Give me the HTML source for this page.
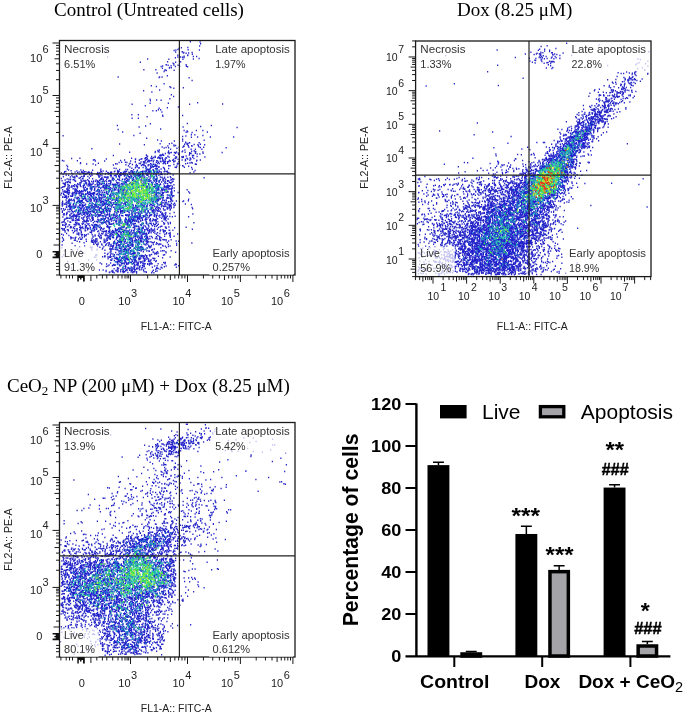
<!DOCTYPE html><html><head><meta charset="utf-8"><style>html,body{margin:0;padding:0;background:#fff;}svg{display:block;}</style></head><body><svg width="685" height="716" viewBox="0 0 685 716"><g id="dots"><g transform="scale(0.25)" stroke-width="5.2" fill="none"><path stroke="#2828c8" d="M759 167h5m34 1h5m-3 7h5m-401 8h5m314 8h5m21-1h5m42-6h5m-378 22h5m266-4h5m2-2h5m3-2h5m0-4h5m7 13h5m-4 0h5m18-8h5m40 1h5m-100 8h5m4 13h5m17-9h5m-3-2h5m4 3h5m1 9h5m-4-2h5m-2-8h5m9-2h5m-4 7h5m-344 11h5m155 8h5m80 1h5m21-6h5m5-3h5m6 0h5m3 1h5m-4 8h5m0-7h5m-5-5h5m32 1h5m-5 10h5m8-10h5m5 8h5m-240 15h5m104-2h5m17 6h5m5-4h5m15-2h5m-83 19h5m1-2h5m9-5h5m-4 0h5m2 2h5m1 9h5m1-7h5m-4 8h5m5-15h5m-5 4h5m1 6h5m6-5h5m1 4h5m21-6h5m-4 6h5m0 2h5m-180 12h5m43 0h5m21-6h5m2 13h5m-2-6h5m-3 0h5m-1 2h5m7-10h5m14 9h5m194-8h5m-272 19h5m36 11h5m-202 5h5m159 2h5m-3-2h5m5 0h5m103 3h5m-105 24h5m107-13h5m-168 21h5m15 3h5m49 1h5m-1 3h5m45 1h5m-164 12h5m59-3h5m52-7h5m-93 15h5m73 11h5m-90 18h5m74-2h5m10-9h5m-99 27h5m-4-10h5m20-3h5m13 1h5m24 12h5m112-2h5m-267 6h5m48 6h5m83 8h5m39-3h5m40-11h5m127-1h5m-284 27h5m9 0h5m3-4h5m-2-6h5m1 6h5m-120 20h5m21 0h5m89-11h5m-2 13h5m75 1h5m-207 11h5m20 0h5m-5 0h5m30-6h5m58-2h5m-55 30h5m143-1h5m-285 8h5m82 6h5m21-4h5m145 4h5m65-2h5m38-4h5m98 8h5m-481 8h5m165-2h5m89 6h5m7 2h5m-3 3h5m30-5h5m21 0h5m-564 21h5m233-15h5m40 14h5m20-9h5m179-4h5m16 9h5m-5 1h5m-2-9h5m6 9h5m27 3h5m13-14h5m-248 25h5m139 4h5m-5-11h5m8-2h5m17 5h5m20-1h5m46 0h5m88 0h5m-309 12h5m5 15h5m0-11h5m27 11h5m5-2h5m5-9h5m28 0h5m7 5h5m-4 2h5m4 2h5m1-2h5m33 0h5m15-10h5m-343 15h5m94 3h5m66 9h5m11 2h5m2-6h5m-2 7h5m16-11h5m-4 4h5m1-2h5m9 7h5m10 0h5m-2-5h5m-3 1h5m-3-8h5m4-1h5m-2 3h5m-2 4h5m-3 6h5m6-6h5m-3 1h5m3-6h5m10 1h5m-3 3h5m-3 5h5m1-10h5m-5 13h5m8-1h5m-1-10h5m81 12h5m-542 4h5m249 11h5m5-4h5m-4 4h5m0-6h5m14-8h5m13 12h5m3-7h5m20-4h5m5 5h5m6 9h5m-3-3h5m4-4h5m20-3h5m-3 8h5m5-2h5m-1 3h5m-4-9h5m-3 10h5m19-10h5m-359 25h5m60-13h5m62 11h5m-5 2h5m30-12h5m11-2h5m-1 13h5m-1 2h5m-2-2h5m2 0h5m2-7h5m6-3h5m-4-2h5m-2 6h5m-2-4h5m1-1h5m6 11h5m-4-11h5m-1 1h5m-4 2h5m-2-5h5m2 4h5m-3 6h5m21-9h5m12 11h5m-4-9h5m-5 3h5m-5-1h5m-2 1h5m-3 0h5m-4-1h5m0 9h5m0 0h5m2-9h5m2 3h5m6 0h5m7-8h5m-4 5h5m71-3h5m-607 24h5m28-1h5m54 6h5m42-3h5m96-3h5m10 4h5m-4-1h5m16 1h5m-1-2h5m7-1h5m-2-1h5m-5-2h5m0-1h5m-3 5h5m-4-10h5m8 8h5m-2-7h5m-5 7h5m-1 0h5m0-3h5m0-5h5m-4 4h5m4 3h5m-1-4h5m-2 5h5m-3 1h5m-4-4h5m-4 5h5m3-3h5m-4 6h5m-4 0h5m4-2h5m-4 3h5m-3-8h5m-2 1h5m0-7h5m0 4h5m13 9h5m1-5h5m-2 1h5m-5-7h5m-2 2h5m1 8h5m10-10h5m-4 3h5m0-1h5m-5-3h5m3 12h5m-2-14h5m-2 9h5m-2 3h5m5-4h5m-4 3h5m-3 1h5m2-7h5m0 5h5m8-8h5m26 2h5m-575 14h5m1 2h5m49-1h5m7 11h5m-4-3h5m46-11h5m3 4h5m7 9h5m20-9h5m39 11h5m9-5h5m1-8h5m-1 7h5m7-9h5m-2 9h5m1 1h5m8 3h5m-3-9h5m14 4h5m-5-2h5m10 8h5m-4-14h5m-5 1h5m-1 13h5m-2-6h5m4-1h5m-3 5h5m-4 2h5m-4-5h5m-4-1h5m-3-3h5m-4-4h5m-2 11h5m1-5h5m-3-5h5m-2 2h5m-4 3h5m-4-4h5m1 0h5m-1-1h5m-5-2h5m1 7h5m-3-6h5m6 2h5m-1 1h5m-5 10h5m2 0h5m1-7h5m6-3h5m-4 5h5m-5 3h5m-3-6h5m-3 4h5m-2-4h5m-5 9h5m3-2h5m-5-6h5m0-1h5m-3-5h5m-1 3h5m4-3h5m-1 4h5m-4 3h5m0-4h5m6 9h5m-1-7h5m8-6h5m8 3h5m-4-2h5m-5 14h5m3-2h5m4-12h5m-5 11h5m1-2h5m-1 2h5m12-8h5m-4-3h5m9-1h5m-539 22h5m-2 5h5m71-11h5m21 0h5m5 4h5m66 0h5m10-4h5m30 3h5m5 4h5m-1-7h5m-3 12h5m5-10h5m7 13h5m-3-7h5m-3-6h5m-2 10h5m-4-5h5m2 8h5m4-9h5m2-3h5m-5 11h5m3-7h5m-3 3h5m5-3h5m-5-3h5m-1-1h5m2 3h5m-3 8h5m-3-13h5m-3 9h5m-3 2h5m-2-11h5m-2 8h5m-2-7h5m-3 6h5m-4-6h5m0 6h5m2 5h5m13 1h5m16-7h5m1 0h5m10-5h5m0 11h5m0 1h5m-3-6h5m-3-8h5m2 0h5m-3 5h5m7 2h5m-3 1h5m0 5h5m12-4h5m7 5h5m10-13h5m-5-1h5m-1 1h5m-532 30h5m0-1h5m1-10h5m0 4h5m5 3h5m18 1h5m11-4h5m-2 7h5m2-5h5m-1 5h5m1 0h5m7 0h5m10-6h5m28-4h5m-4 10h5m-4-1h5m2-2h5m8 1h5m26-12h5m-4 14h5m-3-2h5m0-11h5m1 12h5m-5-4h5m0 3h5m-2-7h5m15 9h5m-4-2h5m-5 1h5m-4 1h5m-2-9h5m2 0h5m8 6h5m-2-1h5m-4-10h5m2 6h5m6 8h5m30-3h5m-3 2h5m-4-11h5m-3 10h5m-2-6h5m-2-3h5m-1 3h5m-2-2h5m-3 5h5m7-3h5m1 6h5m-4 1h5m-3-11h5m0 2h5m-4-3h5m-5-1h5m-3 12h5m2-4h5m-3 6h5m13-14h5m-5 14h5m-4-13h5m-4 4h5m-4 7h5m1 1h5m-1-1h5m0-11h5m90 3h5m6 5h5m-540 10h5m2 6h5m0-7h5m2 9h5m-4 0h5m4 1h5m7-8h5m-4 10h5m-1-7h5m4-8h5m5 3h5m1-3h5m-2 9h5m1-8h5m0 0h5m-4 1h5m-4 3h5m-2 9h5m-4-3h5m-4-5h5m0 3h5m-3-1h5m-1-3h5m-2-1h5m-5-2h5m0 0h5m-3 9h5m-4-8h5m2 4h5m-5-6h5m-4 4h5m-4 8h5m14-4h5m-2-7h5m-5 6h5m-4-1h5m-4 3h5m-5 2h5m-3-6h5m-5 8h5m-3-9h5m-2-2h5m3 10h5m-3-8h5m7 3h5m-4-2h5m4-4h5m-3 6h5m0-2h5m-1 1h5m-5-6h5m-5 4h5m-4-2h5m-5 11h5m-3-1h5m12 1h5m2-5h5m-5-4h5m4 4h5m-3 3h5m-4 2h5m-4-11h5m-2 1h5m-5 8h5m2-4h5m-4-7h5m-3 1h5m-4 7h5m-5 1h5m-5-3h5m0 5h5m-3-7h5m0 6h5m-4 3h5m1-13h5m-2 8h5m-3-1h5m-2-7h5m-5 14h5m4-11h5m-2 1h5m-5-5h5m-1 9h5m0 6h5m-4-12h5m4 11h5m-4-12h5m7-1h5m0-1h5m4 5h5m-1 2h5m1-1h5m-4-5h5m3-1h5m-2 13h5m-5-4h5m6-9h5m-4 6h5m-3-2h5m2 3h5m-3-3h5m2 0h5m6-4h5m-1 10h5m6 0h5m5-1h5m-5-9h5m-2 2h5m0 3h5m-1 1h5m6 6h5m63-9h5m10-3h5m-535 26h5m3-7h5m10 9h5m2 1h5m1 2h5m-5-11h5m-4 9h5m4-9h5m-4 11h5m-3-1h5m-3-9h5m-2-3h5m-5 6h5m2-8h5m-3 2h5m3 7h5m0-2h5m-1-5h5m-1 9h5m-2-1h5m-5-7h5m0-2h5m9 1h5m1 6h5m0-7h5m3 10h5m20-9h5m-4 3h5m-1-5h5m-5 0h5m0 11h5m-4 2h5m-3-8h5m-1 8h5m4-8h5m0 8h5m-3-7h5m-1 2h5m7-5h5m0 8h5m-3-5h5m-5 3h5m-2 1h5m-3 4h5m4-13h5m0 12h5m1 0h5m-4-11h5m-4 4h5m14-6h5m-5 13h5m2-8h5m-3 4h5m-1 4h5m2-10h5m7 7h5m6-9h5m2 6h5m-1 5h5m4-7h5m0-4h5m9 3h5m2 11h5m-3-7h5m7 2h5m10 2h5m3 0h5m-1 3h5m-5-4h5m-4-2h5m-5-1h5m8-4h5m1 2h5m-4-1h5m-2 7h5m-2 0h5m-2-4h5m-4-3h5m-1 8h5m4-8h5m5-2h5m-3 4h5m-1 8h5m-2-4h5m0 2h5m116-6h5m-573 12h5m-1 10h5m-1 1h5m-1-14h5m-5 14h5m-3-4h5m1-3h5m1-2h5m-3 4h5m0 2h5m-5-2h5m12-9h5m-4 3h5m-2 2h5m3 10h5m4-4h5m-1-11h5m-4 9h5m-5 2h5m-4-7h5m1 1h5m-1-3h5m-1 3h5m-3-2h5m-3-1h5m-4 8h5m-5 0h5m-3 3h5m3-10h5m-3 10h5m-4-4h5m-2 5h5m7-6h5m5-3h5m-3-5h5m0 15h5m-4-11h5m-4 5h5m-2-2h5m-2-5h5m-4 9h5m6 3h5m9-11h5m-2 4h5m-5 8h5m7-13h5m-1 4h5m17-3h5m-3 7h5m-3 1h5m2 0h5m-1-9h5m12 7h5m0 0h5m-4 4h5m-2-2h5m0-7h5m-3-3h5m1 14h5m10 0h5m-4-10h5m-2 1h5m-2-2h5m-2 3h5m3 2h5m8 1h5m-5-9h5m3 2h5m-2 7h5m-3-7h5m1 0h5m-4-3h5m2 4h5m-2-4h5m-1 0h5m0 3h5m-1 7h5m3-8h5m4 13h5m-3-10h5m-5 10h5m-5-14h5m-2 14h5m1-8h5m-4 2h5m-3-6h5m8-1h5m-1 2h5m1 1h5m3-2h5m-4 12h5m-5-10h5m-1-2h5m-2 6h5m-1 2h5m-4 1h5m-4-12h5m0 8h5m-1-3h5m-448 24h5m-2-2h5m-1 0h5m-4-10h5m-3 3h5m-4 2h5m-5 2h5m-4-6h5m5 13h5m-5-13h5m-4 1h5m-5 7h5m0-4h5m-3 7h5m2-5h5m-4 5h5m0-6h5m-4 1h5m-5 0h5m-1 2h5m2-5h5m-4 5h5m-3-4h5m-2 5h5m4-10h5m-3 6h5m-3 3h5m5 3h5m-5-5h5m-1-3h5m5-2h5m0 5h5m-2-7h5m-3 1h5m1 3h5m-5-2h5m-3 12h5m-2-14h5m-5 9h5m-3 4h5m-2-3h5m-2 0h5m-1-8h5m2 8h5m-4-8h5m-3 4h5m-4-1h5m-2 8h5m-3-1h5m-2-11h5m0 12h5m2-2h5m-4-1h5m-3-1h5m3 0h5m-4-6h5m-4 4h5m-3-2h5m-4-4h5m-1 5h5m-3 3h5m3 5h5m-5-13h5m4-1h5m0 13h5m2-6h5m-5 5h5m-3-10h5m-5 10h5m-3-9h5m1 3h5m-3 8h5m-3-8h5m-4 7h5m5-4h5m-4-8h5m0 7h5m-3 4h5m26-12h5m0 2h5m42-1h5m-2-2h5m12 13h5m10-2h5m0-9h5m-4 12h5m6-10h5m-4 7h5m-2 1h5m-4 0h5m-3-4h5m0-6h5m8-2h5m-3 11h5m-5-4h5m0 5h5m-4-2h5m-3 5h5m-1-8h5m-4 6h5m-2-5h5m-4 7h5m-2-7h5m-4 1h5m0-3h5m1 3h5m1-6h5m-456 13h5m1 7h5m-3 7h5m1-2h5m-3 1h5m1 2h5m-4 0h5m-5-9h5m-5-3h5m-3 5h5m-4 1h5m-3-3h5m-3 5h5m-3 0h5m17-7h5m-3 7h5m-3-7h5m-5 5h5m-1-2h5m-4 6h5m-3-13h5m-2 15h5m0-4h5m0 4h5m-1-3h5m5-10h5m-4 6h5m1 1h5m-4-2h5m-1-1h5m-4-3h5m-4 12h5m5-15h5m-3 4h5m-2 6h5m-3-5h5m5 4h5m-4-6h5m-5 4h5m6 5h5m-4-6h5m-4 4h5m-3-4h5m-3 8h5m2-12h5m8 8h5m-3-8h5m-2 2h5m0 11h5m6-7h5m-2 0h5m1 4h5m-2-11h5m5 3h5m-2 1h5m8-3h5m-5 5h5m-5 7h5m4-13h5m2 11h5m-5-10h5m12 10h5m3-10h5m15 9h5m0-10h5m77 1h5m-2 7h5m1 0h5m10-2h5m-5-6h5m0 7h5m-2-4h5m1 1h5m-1 3h5m-2 4h5m0 2h5m-2-9h5m3-1h5m-4 0h5m-5 11h5m-3-12h5m-5 7h5m-4-10h5m-5 2h5m-3-2h5m2 0h5m-4 11h5m46-4h5m1 8h5m-516 13h5m-3-7h5m7 7h5m-3-12h5m-1 14h5m0-10h5m-2-1h5m-2 5h5m-4 0h5m-2-6h5m5 4h5m-4 8h5m-4-1h5m-3-5h5m-5-4h5m1-1h5m-3 11h5m0-11h5m-3 2h5m5-1h5m-4 3h5m-4 8h5m-1-12h5m-5 12h5m-3-2h5m-5-3h5m-3-4h5m1 3h5m-5-1h5m4 1h5m2-3h5m-1 4h5m0 0h5m-5-10h5m-2 5h5m-4 10h5m-4-7h5m-4-2h5m-4 1h5m3-4h5m-4 8h5m-4 3h5m-3-8h5m-4 0h5m-5-4h5m6 4h5m-3 5h5m-1 3h5m-2-6h5m-4-8h5m-5 10h5m0 1h5m-2-3h5m-4-7h5m-3 0h5m1 10h5m8-2h5m0-9h5m8 1h5m-1 1h5m-3 8h5m7-7h5m-3 8h5m1-9h5m8 12h5m12 0h5m45-4h5m16 3h5m11-8h5m20-5h5m-2 10h5m2-7h5m1 0h5m7 5h5m-2 5h5m-4-1h5m-4-11h5m-5 10h5m-4-10h5m-2 3h5m-4 10h5m10-14h5m-4 12h5m-2-12h5m-2 13h5m3-11h5m-4 7h5m-5-5h5m-2 0h5m-5 9h5m-4-9h5m2 11h5m12-13h5m41 2h5m-512 16h5m5 0h5m-1 3h5m-5-6h5m2 3h5m-4-2h5m-1 11h5m-4 1h5m-2-14h5m-1 13h5m-5-12h5m-1 0h5m2 12h5m2-7h5m-1 4h5m2-3h5m-1 4h5m2-7h5m-2 7h5m-4-9h5m-3 10h5m-1-1h5m-3-7h5m-4-1h5m-4-2h5m8 11h5m2-4h5m2-5h5m0 1h5m-2 4h5m-4 5h5m-4 2h5m-1-3h5m-1 3h5m-4 0h5m0-3h5m0-7h5m-4 0h5m-4 4h5m-2-2h5m-2 1h5m-3 4h5m-3-4h5m0-8h5m7 8h5m3 6h5m-5-8h5m6 0h5m4 7h5m-4 1h5m-4-3h5m0 0h5m-4 4h5m0-8h5m7 4h5m3 2h5m17 0h5m-2 1h5m2-12h5m3 3h5m4 4h5m10-3h5m40 9h5m0-4h5m2 1h5m2-10h5m-2 0h5m2 7h5m3 3h5m-4-8h5m-3 2h5m2 6h5m2-5h5m-2 5h5m11-3h5m-4-3h5m-4 3h5m-4-4h5m-4 1h5m-3 2h5m2-7h5m-3 9h5m-5 4h5m-4-7h5m-2 6h5m-2-10h5m-2-3h5m57 13h5m-510 13h5m-4-5h5m-4 8h5m8-3h5m-4 0h5m-2-4h5m-1 7h5m-3-12h5m-3 9h5m-4-7h5m-4 11h5m0-13h5m6-1h5m-5 15h5m-2-7h5m11-5h5m-1 0h5m-4 2h5m-2 5h5m-3-6h5m-1 2h5m-2 4h5m8-9h5m10 13h5m-3-1h5m-4-9h5m-2 1h5m8-2h5m1 6h5m-3-4h5m-4 0h5m-5 3h5m4-1h5m0-5h5m-2-1h5m26 12h5m-4-5h5m-4-2h5m3 3h5m-5 6h5m-2-14h5m10 9h5m4 1h5m-4-6h5m-3 1h5m8 6h5m8-2h5m-4 5h5m-4-7h5m0 1h5m8 6h5m-5-15h5m25 9h5m-3 0h5m1-2h5m3-7h5m-4 9h5m0-7h5m-2 12h5m21-11h5m5 9h5m-3-7h5m2 3h5m0-6h5m0 3h5m-2-3h5m-4-1h5m3 12h5m5-2h5m3-2h5m-4 2h5m-1 0h5m11-5h5m-1 7h5m-4-10h5m-1 1h5m3 9h5m2-9h5m21 2h5m-2-2h5m14-1h5m-510 15h5m-4 6h5m-3-5h5m2-3h5m-3 1h5m0 11h5m3-2h5m-1-9h5m-5 5h5m0 3h5m-4-1h5m-2 4h5m1-4h5m-5-4h5m-4-3h5m1 9h5m-1-2h5m-4-6h5m8 12h5m-4-8h5m-4-2h5m-1 2h5m2-1h5m-3 6h5m5-10h5m1 14h5m-3-4h5m-1 2h5m-3-6h5m-3 7h5m-1-7h5m0 6h5m-4 1h5m-4-9h5m-4 3h5m4 1h5m-4 2h5m-2-4h5m-2 3h5m-3 2h5m6 3h5m3-6h5m-4-7h5m-3 3h5m4-4h5m-4 13h5m-4-4h5m3-8h5m-1 4h5m-1-5h5m2 7h5m-4-4h5m-1 2h5m12 7h5m-5-11h5m-3 2h5m2 10h5m-2-11h5m6 4h5m0-7h5m3 4h5m-3 3h5m9 6h5m8-10h5m-3 5h5m4 4h5m-5-5h5m12 3h5m0 0h5m-1 0h5m-4-6h5m14 4h5m5-2h5m-1-3h5m-3 10h5m-3 2h5m-2-9h5m-1-2h5m0 6h5m1 3h5m7-9h5m0-2h5m-1 9h5m-4-3h5m-3-3h5m2 6h5m-3-2h5m-4-8h5m-3 1h5m-4 7h5m1 3h5m-4-9h5m-2 12h5m0-9h5m-5-4h5m-3 8h5m-5-4h5m-3-3h5m-4 7h5m-5-5h5m-1 7h5m3-11h5m-3 13h5m-4-8h5m-5 1h5m0-3h5m35-4h5m19 2h5m-2 12h5m-528 5h5m-1 9h5m-1-9h5m-2 6h5m0-4h5m5 1h5m2 0h5m-4 9h5m-4-12h5m-4 3h5m-4-6h5m-1 10h5m7 3h5m1-3h5m-4-2h5m2 4h5m-4 3h5m-5-7h5m-4 3h5m-4-3h5m-5 5h5m-4-5h5m-3 3h5m1-7h5m-5 5h5m2 4h5m-4-3h5m-3 0h5m4-3h5m4 8h5m-2-14h5m-1 6h5m-1-3h5m3 6h5m-2 2h5m-5-8h5m-4 1h5m-3-5h5m-5 14h5m0-6h5m-2 0h5m-3 7h5m-1-7h5m0-3h5m-4 4h5m-1 5h5m6-6h5m0-6h5m-1-1h5m-4 2h5m-3-1h5m-3 12h5m-5-7h5m-2 3h5m-1-6h5m-3 3h5m-2 7h5m15-10h5m0-3h5m0-1h5m-4 7h5m-5 8h5m-2-1h5m-2-8h5m2 6h5m-3 3h5m-5-14h5m-4 13h5m-5 0h5m-4-2h5m-2-1h5m0 3h5m-4-4h5m-5-3h5m-4 4h5m13 0h5m-3-9h5m5 10h5m-2-8h5m-2 9h5m-5-7h5m-1 5h5m-4-11h5m-3 10h5m-3-5h5m-2 2h5m0 0h5m3 5h5m-1 2h5m14-8h5m6 6h5m-3 1h5m2-7h5m1-2h5m-4 7h5m-4-10h5m-4 9h5m-4 5h5m-3-3h5m-3-6h5m-5 3h5m1 4h5m-3-10h5m-1 5h5m-2-8h5m-5 11h5m-1-6h5m-3 8h5m-3-13h5m-1 4h5m-3 10h5m5-11h5m-2 6h5m7-6h5m-3 1h5m2-4h5m-2 8h5m-4-2h5m-2-5h5m81 2h5m-526 14h5m-1 9h5m-3 2h5m-4-1h5m-5-4h5m4 4h5m-4-5h5m-3-2h5m5 8h5m-5 0h5m-4 2h5m-4 1h5m-2-7h5m-1-3h5m1-5h5m-1 12h5m-3 1h5m-1 1h5m-4 1h5m-2-5h5m0-7h5m-1 6h5m0-3h5m-2 2h5m1-6h5m-2-1h5m-4 8h5m-2-6h5m-4 6h5m-3 6h5m-5-15h5m-1 4h5m-5 2h5m-2 2h5m-5-6h5m-3 9h5m-5-4h5m-1-4h5m-1 8h5m-4 4h5m5-1h5m-2-14h5m-1 1h5m9 7h5m0 5h5m-5-2h5m-4 1h5m1-11h5m-5 10h5m-4-11h5m-4 9h5m-5 6h5m1 0h5m-2-13h5m-3 1h5m-4 1h5m-5 11h5m-1-6h5m5 1h5m3 2h5m3 0h5m6-5h5m-2-7h5m1 4h5m4-4h5m3 1h5m-5 1h5m-1 12h5m0 1h5m-4-15h5m6 11h5m-1 4h5m4-12h5m-5 11h5m6-8h5m-4-3h5m-5 10h5m-2-9h5m10 11h5m1-14h5m1 7h5m-2 2h5m-2-5h5m12 7h5m-1-4h5m-3 5h5m-2 2h5m-2-15h5m0 13h5m0 1h5m-2-3h5m6-4h5m-5 5h5m-4-10h5m-3 10h5m23 2h5m-4-5h5m-5-5h5m0 8h5m1-7h5m-3 5h5m-5 2h5m-4-9h5m11 3h5m12-4h5m70 6h5m-525 12h5m1 11h5m-4-1h5m-5 0h5m-3-2h5m2-3h5m-5-2h5m-5-1h5m0 3h5m1 0h5m1 1h5m-4-7h5m-2-2h5m-1 6h5m-5-4h5m-5 8h5m-4-11h5m4 11h5m-5-10h5m0 1h5m-2 12h5m0-3h5m11 2h5m-4-3h5m-4-4h5m-2-2h5m5 2h5m-4-3h5m-3 8h5m-2-8h5m-1 6h5m-1 6h5m3-13h5m-4 9h5m-4-7h5m-3 11h5m-4 0h5m-5-7h5m13 5h5m-1-12h5m0 14h5m-4-1h5m-1-3h5m-3 2h5m-1-13h5m-4 14h5m-5-6h5m-1 5h5m-3 1h5m-2-4h5m-2-4h5m2 1h5m-4 4h5m-4-2h5m-2 5h5m1-12h5m-5 12h5m-5-7h5m8-2h5m1 2h5m-1-5h5m-3-2h5m0 12h5m-1-11h5m-2 5h5m-4 7h5m-5-5h5m29 7h5m-1-4h5m11-1h5m-4 2h5m-4 3h5m-4-9h5m-3-2h5m-2 11h5m1-14h5m-3 13h5m-2-9h5m-4 3h5m-1-5h5m-2-2h5m1 5h5m10 3h5m-4 4h5m-4-7h5m-2 7h5m5-10h5m-1 8h5m-5 2h5m6-1h5m-1-12h5m-5 15h5m1 0h5m-2-12h5m-5 4h5m5-7h5m-1 5h5m2 4h5m0-6h5m0 12h5m-5-6h5m-4-8h5m-4 3h5m-3 6h5m-3 4h5m-4-10h5m-5 4h5m-3-2h5m-1-5h5m-2 11h5m2-10h5m5 1h5m6-2h5m49 2h5m-512 23h5m-1-2h5m-1-1h5m-4-1h5m-4-6h5m-2 11h5m6-7h5m3 4h5m4-7h5m-3 1h5m-4-2h5m9 14h5m-3-5h5m-1 5h5m-2-13h5m-4 13h5m-4-13h5m7 13h5m-2-7h5m0-4h5m-4 4h5m-2-2h5m-1 2h5m-5 1h5m-4-3h5m-3-5h5m-4 14h5m-3-10h5m9 1h5m1-4h5m-2 10h5m0-5h5m2 0h5m1 4h5m-2-7h5m1-1h5m-5 8h5m-4-8h5m-2 0h5m-2 11h5m-1-2h5m-4-3h5m-3-2h5m-5 6h5m4 0h5m5-4h5m-3-4h5m-4 5h5m-3 3h5m5 3h5m1-2h5m5-4h5m-4 6h5m-5-12h5m2 1h5m-2 1h5m-5 6h5m-2 0h5m-4 1h5m-5-4h5m-4-6h5m-2 2h5m-4 10h5m15-1h5m-5-13h5m-1 1h5m-2 4h5m9 6h5m0-9h5m-4 13h5m-4-1h5m-3-12h5m-2 1h5m-3 2h5m2-1h5m1 4h5m-3-3h5m3-1h5m-4-1h5m-1 11h5m-2-13h5m8 3h5m-4 9h5m-4-5h5m-4 7h5m9-11h5m-2 0h5m2-1h5m-3-3h5m-4 14h5m1-12h5m-1 4h5m-4 6h5m-4 1h5m-5-11h5m1 5h5m12-2h5m1 6h5m-1 3h5m1-11h5m2 7h5m5 0h5m-5 4h5m89-3h5m-530 10h5m-5-1h5m-4-1h5m6 8h5m-5 3h5m-5-12h5m-5 7h5m4 1h5m0-7h5m-3 1h5m-2 11h5m-4-4h5m-4 4h5m-4-2h5m-4-1h5m3 1h5m-2-11h5m-2 8h5m-5-8h5m0 2h5m3-2h5m-3 0h5m-2 0h5m-4 12h5m-3-7h5m1 8h5m-3-1h5m-4-12h5m-4 10h5m5-10h5m-4 12h5m-5-5h5m-2 2h5m3-8h5m1 4h5m4-4h5m-2 3h5m-1 9h5m-3-2h5m-4-4h5m-2 6h5m-4-13h5m-4 5h5m-1-3h5m-4 4h5m-2 2h5m-3 0h5m0 3h5m-1-1h5m-1 3h5m16-13h5m-1 8h5m-4 2h5m0 3h5m-4-14h5m0 0h5m0 0h5m19-1h5m10 12h5m3 1h5m-2-2h5m-2-9h5m0 13h5m-3-12h5m0-1h5m15 12h5m-3-12h5m-3 5h5m-4 7h5m5-5h5m1 0h5m-4 3h5m-4-1h5m1-8h5m5 11h5m-1-8h5m1 3h5m-2 5h5m3-10h5m-3 1h5m-5 1h5m-4 5h5m5-9h5m-1 5h5m1-5h5m-3 1h5m-1-1h5m-1 7h5m-1-4h5m-1-4h5m-5 13h5m2-2h5m-1-3h5m-2 0h5m4-8h5m0 11h5m-3 1h5m5-13h5m-3 12h5m18 3h5m41-2h5m-503 5h5m0 6h5m-5-5h5m1 6h5m-5-6h5m-2 9h5m4-5h5m-1 4h5m-5-3h5m11 2h5m-1-10h5m-4 0h5m-2 14h5m-4-11h5m-4 9h5m3-9h5m-4 9h5m-4-8h5m8-1h5m-4 7h5m4-8h5m3 2h5m-5 7h5m-3 0h5m1-11h5m-3 7h5m6-3h5m-1 7h5m-2 0h5m2 1h5m-1-5h5m2-2h5m-1 9h5m-1-2h5m2-8h5m-4 4h5m-5-1h5m-2-7h5m-5 1h5m-2 12h5m-2-8h5m-4-1h5m-2 9h5m-4-11h5m-1 12h5m0 1h5m-4-3h5m5 1h5m-5-10h5m-3 9h5m-4-4h5m6 2h5m6-7h5m1 6h5m0-2h5m6-5h5m1 11h5m1-3h5m-3 1h5m-4 1h5m-5-3h5m11 5h5m14-3h5m-2-2h5m-3-3h5m-4-6h5m8 3h5m-4 5h5m-3-2h5m-1 0h5m1 6h5m-4-4h5m-4-6h5m-4-1h5m-1 1h5m1 11h5m6-5h5m-4-2h5m1 3h5m3-6h5m-4-1h5m-3 4h5m-3 6h5m1-3h5m-2-5h5m-4 9h5m5-8h5m6 7h5m-3-4h5m4-1h5m-3 6h5m-3-3h5m-5 5h5m0-3h5m-4-1h5m-5 1h5m-3-12h5m-3 1h5m6 8h5m-3 0h5m8 0h5m73-4h5m-528 20h5m2 3h5m2-12h5m1 6h5m4 8h5m13-11h5m10 6h5m-5-4h5m1-1h5m-5 7h5m-4-6h5m-5 6h5m4-3h5m-4-7h5m-4 10h5m-2-1h5m3 1h5m-3 3h5m-1 1h5m-3-4h5m10-10h5m0 2h5m-2 7h5m6 4h5m-4-2h5m8 2h5m-2-6h5m-5-3h5m1 8h5m-3 2h5m-3-9h5m-2 1h5m-3 0h5m-3-7h5m5 15h5m2 0h5m-3-10h5m1-4h5m-4 8h5m-4 2h5m-3-3h5m-4-2h5m-1 0h5m-4-4h5m0 0h5m-3 9h5m-1-7h5m5 2h5m-2 3h5m6 0h5m-3-7h5m0 12h5m-2-13h5m-4 7h5m6 4h5m-3-9h5m-4 7h5m-5 0h5m-2-8h5m-3 8h5m-2-2h5m-4 0h5m6-3h5m-1-2h5m3 3h5m-5 1h5m-4-4h5m1 10h5m-4-7h5m-2-5h5m6 4h5m0 7h5m-4-12h5m-1 8h5m-5-6h5m4 4h5m-4 9h5m-3-4h5m-3-6h5m-5 8h5m23-12h5m6 8h5m-1-6h5m-4 0h5m-5 11h5m-3 1h5m2-9h5m11-4h5m-1 7h5m1-2h5m-4-4h5m4 3h5m-2 8h5m-3-9h5m-5-3h5m-4 8h5m24-2h5m-466 14h5m-2 5h5m25-7h5m-4 7h5m-4-2h5m-3-3h5m1 2h5m3 0h5m-4 2h5m-3-5h5m6 7h5m0-6h5m-2 7h5m-1 0h5m-4-13h5m-3 7h5m3-4h5m26 7h5m-2-9h5m-4 3h5m3-4h5m-2 13h5m-5-2h5m0 1h5m3-11h5m-3 3h5m-4 3h5m0 3h5m-4-4h5m6 7h5m3 1h5m-2-5h5m0-4h5m-1-5h5m-4 7h5m-5 4h5m-4-8h5m-2 10h5m-4-12h5m2 5h5m12 2h5m-4-6h5m4 1h5m-3 0h5m-4 9h5m3-7h5m0 1h5m-3 0h5m-4 3h5m3-8h5m10 6h5m0 7h5m-5-4h5m4-3h5m2-6h5m-3 9h5m0 5h5m-2-12h5m6-1h5m-1 5h5m-4 3h5m-1-2h5m-4 2h5m9 3h5m-3-8h5m-3 5h5m0 2h5m1-10h5m-5 9h5m2-9h5m-2 5h5m7 3h5m-1-7h5m-3 6h5m-4 3h5m4 3h5m-4-5h5m-5-8h5m-4 2h5m0 3h5m2 7h5m-3 1h5m0 0h5m-5-14h5m1 14h5m11-15h5m-4 5h5m-2 10h5m7-14h5m-452 21h5m0-5h5m29 12h5m4-12h5m-1 0h5m2 4h5m5 2h5m13 4h5m4-6h5m15 1h5m-4-5h5m-4 4h5m-4 4h5m-3-6h5m-2 6h5m-4-9h5m-1 5h5m-3 0h5m-5 5h5m-4-6h5m-5-2h5m-4 10h5m-5-12h5m-2 6h5m-2-2h5m-1 8h5m4-5h5m10 3h5m-5-7h5m-3 2h5m1-1h5m2 8h5m1-1h5m11 3h5m-2-3h5m-4-4h5m2 8h5m1-12h5m-1 4h5m3-1h5m-1 3h5m-2-6h5m-1-3h5m-2 12h5m-5 3h5m-4-9h5m-1-1h5m11 7h5m-1-3h5m0 6h5m-1-11h5m-4 6h5m7 1h5m-5-11h5m-4 0h5m-1 6h5m-5-4h5m1 9h5m-4 1h5m2-8h5m-3-3h5m8-1h5m1 4h5m-3 10h5m-3-13h5m-4 7h5m-4-4h5m-5 3h5m-2-1h5m-2 2h5m3-1h5m0 3h5m-1 1h5m0-3h5m4 3h5m0 4h5m6-15h5m-5 2h5m17 1h5m0 7h5m0-6h5m25 0h5m-3 10h5m3-9h5m48 7h5m-525 19h5m-4-11h5m47 3h5m13 5h5m15-4h5m18 6h5m2 0h5m1-14h5m-4 1h5m6 1h5m-2 1h5m-4 7h5m-3-9h5m2 12h5m2-13h5m-3 4h5m2 6h5m2-5h5m-4-1h5m-3-4h5m3 6h5m-4-1h5m-3-4h5m-1 10h5m-2-9h5m-5 4h5m-4-1h5m-5-3h5m1 12h5m-5-4h5m-3 1h5m8-10h5m-5 7h5m4-3h5m0-2h5m-5 9h5m-4-6h5m-4-3h5m0-3h5m-3 12h5m-2-5h5m-2-4h5m-5 7h5m-3 3h5m10-8h5m6 10h5m-3-12h5m13 8h5m-5-4h5m-5 7h5m-4-5h5m-1 4h5m-2-4h5m-3 5h5m-2-1h5m1-2h5m-4 2h5m-1-3h5m-4 3h5m7-11h5m4 13h5m-2-14h5m-2 8h5m-4-2h5m-3 6h5m-5-1h5m-3 3h5m-3-4h5m-3 1h5m-3-6h5m3-4h5m6-1h5m6 2h5m-2-3h5m0 1h5m-5 14h5m2-9h5m-3 2h5m4 1h5m-1 5h5m3-12h5m-5 8h5m2-2h5m21-3h5m-454 22h5m27-2h5m16-3h5m7 4h5m39-10h5m-4 8h5m16 0h5m-5-3h5m16-1h5m-3-4h5m3 9h5m16-5h5m-3 3h5m-4 2h5m-4 5h5m-4-10h5m-2-1h5m-1 2h5m3 0h5m-1 2h5m3 2h5m1 4h5m2-9h5m-4 8h5m2-5h5m-1 5h5m-2-8h5m0 5h5m-3 4h5m4-7h5m10 5h5m-4-2h5m5-5h5m4 4h5m2 1h5m-1-5h5m-3 8h5m-2-12h5m-2 5h5m-2 2h5m-5 8h5m-3-9h5m7 6h5m-5-1h5m5 2h5m4-5h5m-1-2h5m-5 1h5m2-3h5m8 11h5m8-3h5m2-1h5m1 0h5m2 4h5m16-4h5m-435 16h5m67-3h5m3-4h5m43 8h5m0 0h5m27-7h5m-5 10h5m5-5h5m-2-4h5m4 7h5m-3-5h5m-4-2h5m2 2h5m1 3h5m0-9h5m14 5h5m6 4h5m3 1h5m4 3h5m-3-13h5m-2 8h5m1-4h5m-2 1h5m3-1h5m-2-6h5m3 4h5m5 5h5m0-4h5m-4 10h5m1-1h5m-1 0h5m8-2h5m-1 3h5m-3 0h5m5-3h5m-2 0h5m1-2h5m1-10h5m1 8h5m-2-2h5m-1-4h5m-5 0h5m-4 6h5m1-3h5m16 7h5m0-1h5m1-8h5m33-2h5m-458 18h5m123 2h5m1-1h5m22-1h5m3 0h5m-3-1h5m6 2h5m-4 7h5m-2-7h5m-2 1h5m-2-1h5m-2-1h5m-1 8h5m-1-10h5m-1-1h5m-4 8h5m0 2h5m-1 2h5m-4-5h5m-3 6h5m-3-2h5m-3 0h5m-4 3h5m1 1h5m2-6h5m-3-3h5m-4-2h5m-4 5h5m-3-3h5m-1-1h5m-2 4h5m-1 0h5m-3-2h5m-1 3h5m13-9h5m-1 5h5m-4-3h5m2 1h5m-3 6h5m-5 2h5m-3-8h5m6 11h5m-2-1h5m-3-2h5m2-11h5m0 6h5m-4-7h5m-2 1h5m-4 1h5m-3 12h5m-4-4h5m0-6h5m-4 1h5m-4 8h5m7-13h5m0 15h5m2-6h5m0 1h5m-2 0h5m9-9h5m12 6h5m25-3h5m-415 18h5m40 0h5m34-6h5m11 12h5m11-12h5m9 12h5m37-12h5m-5 12h5m-1-11h5m6 1h5m1 5h5m1-2h5m-4 4h5m-4 4h5m-5-7h5m-1 0h5m-1-2h5m-4 5h5m0 3h5m-4-12h5m1 12h5m-1 3h5m1-10h5m-4 5h5m-4 0h5m5 3h5m9 1h5m-2 0h5m-2-2h5m-3-4h5m-1-2h5m-4-5h5m-2 9h5m-3-6h5m2 5h5m-5 6h5m4-3h5m0-4h5m0-4h5m-2 9h5m-2-8h5m-3-3h5m-5 13h5m5 0h5m-2-9h5m-4-5h5m-1 5h5m-5 8h5m-2-11h5m-2 10h5m-5-3h5m-2 5h5m-4 0h5m3-14h5m1 5h5m-2-3h5m2 12h5m17-5h5m0 3h5m-4 2h5m-4-5h5m-380 21h5m115-15h5m14 10h5m-4-10h5m0 8h5m0-4h5m8 3h5m-2-3h5m0 1h5m-1-1h5m3 11h5m4-9h5m-3 2h5m-1-4h5m2 11h5m-1-5h5m-2-10h5m-2 7h5m-4 5h5m-1-10h5m-3-2h5m-1 0h5m-5 14h5m7-2h5m-1 3h5m5-2h5m-5-10h5m-3 3h5m2-4h5m6 9h5m-5 1h5m-3-4h5m7 0h5m-2-8h5m-4 6h5m-4 4h5m8-9h5m-4-1h5m1 4h5m1-4h5m1 13h5m4-5h5m3 7h5m-3-8h5m11 6h5m-1-10h5m4 8h5m2-3h5m30-4h5m-2-4h5m-2 13h5m-5-11h5m4 5h5m-431 17h5m59 7h5m13-15h5m22 8h5m10 0h5m7 2h5m-5 4h5m18 0h5m-4-4h5m-1 3h5m-1-10h5m2 7h5m-4 1h5m0 4h5m-5-8h5m-3-2h5m-4 10h5m-5-5h5m-3-9h5m3 7h5m-5 7h5m-3-9h5m1 7h5m-4-8h5m-3 6h5m6-4h5m-5-1h5m-1 3h5m-5-3h5m-5 0h5m2-4h5m-4-1h5m-3 8h5m-4-6h5m0 6h5m-4 2h5m-5-1h5m-1-1h5m0 6h5m-4-11h5m-3 4h5m-3 7h5m-4-8h5m0-3h5m-4 11h5m-5-14h5m-3 2h5m-5-2h5m3 0h5m-4 6h5m2 0h5m-4-7h5m2 6h5m-3 4h5m-3 5h5m-1-13h5m-2 13h5m21-1h5m-1-5h5m4 4h5m-4-8h5m0-4h5m-5 11h5m-1-10h5m3 3h5m3-5h5m-216 18h5m-3-2h5m6 1h5m1 2h5m31-1h5m-2-2h5m11 2h5m8-2h5m1 0h5m-4 3h5m10 1h5m34-3h5m16 2h5m4 0h5"/><path stroke="#1e1ed0" d="M637 622h5m-1-2h5m2-3h5m-3 4h5m-71 18h5m45-8h5m7 1h5m-58 9h5m2 14h5m18-6h5m3 0h5m3-4h5m3-1h5m-2 10h5m-3 0h5m-90 4h5m1 3h5m-4-1h5m4 10h5m12-4h5m6 1h5m6 0h5m-3-3h5m4 3h5m-238 17h5m68 2h5m20 1h5m1-2h5m18 0h5m14 0h5m-4-4h5m1-9h5m4 15h5m2-3h5m10-4h5m2-1h5m-4 7h5m-3 1h5m-1-2h5m-4-12h5m7 8h5m11-6h5m10 1h5m-344 26h5m91-4h5m26-7h5m4 11h5m-3-7h5m-2-6h5m6 13h5m1-2h5m5-9h5m-4 12h5m2-6h5m5 0h5m15 4h5m1-9h5m7 0h5m-5-1h5m0 5h5m-3 6h5m-4-14h5m-4 4h5m5 7h5m-2-4h5m-5 7h5m-4-4h5m-3-6h5m-4 7h5m-3 1h5m-3-3h5m-4 0h5m-5-7h5m-5 9h5m-4 0h5m2-3h5m-4-8h5m-4 11h5m-4-5h5m-3 2h5m8 4h5m-4-5h5m-5-1h5m-2 4h5m-4 3h5m-4-4h5m1-5h5m2-4h5m-2 15h5m0-7h5m-4-1h5m-3-6h5m3 14h5m-4-6h5m-3-8h5m0-1h5m-2 13h5m1-3h5m-1-6h5m-4 5h5m-301 22h5m47-3h5m0-4h5m1 6h5m-1-10h5m2 1h5m2-2h5m13 12h5m20-13h5m10 11h5m5 2h5m-1-4h5m5-9h5m-2 11h5m-4-7h5m2-4h5m-5 3h5m-2-4h5m1 13h5m-4-7h5m1-6h5m-2 6h5m-3 5h5m-2-5h5m-1-7h5m-1 10h5m-5 0h5m-5-10h5m-3 7h5m-2-5h5m1 8h5m-4-3h5m-5-2h5m-5-4h5m2 6h5m-5-7h5m-5 0h5m-4 10h5m-4 4h5m13 0h5m-5-11h5m-4 11h5m2-10h5m0-4h5m1 8h5m-4-2h5m-3-4h5m0 13h5m-1-14h5m10 13h5m-377 12h5m67 2h5m10-6h5m5 0h5m1 8h5m-3-10h5m-5 2h5m9 6h5m-4-7h5m-2 4h5m1 4h5m-3-13h5m4 7h5m-2-3h5m0 10h5m-5-8h5m12-2h5m-4 11h5m-5 0h5m-1-12h5m-3 10h5m-3-9h5m-5 7h5m22 1h5m1-12h5m5 14h5m8-8h5m-5 7h5m-5-5h5m-1 0h5m-2-5h5m5 2h5m1 6h5m-2-1h5m-4 5h5m-2-14h5m-3 9h5m-4-10h5m-1 1h5m-1 14h5m0-2h5m-3-8h5m-4 4h5m-3 2h5m7-6h5m-4 4h5m-4-9h5m12 11h5m-1-8h5m-3-3h5m2 15h5m-4-9h5m-1 0h5m2 4h5m7-6h5m0 5h5m-2-5h5m15 4h5m8 3h5m-1 2h5m16-2h5m-391 8h5m9-1h5m4 2h5m7 3h5m-4 7h5m-1-12h5m-2 11h5m9-11h5m-3 5h5m0 3h5m-3-8h5m11 10h5m6-9h5m-1 9h5m-5-8h5m4-4h5m-4 1h5m2 5h5m-5 8h5m-5-2h5m-3-3h5m-4-2h5m-3-1h5m-3 9h5m-2-8h5m-4-3h5m-4 7h5m-3-5h5m-5 9h5m6-5h5m-5-2h5m10-5h5m-4 5h5m-2-7h5m-3 5h5m-2-2h5m-4-3h5m-1 14h5m0-14h5m0 6h5m-2-6h5m-3 11h5m1 1h5m-3-3h5m-3-10h5m-3 12h5m-3-12h5m-4 14h5m0-12h5m-4-2h5m-4 9h5m2-7h5m-3 3h5m-3-3h5m10-1h5m-1-1h5m15 13h5m-4-13h5m-2 14h5m3-9h5m-2 1h5m-4-6h5m-1 6h5m-5-3h5m-3-2h5m5 9h5m-3-1h5m-5 4h5m-5 1h5m-3 1h5m-3-6h5m-2-4h5m0 8h5m1-7h5m-2-1h5m-3-5h5m1 11h5m0-2h5m-1-4h5m-2 0h5m-4 9h5m-4-1h5m-4-9h5m1 0h5m-1-4h5m10 13h5m5-3h5m0-4h5m-2 1h5m-410 22h5m2-3h5m-5-8h5m11 1h5m3 9h5m-4 3h5m2-4h5m11 3h5m-3-2h5m0 3h5m-4-2h5m-1-5h5m0 4h5m1-10h5m26 1h5m1 10h5m9-2h5m3-1h5m10-4h5m-1-5h5m-4 3h5m-4 0h5m0 10h5m-4-13h5m-2 1h5m-5 11h5m0-8h5m1 10h5m-4-12h5m-3 5h5m2-3h5m-4 4h5m-4-1h5m2-8h5m-3 8h5m2 5h5m-5-5h5m2-2h5m-4 4h5m-4-8h5m2 6h5m-5-8h5m-3 0h5m-5 11h5m-4-4h5m0 3h5m-5-5h5m5 3h5m3-4h5m0 0h5m3-4h5m-4 0h5m-3 0h5m7 9h5m0-3h5m-2 1h5m-3 5h5m6-8h5m-4 7h5m7-2h5m-2 4h5m-1-4h5m-4 2h5m-5-3h5m-2-5h5m-2 3h5m-4-2h5m-2 0h5m-4-3h5m-5 11h5m-4-10h5m-4 13h5m1-9h5m-3-2h5m-5 8h5m-4 3h5m-4-13h5m-2 13h5m0-2h5m2-11h5m-5 0h5m-4-1h5m-1 4h5m-3-5h5m-4 1h5m-4 1h5m-4 3h5m3 7h5m-1-9h5m-3 5h5m2 0h5m-3 0h5m5-4h5m6-1h5m3 12h5m-439 6h5m-4 4h5m1-8h5m-1-1h5m3 3h5m-4 7h5m11-1h5m-4 4h5m-5 2h5m-4-13h5m4 6h5m0-1h5m5 0h5m-4-7h5m-3 0h5m5 8h5m2 3h5m2-2h5m-3-1h5m1-6h5m-1 2h5m0-4h5m-4 9h5m0 6h5m-1-9h5m-5 2h5m-1 2h5m-4-6h5m6 6h5m5-6h5m-2-3h5m2 14h5m2-4h5m0-9h5m-3 9h5m0-8h5m-3 1h5m-4 1h5m-1 3h5m2 7h5m-4-1h5m-2-5h5m-5 3h5m0-12h5m-2 4h5m6 4h5m-2 1h5m-4-2h5m-4 4h5m1-10h5m-3 2h5m-1 1h5m-5-3h5m4 6h5m-5-4h5m-3 7h5m-1-6h5m0 9h5m-4-6h5m-4 4h5m-5-8h5m-3 5h5m-4-3h5m-4-5h5m-5 6h5m12-5h5m-2 0h5m-4 6h5m12 8h5m-3-8h5m10-4h5m16 2h5m3 3h5m-3 4h5m-4-6h5m1 4h5m-5-9h5m3 6h5m1-6h5m-3 13h5m-3-10h5m-1-2h5m-3 7h5m-4 3h5m-4-3h5m-2 2h5m-4-7h5m2 3h5m-5-5h5m-2 4h5m8 1h5m-2-4h5m1-3h5m1 0h5m16 11h5m-441 10h5m3 0h5m-1-3h5m-2 3h5m-3 4h5m37 2h5m-3-6h5m-1 9h5m-4-1h5m-4 1h5m12-14h5m-5 12h5m0-3h5m-2-1h5m-4 4h5m2-12h5m2 5h5m0 9h5m-4-4h5m3-1h5m4-1h5m-1 6h5m-4-8h5m-4 9h5m7 0h5m8-9h5m1-2h5m-1-2h5m2 6h5m0 4h5m-3-4h5m-4 1h5m-3-9h5m-3 13h5m-2-10h5m2 12h5m0-6h5m-5-3h5m-4 2h5m-5-2h5m-5-6h5m5 2h5m-5 9h5m-4 0h5m1-3h5m-5-4h5m3 8h5m-3-5h5m-1 5h5m-2-11h5m-3 3h5m-4 3h5m-1 4h5m-5 2h5m0-4h5m9-2h5m3 1h5m-2 0h5m6-5h5m-4 10h5m1-6h5m-3 3h5m1-2h5m-3 4h5m-5-11h5m-1 3h5m0-1h5m-3 0h5m0 4h5m-5 8h5m-4-11h5m5-4h5m-2 14h5m7-3h5m-2 4h5m-3-4h5m2 2h5m3-9h5m-4 6h5m-3 4h5m-5-7h5m-2-3h5m-1 6h5m-4-10h5m-5 11h5m0 4h5m-3-6h5m-1 3h5m-4-12h5m-1 0h5m4 6h5m21 2h5m-435 22h5m10-14h5m3 12h5m-4-6h5m-2-5h5m-3 2h5m5-1h5m4 1h5m4 7h5m-2-2h5m-3-2h5m-1-2h5m-2 6h5m1-7h5m-4 11h5m-1-11h5m1 8h5m6-9h5m-3 4h5m-3 0h5m2-6h5m3 0h5m-2 13h5m3-9h5m6-1h5m0 3h5m-1-6h5m1 11h5m-4-6h5m-5 2h5m-3 0h5m-5 1h5m-3-1h5m-1 0h5m-1 4h5m-5-5h5m-4 8h5m-4-1h5m-3 0h5m-4-12h5m-5 13h5m-4-14h5m-4 2h5m-2 9h5m-5-6h5m-4-3h5m0 3h5m-4-4h5m1 7h5m-2 1h5m-4 4h5m5-2h5m0 1h5m-1-7h5m-1-4h5m-5 10h5m-3 3h5m-4-14h5m-5 12h5m-2-9h5m1 1h5m5 7h5m7-3h5m-5 7h5m-4-5h5m-2-2h5m-5 0h5m2-3h5m-1-2h5m7 0h5m10-3h5m-2 6h5m-1 4h5m-4-10h5m-3 0h5m-2 5h5m-5 9h5m-1-9h5m-1 6h5m0 1h5m10-10h5m-5 9h5m13 3h5m-3-12h5m0 2h5m-1 6h5m-4-4h5m6-5h5m-5 5h5m-3-6h5m-4 3h5m-4-2h5m-5 7h5m-2 7h5m12-9h5m-5 6h5m-1-11h5m1 1h5m2-2h5m-4 2h5m-4 8h5m3-3h5m-415 9h5m-3 13h5m-4-9h5m4 4h5m-4-1h5m-4 5h5m-2-10h5m-3 10h5m5 3h5m-2-7h5m-3 7h5m-1-2h5m5-4h5m-3 5h5m-4 0h5m-2-10h5m-4 1h5m-5 9h5m4-5h5m-5 5h5m-4-11h5m-3 6h5m-4 0h5m-2-4h5m-1 0h5m-1 6h5m0 2h5m3 0h5m4 0h5m-5-8h5m-3-1h5m1 7h5m0-8h5m-3 11h5m-5-12h5m-4 2h5m-2-3h5m-2 5h5m-1 9h5m-3-4h5m-5-8h5m-1 0h5m-1 4h5m2-7h5m-3 0h5m-2 5h5m-1-3h5m3-1h5m-1 10h5m-3-10h5m3 6h5m2 5h5m-2-8h5m0 9h5m-4-12h5m-4 12h5m0-12h5m7 9h5m-5-7h5m-4 12h5m-2-5h5m-3-2h5m-1-5h5m1 12h5m9-12h5m-4 4h5m2-2h5m-4 9h5m0-10h5m-3 8h5m-1-2h5m1 4h5m-4-12h5m0 12h5m2-9h5m-3 3h5m1 1h5m-4 5h5m-3-4h5m-5 0h5m-1-1h5m1-4h5m-2-5h5m-5 15h5m0-5h5m-3-2h5m-2-1h5m-4 3h5m3-1h5m-2-1h5m-3-7h5m11 1h5m-2 11h5m1-7h5m8 3h5m-3-9h5m-2 14h5m7-13h5m3 8h5m13-9h5m0 7h5m3-2h5m-417 25h5m10-10h5m-3 10h5m22-5h5m-3 0h5m-1-6h5m-2-2h5m3 3h5m-5 0h5m-2 4h5m-4-8h5m3 0h5m-4 4h5m-1 2h5m-4 4h5m-1 4h5m-1 1h5m-2-1h5m-5-10h5m-4 10h5m-1-1h5m-4-1h5m-1-10h5m2 3h5m4 7h5m5-10h5m-3-2h5m-3 0h5m-2 3h5m-2 2h5m-2 9h5m-3-8h5m-5 7h5m-5-6h5m3 2h5m-1 6h5m-2-4h5m-2-10h5m-2 1h5m-2 9h5m-2 3h5m-3-11h5m-5 4h5m-4-2h5m11 9h5m-3-5h5m1-9h5m6 0h5m-3 5h5m-4 3h5m-4 2h5m1 3h5m2-2h5m-4-2h5m-2 3h5m-5-2h5m4 3h5m-4-1h5m-4-12h5m-5 2h5m-3 2h5m-4 7h5m2-2h5m9-4h5m-4 0h5m-5-2h5m2 6h5m-1-9h5m-1 6h5m1-1h5m5 10h5m-2-8h5m-5-4h5m-3-3h5m-3 10h5m-4 2h5m0 3h5m-4-6h5m1-4h5m-5-5h5m2 12h5m14 1h5m2-5h5m6 3h5m1 1h5m19-4h5m-409 15h5m5-2h5m-5 3h5m21 6h5m-2-5h5m10-5h5m-3 7h5m-1-2h5m-1-5h5m3 9h5m-2-10h5m8-3h5m1 6h5m-3 8h5m-3-11h5m2 4h5m-5-1h5m-4 1h5m-1 4h5m1 2h5m2-2h5m-4-7h5m-4 2h5m0-5h5m-4 11h5m4 3h5m-4-15h5m-3 13h5m2-8h5m-5-5h5m-4 6h5m13 6h5m-3 0h5m-2-8h5m1 7h5m-3-5h5m-5 9h5m-5-6h5m9 5h5m-5-4h5m0 2h5m-2 1h5m3 0h5m5-2h5m-5 3h5m0-9h5m10-4h5m-1 12h5m-4 0h5m0-1h5m-2 0h5m0-11h5m-4 9h5m5-5h5m-5 3h5m-3 5h5m5-7h5m-4 6h5m-5-11h5m-4 7h5m1-5h5m1 4h5m0 8h5m3-15h5m1 15h5m4-13h5m2 4h5m5-2h5m-2 8h5m6-9h5m0 3h5m4 8h5m-3-9h5m-5 7h5m6 1h5m-2-12h5m-1 7h5m0 0h5m-1 7h5m-395 11h5m29-8h5m1-2h5m-5 7h5m-2-7h5m2 2h5m-2 0h5m3 6h5m28-8h5m3 8h5m-3-3h5m7-4h5m4 3h5m-3 11h5m22-4h5m-3-10h5m-4 1h5m10 0h5m0 5h5m-3 6h5m0-3h5m-3-4h5m5-2h5m0 7h5m-1-5h5m5 7h5m17 0h5m-5-5h5m-2 5h5m3-9h5m-5-4h5m-4 1h5m-4 10h5m-4 4h5m0-7h5m-3-5h5m-4 9h5m-1 2h5m-5-7h5m-4-4h5m0-1h5m0-2h5m-5 5h5m0-1h5m-2 0h5m-3 1h5m-5 5h5m-4 4h5m-4-13h5m-5-1h5m-2 10h5m-1-2h5m-5 3h5m-4 2h5m0-6h5m-1 2h5m-4 5h5m0-10h5m-4-4h5m-1 1h5m-4 14h5m-2 0h5m4-8h5m21-6h5m1 14h5m1-4h5m22-1h5m-380 15h5m7-9h5m2 3h5m-4 8h5m-1-11h5m0 0h5m17 14h5m-3-14h5m7 1h5m1 3h5m-3 11h5m29-9h5m12 6h5m4-6h5m-4-5h5m-3 8h5m-1-1h5m-1-5h5m-3 3h5m3 8h5m-4 0h5m3-10h5m2-2h5m2-1h5m-1 5h5m21 3h5m5-4h5m-4-2h5m-5 6h5m-5 1h5m0-2h5m0 5h5m-4-6h5m-4 5h5m-2-11h5m-3 5h5m-1 2h5m-5-6h5m-4 10h5m-5-12h5m3 6h5m-3-6h5m1 15h5m-2-1h5m-1-9h5m5 5h5m13 4h5m8-4h5m7-10h5m-4 13h5m0 0h5m-353 8h5m4-5h5m52 13h5m18-6h5m11 7h5m8-4h5m-2-7h5m-4 4h5m3-3h5m-5-1h5m1 3h5m2-2h5m23 7h5m-2-4h5m-3 3h5m2 1h5m30-6h5m-2-2h5m-3 3h5m-4 9h5m4-8h5m-3 6h5m-5-3h5m-4-10h5m-3 5h5m-5-5h5m11 7h5m-4-2h5m-1 8h5m-4-4h5m-3-6h5m2 1h5m9 5h5m-1-1h5m-2 2h5m14-4h5m-3-4h5m0 12h5m-4-1h5m40-3h5m-319 15h5m9-2h5m26-5h5m0 0h5m13-1h5m-1 9h5m-5-3h5m-4-2h5m4-5h5m-5 0h5m33 11h5m-4 4h5m4-1h5m-4 0h5m-3-13h5m-4 14h5m4-1h5m1-1h5m-4 1h5m1-2h5m-3-7h5m-5 4h5m0 0h5m0-4h5m-4 10h5m-4-14h5m-2 6h5m-5 7h5m-4-9h5m-1 0h5m-2 0h5m1 0h5m-3 6h5m5-2h5m-4-7h5m-1 11h5m-3-1h5m-2 1h5m0-5h5m1 7h5m-3-6h5m16 6h5m2 0h5m-2-1h5m-5-13h5m6 8h5m-1-9h5m1 7h5m-3 0h5m1-3h5m0 7h5m-4-10h5m0 14h5m-4-3h5m-4-5h5m0 5h5m3-4h5m-292 8h5m22 8h5m9-8h5m49 13h5m-2-6h5m-2 5h5m13 2h5m0-4h5m2-7h5m4 4h5m-4-5h5m-1 12h5m-4 0h5m-3-3h5m-2 2h5m0-10h5m0 7h5m-4 5h5m2-15h5m-4 11h5m5-11h5m2 0h5m-4 15h5m-2-1h5m-5-10h5m-3 5h5m-4-7h5m-4 10h5m-5-4h5m1 3h5m5-10h5m-4 3h5m-5 3h5m-4 4h5m-1 4h5m-4-5h5m0-7h5m-3-1h5m3 0h5m-4 5h5m0-6h5m-4 13h5m-5 1h5m1-7h5m0-3h5m-5 2h5m-3 1h5m4 2h5m2-5h5m-4-3h5m4 1h5m10 2h5m-280 24h5m82-3h5m4-1h5m8-9h5m-4 7h5m5 7h5m-3-6h5m-2-4h5m1-4h5m-1 1h5m-4 14h5m-3-11h5m0-1h5m-3-1h5m-2 12h5m-2-8h5m-5 7h5m-4-3h5m1 5h5m9-7h5m-3 6h5m0-6h5m-2 0h5m-3 4h5m2-8h5m2-1h5m3 3h5m-1 7h5m-5-13h5m-2 7h5m-1 3h5m0-10h5m-3 2h5m5 1h5m-1 7h5m1-7h5m-5 5h5m-3-3h5m-175 20h5m4-8h5m21 7h5m-2-3h5m-4 9h5m2-1h5m-1-2h5m-1-6h5m-3-3h5m-4 5h5m-3 2h5m-2 1h5m-5-3h5m-4-7h5m-3 13h5m-5-9h5m-5 1h5m4-5h5m4 13h5m0-2h5m4-2h5m2-6h5m-1 2h5m-5 8h5m-4-12h5m3 1h5m-2 3h5m-1-3h5m4 3h5m2-3h5m-4 5h5m-4-6h5m-4 5h5m-2 1h5m-4-3h5m-5 3h5m1 4h5m-4-5h5m8 0h5m-3 4h5m-147 15h5m0-1h5m-3-3h5m2 9h5m0 1h5m-4-8h5m0-5h5m-1 6h5m21 0h5m-3 5h5m-1-3h5m-2-8h5m-4 4h5m-4-3h5m-4 6h5m-3-1h5m0-2h5m-4-6h5m0 8h5m-4-5h5m-2 6h5m-4-5h5m-5-2h5m12-2h5m-3 2h5m-3-2h5m-5 8h5m0-8h5m4 15h5m-2-1h5m0-14h5m3 4h5m-149 16h5m25 2h5m1 9h5m-3-14h5m-3 11h5m-3-10h5m-5 0h5m-4 8h5m5 5h5m0-11h5m-5 2h5m-5 8h5m-4-7h5m-3-3h5m-4 0h5m-5 2h5m-5-4h5m-2 11h5m-5-2h5m-2-6h5m-1 4h5m-5 2h5m-4 1h5m-5-2h5m-3-4h5m-3-6h5m0 11h5m-5-11h5m-5 12h5m10-10h5m-3-2h5m6 6h5m-4-2h5m-2 4h5m-4-8h5m-2 0h5m4 0h5m-5 8h5m12-3h5m7 7h5m-160 5h5m22 9h5m1 0h5m0-4h5m1-4h5m6 7h5m1-1h5m-5-8h5m-3 5h5m-3-4h5m-1 3h5m0-2h5m-4 1h5m2-3h5m-3 9h5m1-3h5m-3 4h5m-4-4h5m-5 2h5m-3-4h5m-4-1h5m-4 4h5m-5-4h5m2 10h5m2-10h5m-4 3h5m-5-4h5m0 12h5m1 1h5m4 0h5m38-13h5m-179 19h5m18 4h5m-4-3h5m0 3h5m3-1h5m-4-6h5m3 6h5m2-3h5m-4 8h5m-5-8h5m-1 0h5m-4-3h5m-4 10h5m-2 0h5m-3-12h5m-4 8h5m-3 7h5m0-9h5m-5 8h5m3-3h5m0 4h5m3-11h5m-4 11h5m-4-7h5m-4 7h5m-5-12h5m0 1h5m6 5h5m-2 1h5m-4-2h5m0 0h5m-4-7h5m5 7h5m-3 4h5m8-4h5m0 4h5m-131 14h5m1-7h5m3-2h5m-1 14h5m-4-11h5m-3 10h5m3-12h5m-3 7h5m-3-6h5m0 12h5m-4-4h5m2 0h5m-4-11h5m-4 9h5m0 1h5m-4 0h5m-2-1h5m-1-4h5m0 9h5m-3-2h5m-3-11h5m6 11h5m6-5h5m-2 1h5m3 4h5m-4 3h5m1-14h5m-128 17h5m16 0h5m21 9h5m21-11h5m2 11h5m-4-3h5m6-5h5m-4 0h5m-3-1h5m-4 5h5m-4-2h5m12 1h5m-4 8h5m-79 5h5m-3 12h5m-2-4h5m-4-11h5m-4 11h5m4-10h5m10 2h5m-4 2h5m3-4h5m-2 6h5m7-6h5"/><path stroke="#2080c8" d="M608 661h5m-37 26h5m-1-14h5m13 8h5m21 5h5m-4-7h5m-105 17h5m7 0h5m-3 0h5m-4 7h5m4-3h5m7-11h5m7 12h5m8-11h5m11 6h5m5-6h5m1 8h5m-1-9h5m-165 20h5m52 3h5m24 2h5m3-7h5m7 7h5m-1 1h5m24-9h5m-3-1h5m1 1h5m0 9h5m-4-8h5m6 5h5m-242 21h5m8-7h5m4 8h5m35-12h5m29 2h5m0 4h5m17-5h5m17 1h5m-1 10h5m-1-13h5m-4 6h5m-4 7h5m-1-3h5m7-5h5m0 1h5m7 4h5m13-10h5m6 13h5m-1-5h5m17-5h5m-304 12h5m22 12h5m2 0h5m47-5h5m17-4h5m24 7h5m10-6h5m3 10h5m4-8h5m-3-4h5m-3 7h5m-3 6h5m-4-11h5m-5 10h5m0-2h5m12-8h5m5 9h5m-4-1h5m0-6h5m-5 0h5m-2 4h5m11 3h5m-3-2h5m-1-11h5m-1 2h5m-3 4h5m11 0h5m-2 8h5m16-11h5m-2 2h5m-5 8h5m-2-10h5m-4 6h5m-4 5h5m-4-9h5m-287 19h5m9-3h5m21 6h5m4-4h5m34 6h5m15-2h5m23 2h5m-2-8h5m2-1h5m7 9h5m-1-2h5m2-5h5m-2 1h5m-5 1h5m-3-8h5m-3 8h5m-1 4h5m-5-8h5m-3 8h5m12-7h5m-4 0h5m-2 6h5m-4 2h5m2 1h5m5-12h5m-1 2h5m-2 10h5m4-14h5m-4 4h5m-2 3h5m-2-3h5m0 5h5m5-1h5m-3 5h5m-1-4h5m-1 5h5m-2-2h5m2 1h5m-4-10h5m3 7h5m-243 8h5m13 6h5m14-6h5m6 2h5m-5 11h5m-2-4h5m-2 3h5m-1-6h5m-1-3h5m1 2h5m-1-1h5m15 6h5m-4-8h5m-4 0h5m-3 5h5m1 1h5m1-4h5m10 6h5m1-12h5m9 9h5m-5-5h5m-2 11h5m7-9h5m-1 2h5m-3 5h5m-4-4h5m8-8h5m-3 13h5m-1-11h5m-2-2h5m-3 11h5m-5-11h5m-4 2h5m-1 8h5m1 1h5m4 3h5m-5-10h5m-2-1h5m-2-3h5m3 12h5m-4-7h5m3-3h5m-3 12h5m4-12h5m6 12h5m20-2h5m-1 1h5m-386 8h5m26-3h5m6-3h5m33 11h5m-4-8h5m7 10h5m-3-13h5m-4 1h5m15 12h5m-3-13h5m13 9h5m3 0h5m3 4h5m0 1h5m1 1h5m1-4h5m-1-6h5m-1 0h5m-4 10h5m1-1h5m2-10h5m1 1h5m-4-1h5m-5 9h5m9-8h5m0 6h5m-3-6h5m1 2h5m0-5h5m-4 5h5m-1 7h5m-1-3h5m-4 4h5m7-13h5m-4 4h5m4 0h5m-4 8h5m-1 0h5m-1-3h5m15-2h5m1-3h5m5 1h5m0 3h5m-3 4h5m-4 1h5m1-13h5m-5 0h5m2 4h5m12 1h5m-373 21h5m2 0h5m24-10h5m6 10h5m-3 0h5m24-6h5m-2-3h5m6 8h5m0 4h5m4 0h5m23-1h5m-4-13h5m9 5h5m3 7h5m-2-5h5m29 3h5m-3-6h5m3 8h5m14-10h5m5 5h5m-4 7h5m-4-5h5m7-4h5m-5 7h5m4-13h5m0 0h5m-4 6h5m5-6h5m10 6h5m0-6h5m1 11h5m2 2h5m-3-11h5m24 7h5m-4-8h5m-5 13h5m2-13h5m1 11h5m-342 14h5m-2 5h5m-3 0h5m5-14h5m1 14h5m-2-1h5m33-3h5m-2-2h5m9-1h5m10 5h5m8-11h5m-3-1h5m2 14h5m12-10h5m-2-4h5m32 7h5m0-2h5m-1 2h5m-3 5h5m-2-10h5m-2 12h5m-5-10h5m-5 7h5m-3-6h5m-3 8h5m5-1h5m1-3h5m10-9h5m-4 9h5m5 0h5m-3 5h5m13-6h5m6-1h5m0 1h5m-4-8h5m-4 7h5m-3 3h5m7-9h5m21 11h5m23-9h5m-339 13h5m0 14h5m41-15h5m9 3h5m0 11h5m0-11h5m-4-1h5m47-2h5m-2 1h5m-1 12h5m1-11h5m-2 6h5m17-6h5m1 7h5m-3-3h5m17-6h5m2 2h5m11-1h5m0 9h5m11-4h5m-4 3h5m-5 4h5m-4 0h5m-4-8h5m-4 3h5m-1 1h5m8 6h5m2-5h5m-4 2h5m-4-10h5m10 4h5m-1 0h5m-1-3h5m7 0h5m-286 13h5m2 1h5m18 2h5m30 12h5m1-12h5m68 7h5m-2-5h5m17-1h5m-4 1h5m28 4h5m13 5h5m0 1h5m0-3h5m0-12h5m-4 2h5m5 2h5m2-4h5m3 3h5m3-1h5m22 2h5m-342 18h5m30-1h5m81 9h5m7-1h5m-5-13h5m56 1h5m54 5h5m-4 0h5m1 7h5m-4 1h5m-116 5h5m35 11h5m22-14h5m1 14h5m16-9h5m-3 9h5m-152 10h5m6 1h5m-4 0h5m11-9h5m29 11h5m38 0h5m0 2h5m16 2h5m0-12h5m1 9h5m18-6h5m42-6h5m-229 21h5m91 10h5m13-9h5m-5 8h5m18 1h5m0-2h5m32-7h5m13-3h5m-4 7h5m-131 10h5m39 8h5m1 2h5m-3-7h5m-2 4h5m-1-10h5m-2 9h5m-4 4h5m5-11h5m5 10h5m9-4h5m-5-9h5m1 3h5m-4 9h5m-3-7h5m-5 5h5m12-3h5m9-5h5m-143 19h5m6-4h5m29 6h5m-3-4h5m0 0h5m15-3h5m-1 5h5m-4 2h5m26-7h5m2 0h5m12 13h5m1 2h5m-1-15h5m-4 13h5m-104 15h5m37-10h5m9 6h5m-3 0h5m0 2h5m-2 3h5m-73 9h5m-2-6h5m-4 13h5m-1-4h5m9 3h5m-3-3h5m5-5h5m23 6h5m3 0h5m0-9h5m-97 15h5m10 13h5m4-9h5m-4 7h5m7 4h5m-3-3h5m16 1h5m-3-5h5m-4 4h5m0-1h5m-2 1h5m-4-11h5m7 10h5m0-8h5m4 5h5m5-5h5m-4-2h5m11 0h5m-118 27h5m6-8h5m5 3h5m-2-1h5m3 0h5m-2-2h5m7 3h5m6 4h5m-81 5h5m18 2h5m12 12h5m1-10h5m12-1h5m6 11h5m-4-13h5m-4 9h5m3-1h5m3-9h5m-94 23h5m21-3h5m-23 14h5m47 15h5"/><path stroke="#20b8b0" d="M505 703h5m24 0h5m-4-14h5m-3 5h5m4-6h5m3 2h5m2 12h5m-3 1h5m37-13h5m-2 13h5m-88 11h5m16-3h5m0 4h5m14 0h5m4 1h5m25-1h5m-119 13h5m25 1h5m5-7h5m1 12h5m-2 1h5m0-8h5m-2-6h5m21 3h5m-3 3h5m0 6h5m-2-11h5m-200 24h5m31 2h5m1 2h5m17-6h5m2-3h5m12 3h5m10 3h5m-3-1h5m-3 3h5m-4-9h5m-1 8h5m0 3h5m10-8h5m-1 7h5m-5-6h5m0 2h5m2-6h5m-1-1h5m3-1h5m2 8h5m1-5h5m-5 1h5m6 7h5m-5-10h5m-1 1h5m11-4h5m-1 15h5m1-1h5m13-3h5m5-1h5m0 4h5m-222 9h5m3 4h5m12-6h5m25 6h5m11-8h5m4-1h5m5 1h5m-1 1h5m-2 8h5m-5-11h5m-5 10h5m-3 2h5m-5 0h5m0-10h5m5-1h5m0 4h5m-5 7h5m-3-8h5m-4 3h5m-1 5h5m2-6h5m1 7h5m2-13h5m5 13h5m-5-7h5m26-7h5m2 10h5m24-10h5m-350 28h5m110-1h5m11-2h5m16-5h5m4 6h5m-1-1h5m0 5h5m-4-1h5m-4-7h5m-4-2h5m-1-2h5m2 11h5m8 2h5m1-10h5m-2 4h5m-3-8h5m5 6h5m-4 0h5m4 6h5m-4-10h5m-2 4h5m8 2h5m-5 2h5m-5 2h5m0-12h5m3 14h5m6-7h5m-1-3h5m-3-2h5m-1 12h5m-2-5h5m-3-10h5m-2 14h5m-4-9h5m11-5h5m-3 0h5m-3 5h5m19 0h5m-323 25h5m30-3h5m-5-7h5m12 2h5m60 0h5m6 1h5m-3 2h5m26-7h5m-3 10h5m-3 1h5m-4-1h5m-3-7h5m0 10h5m3-9h5m-5 6h5m-3-9h5m1 5h5m0-7h5m0 0h5m1 13h5m0-4h5m-4-8h5m-3 12h5m0-11h5m-5 5h5m-3 4h5m-4-1h5m10 0h5m-2-2h5m-4-1h5m1-6h5m2-2h5m11 2h5m-1 1h5m8 0h5m-1 4h5m4 4h5m-2-2h5m-3-7h5m-2 6h5m-330 21h5m8 0h5m77-8h5m36 4h5m33-9h5m5 12h5m25-12h5m9 8h5m-3 0h5m7-4h5m-2 1h5m15 7h5m-3-3h5m0 3h5m0-8h5m-5-3h5m-5 13h5m-1-5h5m3-7h5m-5 13h5m-3-3h5m0-2h5m0-3h5m-3-5h5m1 8h5m-5 1h5m13-5h5m-272 16h5m36-3h5m21 12h5m35-1h5m10-2h5m0-2h5m1-3h5m6 1h5m-2-6h5m-3 3h5m-2-2h5m10 1h5m19-4h5m1 11h5m-4-5h5m0 4h5m-4-4h5m11 9h5m-2-14h5m14 14h5m10-14h5m-2 0h5m-320 27h5m5-8h5m-1 9h5m20-2h5m29-2h5m6 5h5m26-2h5m39-11h5m3 0h5m17 4h5m-2 1h5m2 5h5m13-11h5m-3 0h5m5 7h5m2 1h5m-5-6h5m-5 13h5m22-8h5m3-1h5m7-6h5m-2 2h5m-228 28h5m24-14h5m16 1h5m146 14h5m30-12h5m-166 17h5m8 6h5m-2 3h5m11-10h5m41 9h5m-4-3h5m4-6h5m48-2h5m-191 20h5m12 2h5m55-2h5m1 8h5m1-13h5m-3 10h5m78 1h5m-120 9h5m-3 6h5m3-9h5m38 12h5m1-12h5m-1 11h5m40 2h5m-1-13h5m-98 21h5m18 9h5m47-7h5m7 3h5m-68 13h5m0 2h5m-2 0h5m-3-5h5m2 9h5m-3-3h5m48-11h5m-91 27h5m3-3h5m7 2h5m-2-2h5m-3 7h5m-2 0h5m2-12h5m8-3h5m-77 28h5m27-8h5m11 4h5m3-3h5m4 7h5m17-7h5m1-1h5m15 9h5m-107 17h5m11-14h5m27 3h5m27 8h5m-3-9h5m-1 9h5m3-9h5m-71 27h5m5 1h5m31-6h5m3-2h5m8-5h5m7 6h5m-101 17h5m-3 0h5m-3 1h5m2-1h5m3-8h5m2 2h5m-2 3h5m34 0h5m3 9h5m-90 12h5m0 3h5m7-9h5m-1 7h5m31-10h5m-49 22h5m25-6h5m-4 7h5m-31 17h5m-4 12h5"/><path stroke="#38d898" d="M603 684h5m9-1h5m-59 8h5m36 10h5m-64 9h5m-3-2h5m1 6h5m14 3h5m-3-2h5m5-4h5m17-5h5m-201 24h5m84 5h5m11-8h5m5 8h5m2-10h5m8 10h5m-4-3h5m-1-1h5m17-11h5m8 13h5m-4-11h5m-129 25h5m19 3h5m-2 0h5m-3 0h5m-4-1h5m36-5h5m2-5h5m-2 6h5m-1-3h5m-1-2h5m-1 9h5m-4-7h5m-1 2h5m-4 5h5m-3-2h5m2 3h5m-1-2h5m0-6h5m8 1h5m13 7h5m4 1h5m7-10h5m-163 11h5m2 0h5m-3 12h5m1-12h5m4 14h5m3-11h5m2-1h5m-4 5h5m3-7h5m2 9h5m6-7h5m1 5h5m4-1h5m10-1h5m-4 5h5m0 3h5m6-3h5m0-6h5m-3 2h5m-5 5h5m-4-6h5m-3 5h5m-4 4h5m7-12h5m-3 0h5m-5 10h5m-3-2h5m42 0h5m-333 20h5m111-13h5m8 3h5m20-2h5m19 3h5m-1 0h5m-1 2h5m8 0h5m-2 4h5m-1-10h5m-3 6h5m0 4h5m-5-1h5m-4 2h5m1 0h5m-1 0h5m-4-9h5m-1 6h5m-1-4h5m10-5h5m-4 10h5m-3-5h5m-4 6h5m-4-10h5m-262 20h5m95-4h5m18 7h5m24 6h5m2-13h5m-2 1h5m5 8h5m-2 0h5m1 2h5m3-7h5m-1 10h5m1-10h5m4 0h5m-3 1h5m1-1h5m12 0h5m-2-4h5m-1 10h5m-3-3h5m-3 5h5m9-4h5m4 3h5m-1-3h5m8-5h5m13 4h5m-249 21h5m39-5h5m2 5h5m13 0h5m-1-1h5m1-1h5m3 2h5m2-9h5m2 0h5m6 3h5m6 8h5m6 0h5m-2-14h5m-3 13h5m10-13h5m1 3h5m2 2h5m2 2h5m-2-7h5m3 14h5m14-7h5m4-3h5m4-5h5m6 0h5m-272 18h5m31 1h5m50 1h5m20 10h5m-1-4h5m8 1h5m-2-4h5m-1 0h5m8-5h5m7 2h5m-3 10h5m-2-1h5m-4 0h5m-2-3h5m17-2h5m10 5h5m0-3h5m5 3h5m-179 10h5m54 2h5m25 4h5m-3-8h5m2 3h5m5 2h5m-3-7h5m-5 1h5m37 11h5m-185 11h5m66 1h5m77-7h5m-19 16h5m-16 16h5m-57 15h5m16 2h5m14-5h5m-1 4h5m14 11h5m-61 26h5m1 6h5m15-1h5m3-2h5m-13 5h5m-17 17h5m4-2h5m8 18h5m-4 9h5m39 4h5m-5-12h5m1 8h5m-63 16h5m16-8h5m16 4h5m1 6h5m-31 14h5m37-2h5m-47 7h5m10 31h5"/><path stroke="#40e840" d="M565 710h5m34-6h5m-79 27h5m12-9h5m1-2h5m16 14h5m5 0h5m-100 13h5m10 1h5m0-7h5m1 3h5m-2-8h5m-3 9h5m2 3h5m0-10h5m10-2h5m-5 11h5m5 0h5m6-8h5m-3 12h5m3-3h5m-2-9h5m4 9h5m7-9h5m-3 2h5m-188 18h5m59 0h5m29-4h5m10 7h5m0-4h5m-3 8h5m-5-8h5m-4 9h5m-4-8h5m0-6h5m-2 8h5m12-1h5m7 2h5m-3-3h5m0-3h5m10-1h5m-1 7h5m52 2h5m-186 12h5m6 7h5m4-10h5m0 3h5m-1 3h5m11-3h5m-4-1h5m-5 7h5m-3-3h5m-1 3h5m18-14h5m-4 14h5m-3-10h5m6-4h5m-1 0h5m-1 8h5m-2 0h5m-4 5h5m-2-8h5m-5 5h5m-3-10h5m9 7h5m-180 20h5m18-2h5m8-7h5m11 8h5m16-5h5m0 6h5m10-10h5m3 2h5m14 3h5m-4 2h5m11-1h5m-4 1h5m0-4h5m-5 8h5m-3-5h5m1 5h5m-3-2h5m-2-9h5m3 5h5m-1-5h5m-2 14h5m18-3h5m14-10h5m-4 0h5m-172 23h5m-2-2h5m10-4h5m9 1h5m-3-2h5m2 7h5m6 1h5m13 5h5m1-6h5m12-8h5m25 10h5m37 2h5m-127 13h5m-60 17h5m35-9h5m0 0h5m-1-2h5m50 3h5m0 8h5m34-11h5m-122 70h5m-5-3h5m-2-3h5m7 9h5m-22 16h5m-33 16h5m26-2h5m10 7h5m-3-10h5m32 0h5m-64 22h5m22-9h5m-34 16h5m64 8h5m-24 51h5m-30 9h5m-1 7h5"/><path stroke="#a0f038" d="M568 713h5m-50 17h5m8 1h5m2-9h5m12 8h5m-4-6h5m-68 21h5m10-6h5m15 2h5m-1 5h5m12-5h5m1 6h5m-2-11h5m1 11h5m-4 3h5m1-1h5m24-3h5m-113 18h5m1-11h5m3 12h5m7-1h5m-4-1h5m-3 3h5m-5-2h5m-1-3h5m1-9h5m6 9h5m-3 4h5m-5-5h5m-2-1h5m-5 8h5m2-2h5m0-3h5m-4 5h5m-3-7h5m-4-2h5m4 1h5m-1 7h5m-90 8h5m11 8h5m1-10h5m6-1h5m1 4h5m-5-3h5m-3 3h5m-3 6h5m4 1h5m4-1h5m5-9h5m-4 9h5m0-1h5m-2-10h5m-1 10h5m7 1h5m-5-2h5m18-3h5m-164 18h5m5-9h5m5 12h5m7 0h5m14-13h5m1 0h5m-3 13h5m14-11h5m1 1h5m11-2h5m15 9h5m-1 3h5m-3-7h5m-2 1h5m2 4h5m-4-9h5m4-1h5m5-1h5m-138 17h5m74 5h5m-1 1h5m-55 23h5m-29 72h5m9 41h5m17 3h5"/></g><g transform="scale(0.25)" stroke-width="5.2" fill="none"><path stroke="#2828c8" d="M2264 173h5m-107 13h5m19-3h5m203-3h5m-413 20h5m160 1h5m0-4h5m15 7h5m-5-7h5m15 4h5m-5 5h5m20-12h5m267 13h5m94 0h5m-817 16h5m314-7h5m17-7h5m8 9h5m4-2h5m-2-3h5m4 3h5m-3-1h5m-3 6h5m-3-12h5m-5 7h5m3-5h5m-3 12h5m28-12h5m-2 0h5m-4 7h5m-3 2h5m1-4h5m4 2h5m7 4h5m8-10h5m29 10h5m-230 8h5m51 3h5m21 1h5m8-4h5m-2-5h5m-2 6h5m-1 7h5m-5-13h5m-2 6h5m3 4h5m2-9h5m-1 8h5m12-2h5m-2-4h5m-5 0h5m2 7h5m0-9h5m-1 5h5m10 2h5m-5 1h5m307 2h5m5 2h5m-447 6h5m5 5h5m5-8h5m-4 11h5m-3-10h5m17-2h5m-2 6h5m4 7h5m6-2h5m0-1h5m1-5h5m-1 9h5m-3-7h5m-2 1h5m-5-2h5m0 0h5m-1 2h5m327 6h5m3-3h5m21 4h5m4-10h5m-606 16h5m198-2h5m4 4h5m4 7h5m214-8h5m108-3h5m43 6h5m-646 22h5m230-15h5m17 2h5m331 13h5m3-13h5m13-2h5m4 8h5m-4 1h5m-112 10h5m7 3h5m5 0h5m7-6h5m6 4h5m6 6h5m-4-5h5m4 0h5m-4-4h5m-4 9h5m-1 4h5m41-6h5m-4-2h5m-504 19h5m333 6h5m28-1h5m0-12h5m22 4h5m0 9h5m-5-5h5m-4 4h5m9-2h5m-3-8h5m-4 6h5m-4 0h5m0 5h5m-5-6h5m0-3h5m-3-3h5m0 11h5m-3-3h5m-2 4h5m22-3h5m-756 19h5m627-6h5m-2 4h5m5-4h5m22-2h5m2-1h5m-2 8h5m6-14h5m-3 6h5m-2-5h5m-5 11h5m-1 3h5m-1-4h5m-3-1h5m-4 1h5m-5 0h5m-1-11h5m0 10h5m1 4h5m1-12h5m9 3h5m-862 19h5m284-2h5m418 1h5m15 5h5m-4-6h5m0 9h5m9-4h5m3-11h5m5 15h5m3-9h5m-4-5h5m-4 1h5m-4 1h5m-1 9h5m-2 2h5m0-12h5m-5 6h5m-4-6h5m2 12h5m12 0h5m-3-11h5m-3 2h5m1 2h5m-160 20h5m-3-4h5m13-2h5m43 3h5m-4 1h5m-4-2h5m0 6h5m-4-5h5m3 3h5m1 4h5m9-1h5m0-8h5m-4-3h5m-2 12h5m-3-9h5m-3-6h5m-2 1h5m-3 10h5m-4-7h5m-5 11h5m-4-8h5m2 2h5m2 1h5m6 1h5m-4-2h5m11 5h5m-189 7h5m29-4h5m-2 14h5m-4-4h5m0 2h5m6-12h5m-5 0h5m-4 14h5m-5-4h5m-3 4h5m4-12h5m1 12h5m2-1h5m-4-11h5m-3-1h5m1-2h5m-3 13h5m-4-12h5m-5 12h5m3-3h5m-5-1h5m4 5h5m-5-5h5m-4-6h5m-5-3h5m-1 4h5m-3-1h5m-3 0h5m0 2h5m1-5h5m-4 12h5m-4-3h5m-4-1h5m-2-5h5m-5 4h5m2-7h5m10 14h5m-5-1h5m1 2h5m-5-3h5m2-11h5m-178 16h5m25 11h5m3 3h5m-2-5h5m21-3h5m-4 7h5m-3-7h5m-3 5h5m4 2h5m3-3h5m-2-2h5m0-8h5m-3 2h5m-3-3h5m-4 3h5m-5 10h5m-1-7h5m-1-4h5m-1-1h5m-4 4h5m-3-2h5m0-1h5m2 12h5m3-4h5m-5-8h5m4 8h5m0-3h5m-1 2h5m17-2h5m0-6h5m-156 30h5m6-9h5m-3-5h5m5 2h5m1 5h5m-4 4h5m-3 2h5m-4-4h5m-2-4h5m-2 1h5m-3-4h5m-3 2h5m-4-1h5m-3 5h5m-2-6h5m-3 1h5m-3 11h5m-2-4h5m-2-6h5m-1-2h5m-4 10h5m-2 1h5m-3-6h5m-5 6h5m2-2h5m0 0h5m1 3h5m0-5h5m2-3h5m0-4h5m2 8h5m17-3h5m-191 14h5m20 4h5m-1 3h5m0-7h5m7 1h5m0 7h5m2-5h5m-1-6h5m-4 3h5m1 8h5m2-8h5m-2 5h5m-2-3h5m-2-6h5m-5 11h5m-4-10h5m-5 10h5m-4-7h5m-5 9h5m-4-7h5m-2 7h5m1-7h5m-5-1h5m-2-5h5m-4 5h5m-5 5h5m-3-4h5m3-3h5m6 0h5m-3 3h5m1-6h5m35 13h5m-180 15h5m1-9h5m25 1h5m-1 3h5m-1-4h5m-4 4h5m-3-3h5m-4 7h5m-4-10h5m-3 5h5m-4 0h5m-2-2h5m2 9h5m-4-12h5m-2 5h5m5 5h5m-3-1h5m-2-4h5m-4-2h5m2 7h5m-5-10h5m-1 11h5m-2-6h5m-4 5h5m-1-3h5m-4-3h5m-1-4h5m-5 3h5m-1 7h5m-2-7h5m-4-3h5m-4 9h5m-3-10h5m-1 2h5m-2 9h5m2-7h5m9-2h5m1 11h5m19-11h5m-200 22h5m2-7h5m-5 10h5m8-1h5m3-3h5m-2 0h5m-5-7h5m2 12h5m-4 1h5m2-3h5m-5 1h5m-3-9h5m-3-2h5m-4 8h5m3-6h5m-3 4h5m4 1h5m-3-5h5m-4-4h5m-4 8h5m-5 3h5m0-2h5m-1-6h5m-4 8h5m-4-9h5m-3-2h5m-2 1h5m-3 14h5m-5-8h5m-2-4h5m-3 0h5m7 8h5m-3-10h5m-3 10h5m-1-9h5m-2-2h5m-2 2h5m-4 13h5m-5-14h5m-1 12h5m14-5h5m8-7h5m-171 18h5m-2 4h5m2 6h5m1 1h5m1-7h5m0 5h5m-2-11h5m-4 7h5m4-6h5m-2 12h5m-5-7h5m-4-7h5m3 11h5m0-2h5m-4 0h5m-1-3h5m-5-2h5m-3 5h5m-4-6h5m-5 3h5m0 4h5m-4-6h5m-4-1h5m-2 9h5m-3-12h5m-3 12h5m-4-11h5m-5 2h5m-1 12h5m-5-13h5m-2-1h5m-5 7h5m-1-2h5m-5-1h5m-2 9h5m-5 1h5m-3-5h5m-2-9h5m-1 0h5m-5 3h5m-3 5h5m-5-9h5m-3 12h5m-4-4h5m-5-1h5m-3 4h5m-5-11h5m-3 0h5m-1 11h5m-3 2h5m-3 0h5m0-1h5m-3 2h5m-3-12h5m3-2h5m-3 0h5m0 11h5m3-3h5m5-5h5m-560 25h5m351-5h5m37-2h5m-2 6h5m-1-2h5m-4-1h5m-4 2h5m-4-2h5m-4-5h5m-3 9h5m-5 2h5m-3 0h5m3-7h5m-3 4h5m-4-5h5m-5 6h5m-3-2h5m8-10h5m-3 8h5m-1 7h5m-4 0h5m-2-15h5m1 4h5m-4 3h5m-2-7h5m-4 15h5m-4-8h5m-2 1h5m-5 0h5m-1 4h5m-2-5h5m-4-5h5m-2 12h5m0-6h5m-4-8h5m-2 11h5m-4-4h5m-4 7h5m1-13h5m-4 2h5m-4-1h5m-2 0h5m-4 5h5m-4-3h5m-4 4h5m-2 0h5m-4-4h5m0 11h5m-4-5h5m-4-2h5m-4 6h5m-5-6h5m2-2h5m-157 23h5m3-3h5m11 3h5m-4-5h5m-4 0h5m-1 2h5m-3-5h5m-4 2h5m-3-5h5m-4 9h5m-5-5h5m-2 8h5m-5-14h5m8 7h5m-1 2h5m-4-6h5m-5 8h5m-2 3h5m0-4h5m-3 5h5m-4-5h5m-1 5h5m-1-9h5m-1 1h5m-1 0h5m-3-2h5m-5-4h5m-2 3h5m-5 2h5m-3-5h5m-5 2h5m-3 1h5m-5-1h5m0 0h5m-4-1h5m-4 2h5m-4 10h5m-2-8h5m-4 2h5m-5 6h5m-2-8h5m22 8h5m-1-4h5m-3-7h5m10 10h5m-4-13h5m-680 28h5m468-7h5m11 1h5m15 7h5m-3-4h5m-4-3h5m-5-5h5m2 9h5m3 0h5m-4-8h5m8 11h5m-4-9h5m-2 10h5m-4 1h5m-4-8h5m0-4h5m-2 3h5m0 8h5m1-5h5m-5-2h5m0 3h5m-5-9h5m-5 8h5m1-1h5m1 0h5m-1-5h5m-3 11h5m-3-8h5m0 6h5m-5-3h5m-2-1h5m-2-7h5m-3 10h5m-2-10h5m-5 1h5m2 3h5m-4 3h5m-4 4h5m-4 1h5m-5-6h5m-5-1h5m2-5h5m3 9h5m-5 4h5m-5-13h5m-4 4h5m-4-3h5m-1-2h5m-2 0h5m-508 27h5m69-11h5m264 2h5m-2 6h5m6 7h5m-3-5h5m-1 4h5m-2-4h5m-2 2h5m3-10h5m6 8h5m-1-4h5m-5-1h5m-4-2h5m-3 0h5m0 11h5m0-12h5m0-2h5m-3 3h5m-3 7h5m-3-6h5m-4 8h5m-3-6h5m-2 3h5m-2-3h5m-4-1h5m3 3h5m-4 1h5m-4 1h5m0 1h5m-1-7h5m-4 11h5m-4-4h5m-4-11h5m-4 10h5m0 2h5m-3-6h5m-4 0h5m-2 1h5m1-4h5m0 12h5m2-12h5m-4 12h5m25-3h5m3-9h5m8-3h5m-387 18h5m191 6h5m-5-4h5m-3 11h5m7-4h5m2 4h5m-5-3h5m-1 0h5m-4-3h5m1-5h5m0 3h5m-3 8h5m-5-3h5m-2-11h5m-5 3h5m-5-4h5m-5 0h5m-2 7h5m-3-1h5m-4-3h5m-4 5h5m-3-1h5m-4-4h5m-4 5h5m1 1h5m-4-1h5m-3-7h5m-3 12h5m-5 2h5m-4 0h5m-1-10h5m0 4h5m-5 6h5m-5-2h5m0-10h5m-5 5h5m-2 0h5m-4-7h5m-2 7h5m1 3h5m-2-10h5m-4 11h5m-4-11h5m-4 0h5m-5 11h5m6-7h5m-3 7h5m-5-3h5m5 4h5m2-8h5m-2 9h5m-2-9h5m-3 4h5m5 2h5m1-8h5m-366 26h5m111-3h5m21 0h5m0 0h5m33-8h5m9 3h5m-5 5h5m-4 2h5m-4-6h5m1 0h5m4-3h5m-4 1h5m-4 11h5m6-9h5m1-5h5m-5 11h5m3-8h5m-4 10h5m-2-12h5m4 8h5m-4-1h5m-4-2h5m-4-3h5m-1 2h5m-5 4h5m-5-7h5m-4-2h5m-5 3h5m-4 8h5m-4-9h5m-4 1h5m1-2h5m-4 9h5m2-6h5m-4 6h5m-2-3h5m-5-2h5m-2 8h5m-4-7h5m-2-4h5m0 4h5m-5-6h5m0 11h5m-5-1h5m0 2h5m-4 1h5m4-2h5m14-6h5m-2 1h5m-5-2h5m19-2h5m110 12h5m-539 16h5m130-2h5m70-1h5m7 3h5m4-14h5m-1 13h5m2 1h5m1-5h5m-5-6h5m-4-4h5m0 10h5m-1 3h5m2 2h5m8-9h5m-5 4h5m-4-4h5m-4-2h5m-2-4h5m-2 10h5m-1 0h5m0-8h5m1 2h5m-5 10h5m-4-6h5m-5 4h5m-4 1h5m-4-6h5m-4 8h5m-1-4h5m-2 3h5m-3-2h5m-2-9h5m-3 3h5m-3 8h5m3-1h5m0-2h5m-4-6h5m-2 9h5m-3-7h5m6 1h5m-5-6h5m-4 3h5m-4 10h5m-1-4h5m-5-10h5m-5 3h5m-3 5h5m-4-6h5m-5 3h5m-3 8h5m-3-5h5m-4-3h5m-3 5h5m0-2h5m-4-9h5m-1 2h5m-3 10h5m-4-2h5m-3 4h5m-4-5h5m7 5h5m-288 6h5m27 3h5m65 8h5m3-2h5m-3-6h5m-3 1h5m11-5h5m8 0h5m-4 11h5m-4-3h5m2-2h5m-2 1h5m-5 2h5m-3-10h5m-3 13h5m-5-4h5m-1-9h5m-5 10h5m-5-11h5m-4 4h5m-5-4h5m-5 2h5m-4 4h5m-5-7h5m-3 2h5m-4 12h5m-1-10h5m-4 4h5m-3-2h5m-3-4h5m-3 6h5m-4 3h5m-5 0h5m2-2h5m1-3h5m3 9h5m-4-6h5m-2-8h5m-2 2h5m-3 4h5m0-6h5m-4 14h5m2-12h5m-4 8h5m0-6h5m-4 2h5m-4 1h5m-2 7h5m-4-6h5m-1-8h5m-3 1h5m5-2h5m6 0h5m8 11h5m-384 13h5m-4 7h5m81-5h5m10 1h5m34 0h5m-3-1h5m3-4h5m-2 6h5m38 1h5m-2-8h5m1 0h5m-2 1h5m-3 8h5m0 0h5m7-1h5m-4 1h5m-4-11h5m-4 5h5m0 6h5m-1-3h5m-2-11h5m-4 12h5m-4 0h5m1 1h5m-4-1h5m-3 3h5m-3-5h5m-5-2h5m-5 3h5m-3 2h5m-4-5h5m-1-5h5m-5 6h5m-4 0h5m-4-6h5m7 10h5m-5-10h5m-1-3h5m3 3h5m2 10h5m-5 1h5m-2-8h5m-4-5h5m-5 10h5m0-9h5m-4 8h5m-2 1h5m-2 4h5m-3-4h5m-5-5h5m-1 8h5m9-11h5m-2-2h5m12-1h5m12 8h5m-3 4h5m6 0h5m-479 13h5m165 2h5m-3 1h5m72-5h5m24 8h5m-4-1h5m1 0h5m3-5h5m-5 3h5m-4-6h5m-1 9h5m-5-1h5m-2 0h5m-1-3h5m-5 0h5m-3-9h5m1 8h5m-4-10h5m-5 13h5m-3 0h5m-3-13h5m-1 8h5m-3-2h5m-4 0h5m1 9h5m-3-13h5m-4 4h5m-5 6h5m-3 0h5m-3 1h5m8-2h5m-3-2h5m-4 5h5m-1-6h5m-5-5h5m1-2h5m-3 4h5m8 2h5m-3 0h5m-3-6h5m-4 1h5m-2 6h5m0-8h5m1 14h5m0 1h5m-3-2h5m4 2h5m-3-15h5m11 2h5m3-2h5m1 0h5m-485 26h5m8 1h5m85 3h5m25-9h5m-3 3h5m-3 2h5m35 2h5m18-10h5m28 0h5m21 5h5m6 4h5m3-2h5m11 2h5m-1-6h5m-4-3h5m-1 7h5m-4 6h5m4-3h5m-4-3h5m-2-3h5m4-5h5m-3 11h5m5-1h5m-5-9h5m-5 7h5m-1-2h5m-5 3h5m-3-9h5m0 1h5m-2-1h5m0 7h5m3-5h5m-4 12h5m-3-3h5m-4-8h5m-2-1h5m2 0h5m1 7h5m-2 2h5m-2-11h5m-3 4h5m-3 7h5m-3-3h5m-2 1h5m2 5h5m0 0h5m-3-12h5m-3 9h5m1-8h5m0-4h5m-4 5h5m-4 1h5m-5 3h5m-4-2h5m-4 7h5m-2-7h5m-5 6h5m-3-3h5m-4-3h5m-4 0h5m-5 3h5m6 4h5m-5-14h5m-4 6h5m6 6h5m-2 1h5m26-4h5m-3 2h5m-2-1h5m-585 7h5m51 10h5m143 4h5m0-6h5m1-9h5m6 12h5m-1-8h5m-2 2h5m1-3h5m8 5h5m4 4h5m-2 0h5m-5 1h5m-4-9h5m44-4h5m-3 9h5m4-6h5m-4 11h5m6-2h5m1-1h5m-3-11h5m-4 5h5m0 6h5m2-4h5m1-5h5m3 8h5m0-5h5m1 6h5m-3 0h5m-4-3h5m1-1h5m-4 6h5m-5-13h5m-4 9h5m-4-6h5m0 7h5m2 1h5m-4 1h5m4 0h5m-4-7h5m-3 4h5m-3-2h5m0-6h5m2 3h5m-5-2h5m18 11h5m-5-2h5m0-7h5m2 2h5m-1 5h5m-1-3h5m-3 2h5m-4-10h5m-1 14h5m-4-10h5m-5 0h5m-1 11h5m-4-10h5m-3-1h5m-3 5h5m-4-6h5m5-1h5m-3 13h5m1-7h5m-1-6h5m-4 10h5m-1 2h5m-2-13h5m-5 11h5m-2-7h5m7 3h5m-462 23h5m44-4h5m9-10h5m4 9h5m11-1h5m9-9h5m5 9h5m30-1h5m13 1h5m1 6h5m-2-11h5m12-2h5m-2 12h5m-4-4h5m5-9h5m-4 4h5m4-2h5m10 10h5m-4-6h5m7-1h5m-2 4h5m-4-5h5m-1 9h5m-5-4h5m-1 5h5m0-15h5m-4 13h5m-5-12h5m-4-1h5m-4 12h5m-3-5h5m-3 2h5m1 1h5m2-4h5m-4 8h5m-1-9h5m-4 0h5m-4 7h5m-4-1h5m7 0h5m-5-7h5m-4 4h5m-3-1h5m-2 1h5m-2-2h5m-3 3h5m1-9h5m-4 15h5m-3-6h5m0-6h5m1 7h5m-5 3h5m22-10h5m0 0h5m-2 8h5m6-10h5m-3 10h5m-4-3h5m3 6h5m0-12h5m-2 9h5m-1-10h5m-1 10h5m-4-6h5m-3 7h5m6-7h5m-3-1h5m-5 0h5m-3 8h5m14-8h5m-4-2h5m15 11h5m19-3h5m-517 10h5m115 1h5m14 3h5m-3 7h5m0-7h5m2-7h5m17 1h5m-4 6h5m7-5h5m-2-2h5m30 14h5m2 0h5m7-5h5m-4-4h5m0 5h5m-3-5h5m-1 6h5m-4-9h5m-1 2h5m0 0h5m-4 5h5m-4 5h5m-4-2h5m-5-12h5m3 4h5m-5 4h5m3 1h5m-4-4h5m-1-1h5m-3 8h5m0-10h5m-5 6h5m4-5h5m8 8h5m0-2h5m0 1h5m30-4h5m21 4h5m3 4h5m-4-8h5m-4 5h5m-4-4h5m-2-7h5m0 5h5m-4-1h5m-5 7h5m5-2h5m-3-10h5m2 8h5m1-8h5m-5 9h5m-4 5h5m-5-8h5m-4 3h5m1-8h5m-4 1h5m-3 0h5m-2 13h5m-3-10h5m4 5h5m-4-8h5m-1 3h5m3 6h5m14 2h5m-659 15h5m-2 2h5m-3-4h5m-4 5h5m15-13h5m15 11h5m-1 2h5m18-2h5m3-2h5m23 4h5m2-6h5m3 5h5m15-1h5m5-3h5m4-4h5m8 8h5m4-4h5m42 1h5m-3-3h5m1 7h5m-1-10h5m-5 7h5m4-6h5m23 5h5m10-11h5m2 6h5m-2-1h5m-3-2h5m0 4h5m-4 2h5m-1-4h5m6-5h5m-5 11h5m2 2h5m12-8h5m11 6h5m4-7h5m-4-4h5m0 5h5m-4 9h5m4 1h5m-5-14h5m-4 11h5m1-12h5m-5 10h5m-2 5h5m5-6h5m-3-6h5m4-3h5m-4 7h5m-5 7h5m-4-7h5m-5 0h5m-4-1h5m-3-2h5m-4 7h5m-3 2h5m-5-11h5m-4 0h5m8 11h5m-2-1h5m-2-12h5m-3 9h5m-3 1h5m-4 0h5m-5 5h5m-4-6h5m5-5h5m5 5h5m14-7h5m65 10h5m-4 1h5m3-12h5m1 2h5m-4 2h5m-3 4h5m-4 0h5m-3-3h5m-3 8h5m-2-8h5m-4-1h5m-3 0h5m-4 5h5m3-5h5m-1 3h5m-2-4h5m7 5h5m-2-8h5m11 8h5m250 2h5m-906 15h5m7-2h5m49-6h5m15 0h5m62 13h5m4-2h5m10-10h5m6 2h5m-2 0h5m1-2h5m11 6h5m-2-9h5m-4 14h5m0-9h5m-4 0h5m10 6h5m2-1h5m0-1h5m-2-2h5m5-3h5m18 11h5m8-13h5m-5 11h5m2-1h5m-5-9h5m-4-2h5m13 10h5m-4-8h5m1-2h5m5 6h5m-4-4h5m-1 11h5m-3-10h5m-3 2h5m-3-2h5m-4-3h5m-1 8h5m-1 2h5m-1 4h5m-4-3h5m-2 0h5m-4-2h5m-3-6h5m-5 0h5m-1 5h5m-5-5h5m-4 6h5m-5 4h5m1-8h5m-5 9h5m-4-4h5m2 1h5m-4 1h5m-2-1h5m8-2h5m-5 3h5m-2 1h5m-5-6h5m-4 3h5m4 1h5m-4 0h5m0-8h5m-3 4h5m0 7h5m-4 0h5m-1-9h5m-5 5h5m-5-1h5m-1 4h5m-3-4h5m-4 0h5m-5-4h5m0-6h5m-4 3h5m-4-2h5m-3 14h5m-1 0h5m-2-14h5m73 8h5m15 2h5m-5 0h5m11 0h5m-3-3h5m-5-4h5m1 1h5m-4 3h5m-4-3h5m-5-1h5m-4-1h5m-3 0h5m-3 2h5m-4-5h5m-5 9h5m-3-6h5m-2 12h5m-3-15h5m-2 6h5m8 2h5m-4 5h5m13 0h5m28 1h5m102-1h5m-776 12h5m-4-2h5m24 6h5m-5 1h5m-2-13h5m21 6h5m2-2h5m9 7h5m-3-5h5m3 4h5m4-8h5m-2 3h5m-1-5h5m12 2h5m-3-1h5m6 3h5m0-4h5m8 3h5m-2-3h5m9 7h5m-1-6h5m-1 12h5m11-1h5m-3 0h5m-3-3h5m-3-4h5m-4-1h5m5 2h5m0 5h5m12 1h5m0 2h5m-2-13h5m0-2h5m-2 6h5m-4-5h5m6 13h5m-4-3h5m-3-8h5m1 7h5m-4 4h5m-4-6h5m-5 4h5m0-10h5m-5 6h5m-2-6h5m-4 2h5m2 7h5m-4 1h5m-2 0h5m4-10h5m-5 13h5m-4-11h5m-3 3h5m-4-5h5m-4 4h5m11-4h5m-3-1h5m-3 6h5m-3 6h5m-5 1h5m-4-1h5m-3-2h5m3-5h5m1 8h5m-2-11h5m-4 1h5m-4 8h5m1-7h5m-4-3h5m-5 12h5m6-2h5m-4 3h5m-4-3h5m8-1h5m-5-11h5m2 4h5m-1 9h5m-4-8h5m-4 3h5m-2-2h5m-4 7h5m-5-5h5m-4-2h5m-5-6h5m0 15h5m-3-7h5m-2 6h5m-3-3h5m-4-9h5m0 4h5m-3 5h5m-4 1h5m-2-7h5m-1 8h5m-1-11h5m-2 9h5m-5 0h5m-3-3h5m10 1h5m3-7h5m7 9h5m16-10h5m34 5h5m-2 6h5m7-1h5m-4-4h5m-2-7h5m1 15h5m-3-11h5m-5 2h5m-1-1h5m-4-3h5m-4 9h5m-4-4h5m-3 6h5m-1-4h5m-4-6h5m-1 3h5m-2 9h5m-4-7h5m16 6h5m7-8h5m14 7h5m240-11h5m-871 25h5m17-1h5m9 4h5m3-9h5m-2 7h5m-2-5h5m8 2h5m2-3h5m28 0h5m7 3h5m-4 2h5m0-8h5m-2 10h5m2 0h5m13-7h5m0-6h5m4 3h5m-4-2h5m-5 14h5m-1-10h5m-3-1h5m-1 8h5m-1 3h5m3-3h5m-2-4h5m-4 7h5m12-9h5m1 7h5m2-6h5m-3-7h5m-5 7h5m-3 2h5m-4 6h5m-2-9h5m-5 4h5m3-3h5m0 8h5m0-4h5m0-7h5m-4 7h5m-4 0h5m-2-8h5m2 5h5m-4 3h5m-1-3h5m-5-5h5m-3 7h5m-2 4h5m-5-4h5m-1 0h5m-5-7h5m-4 7h5m-2-6h5m-2 3h5m-2 7h5m-4-5h5m-2 1h5m-4 1h5m-3-4h5m-3 6h5m-5-3h5m-1 4h5m-4-13h5m0 9h5m-4-9h5m-3 9h5m-1 1h5m-2-4h5m-5-2h5m-3-5h5m-4 3h5m-3 11h5m-5-9h5m-4-1h5m-1 2h5m2 5h5m-1 1h5m-4-10h5m-1 11h5m1 2h5m-5-8h5m-4 1h5m-4-6h5m-4 3h5m-3-5h5m-4 4h5m-4 5h5m-5-7h5m-3 0h5m-2 4h5m-5 2h5m-3 7h5m-2-5h5m-5-5h5m1 1h5m-4 6h5m-2 0h5m-5-5h5m-1-4h5m-4 1h5m-4 1h5m-5-1h5m-5 3h5m2 4h5m-2-6h5m-4 9h5m0 0h5m5-4h5m-1-6h5m1 1h5m-4 1h5m-2 6h5m-4 0h5m2-11h5m-5 0h5m0 11h5m-3-3h5m-2 2h5m8 4h5m12-9h5m23 6h5m12-6h5m12 0h5m8 8h5m-4-1h5m-2-10h5m1 4h5m-4 2h5m4 1h5m-2-7h5m-2 12h5m-5-10h5m-3 4h5m5-6h5m-4 7h5m-4-1h5m-5-2h5m-3-3h5m5-3h5m-3-1h5m-618 19h5m-4-1h5m15 6h5m7-5h5m0 9h5m16 0h5m-5-3h5m0 3h5m8-4h5m-3 5h5m9-13h5m-3 8h5m-1 3h5m-4 1h5m3-1h5m1-2h5m15 4h5m5 2h5m5-5h5m-2 0h5m19-2h5m10 6h5m-5-6h5m10 0h5m-2 4h5m1-3h5m-4-2h5m1 6h5m-3-13h5m3 8h5m-1 5h5m-2-11h5m-3 1h5m-2 7h5m-4-6h5m3 0h5m4 2h5m-4 5h5m1 3h5m0 0h5m-2-13h5m-4 10h5m-1-10h5m-4 6h5m-3 1h5m1 0h5m-1-1h5m1-6h5m-3 13h5m2 1h5m-3-10h5m5-2h5m-1 7h5m-3-5h5m-3-4h5m-3 10h5m-5 0h5m-1-1h5m0 2h5m-5-12h5m-5 15h5m4-12h5m-3-3h5m-4 8h5m-4-6h5m-4 12h5m1-1h5m0-9h5m-5 1h5m-4-5h5m-5 4h5m1 11h5m-3-14h5m-3 9h5m-4-9h5m-4 14h5m-4-11h5m-1 7h5m-3-10h5m-4 0h5m-1 0h5m-5 14h5m-1-1h5m-2-9h5m-4 0h5m3-3h5m-4-2h5m0 14h5m-5-11h5m0 5h5m-3 0h5m2 0h5m-3-8h5m-5 13h5m-4-12h5m-2 13h5m-2-12h5m2 6h5m-1-8h5m-3 6h5m-4-1h5m5 9h5m21 0h5m-4 0h5m8-1h5m0-12h5m8 13h5m-4-2h5m2-1h5m-2-2h5m-4 4h5m-4 0h5m-5-2h5m-4-11h5m-2 12h5m-4-7h5m-4 0h5m-4 5h5m-4 3h5m1 0h5m1-7h5m-5 9h5m11-11h5m-1-1h5m0 4h5m-2-3h5m-1 8h5m8-7h5m-609 24h5m-3-5h5m8 6h5m15-13h5m18 0h5m11 7h5m-3 1h5m4-5h5m9-1h5m0-2h5m0 13h5m2-11h5m13 5h5m-5-6h5m11 10h5m14-8h5m-2 9h5m6-5h5m-5 1h5m-2-3h5m-1 3h5m2-6h5m15 3h5m6 7h5m7-3h5m16-5h5m-5 5h5m3-4h5m-1-4h5m0 9h5m-4 3h5m-1-14h5m-1 10h5m-4-1h5m-5-4h5m-5 2h5m-2-1h5m-5 2h5m-3 4h5m-5 2h5m-4-12h5m-1 5h5m-4 6h5m-4-12h5m-3 0h5m-4 14h5m-3-10h5m-5-5h5m0 9h5m-5 1h5m-1 5h5m0-15h5m1 0h5m-4 4h5m-4-2h5m-4 10h5m-1-3h5m-2 4h5m2-4h5m-4 4h5m-3-5h5m-3 0h5m-3 0h5m0-7h5m-2 7h5m-3 6h5m-2-13h5m-4 10h5m-3-2h5m0 1h5m-5 0h5m-3 0h5m-2-6h5m-5 3h5m-4-1h5m-2-2h5m-5 1h5m-5-4h5m-5 11h5m0-10h5m-4 10h5m-4 3h5m2-15h5m-5 13h5m-5-10h5m-3 12h5m-2-6h5m-3-6h5m-1 6h5m-4-9h5m-3 10h5m-3-1h5m-4-7h5m-5 9h5m6 1h5m-4-3h5m1 5h5m4-13h5m-4 3h5m-4-1h5m2 1h5m-3 11h5m10-1h5m15 1h5m-4 0h5m-3-5h5m7-4h5m-5-6h5m-2 11h5m-4 4h5m-5-3h5m-2-6h5m-2 4h5m-2-6h5m-5-4h5m-2 6h5m-2 1h5m-5 5h5m-3-12h5m-2 12h5m-4-6h5m-1 3h5m-5-1h5m-2-1h5m-3-7h5m0 4h5m1-1h5m-2 6h5m-2 2h5m4-6h5m3-3h5m-1 5h5m5 4h5m-4-9h5m0 11h5m23-10h5m1 8h5m-621 14h5m7-3h5m7-2h5m-4 6h5m9-1h5m7-5h5m15 7h5m30-9h5m-4-1h5m-4 5h5m1 0h5m1-5h5m2 11h5m3-6h5m-3 5h5m6-2h5m0 2h5m18-6h5m-2 10h5m9-10h5m-2 6h5m-4 1h5m-1-12h5m6 9h5m-1 2h5m3 0h5m-2-2h5m-4-9h5m-1 13h5m-1-2h5m-3 2h5m0-8h5m-5 6h5m6-6h5m4-1h5m-4 3h5m-3 1h5m2-8h5m-1 8h5m-5 7h5m-4-6h5m-4-8h5m-3 1h5m-5-2h5m-3 5h5m-4 2h5m-1 7h5m-3-4h5m-3 3h5m-3-8h5m-2 6h5m3-11h5m-5 4h5m4 7h5m-4-10h5m-4-1h5m1 15h5m-3-7h5m-4-2h5m1 1h5m0 1h5m-2-2h5m-5-4h5m-4 4h5m-3 7h5m-5-11h5m-3-1h5m-1 14h5m-1-2h5m-1-9h5m-5 2h5m2 0h5m-5-2h5m-3 2h5m-5 7h5m-4 2h5m-5-3h5m1-5h5m-5-5h5m-3 5h5m-2-7h5m7 1h5m-1 13h5m-4-3h5m-5-4h5m-4 3h5m-4 2h5m-3-7h5m-3 9h5m-3-1h5m-5-6h5m-4 2h5m-3-3h5m0 0h5m-4 9h5m-5-4h5m-3-7h5m-3 3h5m-5-7h5m-1 8h5m-3-6h5m2 9h5m-2-4h5m0-3h5m-4 11h5m-5-15h5m5 2h5m2 1h5m-4 4h5m-2 1h5m1 0h5m-5 1h5m1 6h5m5-12h5m1 0h5m-3 6h5m4 1h5m-5 5h5m12-11h5m8-2h5m-5 12h5m-4-7h5m2 1h5m-2 0h5m-4 7h5m1-10h5m9-1h5m2 2h5m-3-2h5m0-4h5m-3 0h5m2 12h5m5-4h5m3 1h5m-4-8h5m-591 17h5m17-2h5m16 5h5m8-5h5m36 14h5m-4-9h5m9 1h5m-2 3h5m1-8h5m5 0h5m-4 6h5m4 7h5m-5-5h5m17 3h5m2 1h5m-4-7h5m-3 9h5m-2-8h5m-3 3h5m-4 1h5m-2 1h5m-5 0h5m-2-10h5m-4 8h5m-4 3h5m-5-8h5m-3 9h5m3-6h5m-1-1h5m-2-3h5m-1 6h5m-2-6h5m-5 9h5m-2-7h5m1 0h5m-3 4h5m-3-3h5m-4-2h5m-4 1h5m-3 9h5m-4-4h5m-3 1h5m-1-1h5m-4-8h5m0 12h5m-4-2h5m-2-3h5m-4 3h5m-5-2h5m-5 0h5m-4 2h5m-3 0h5m-4-3h5m-5-8h5m-4 5h5m1 1h5m-1-5h5m-3 0h5m-4 3h5m-3 8h5m-5 0h5m-1 0h5m-3-2h5m-5-7h5m-3 4h5m-4-2h5m-4-5h5m-5 7h5m-2 1h5m-5-4h5m-3 3h5m-3 0h5m-4-9h5m-3 7h5m-4 0h5m-1-2h5m-5 1h5m-3 9h5m-5-5h5m3 2h5m-4 1h5m-1 2h5m-4-4h5m-5 2h5m-3-3h5m-4 3h5m-4 2h5m-5-8h5m-4 2h5m-3-9h5m-5 4h5m-3 2h5m-5 9h5m-2-6h5m-4-6h5m-4 10h5m-3-13h5m-3 7h5m-2 5h5m-5-12h5m-2 14h5m-5-11h5m-3 1h5m-4-3h5m-1 5h5m1 8h5m-4-10h5m0 2h5m-4-4h5m-4 6h5m2 7h5m-5 0h5m-5-15h5m-4 2h5m-4-1h5m1 11h5m-3-3h5m-5-1h5m-2-5h5m1 5h5m-4 1h5m-5 0h5m-5-1h5m-3 2h5m-5-8h5m6 4h5m-1-2h5m-3 8h5m-1 2h5m-4-12h5m-5 0h5m-2 2h5m-3-4h5m-3 9h5m-4 4h5m-3-4h5m2-6h5m-4 4h5m-4 0h5m-2-2h5m2 5h5m-4-8h5m-4 9h5m-4 0h5m-5 4h5m4-12h5m-4 10h5m-4-3h5m2-7h5m0 11h5m-3-2h5m-3-11h5m6 4h5m-1 2h5m-3-3h5m-2 5h5m-3 2h5m-2-1h5m-1-10h5m-5 7h5m-4 0h5m0 1h5m-2 2h5m-4 0h5m-3 4h5m-3-5h5m-4-9h5m-3 13h5m-5-11h5m-1 4h5m-5 1h5m-3 4h5m-2-2h5m-5 6h5m-3-4h5m-2 2h5m-5 2h5m-3-14h5m-2 8h5m-3-5h5m1 4h5m10 2h5m118-4h5m220 6h5m-919 14h5m-4 4h5m-2-11h5m29-1h5m-1 0h5m-3 9h5m10-9h5m1 4h5m23 8h5m-3-3h5m-3 2h5m-2-2h5m-1-5h5m8 6h5m8-1h5m-3-3h5m1-7h5m2 7h5m1-3h5m7 4h5m-5 1h5m-5-4h5m-2 4h5m1 5h5m-2-3h5m0 2h5m-5-10h5m-2 1h5m-3-4h5m0 2h5m-2-1h5m-3 12h5m-3-6h5m5 2h5m-4-8h5m-5 10h5m-3-1h5m-2 2h5m-4 0h5m-4 0h5m0-2h5m1-1h5m-5 4h5m-4 0h5m-2-6h5m9-8h5m-2 15h5m5-11h5m-1 6h5m-5-7h5m-2 3h5m-4-2h5m-4 3h5m-5-5h5m-5 2h5m-5 3h5m1-2h5m-3 5h5m-3 0h5m-4-9h5m-3 13h5m-5-9h5m0-1h5m0 9h5m-3-7h5m-3 6h5m-3 2h5m-4-5h5m-1 2h5m-5 1h5m-5-10h5m-3 4h5m-4-1h5m-5-4h5m-3 6h5m-3-1h5m-3 2h5m-4 0h5m-1 6h5m9-14h5m-1 4h5m-2 5h5m-2 2h5m8-5h5m-4 1h5m-4 7h5m-5-11h5m-4 6h5m0 0h5m-5 6h5m-3-12h5m-3 10h5m-5 2h5m-5-7h5m-4-1h5m-4 2h5m-5-8h5m-5 2h5m0-2h5m-3 1h5m-3 1h5m-3 6h5m1 2h5m-2-11h5m-4 6h5m-3 3h5m-4-3h5m11 1h5m1 2h5m-4-9h5m3 6h5m-5 5h5m-4 0h5m-3-5h5m-3-2h5m-1 7h5m-4 3h5m-1-13h5m2 1h5m-4 8h5m-4-4h5m-5-5h5m-1 1h5m-3 3h5m0 3h5m7-4h5m-3 7h5m0-8h5m-2 10h5m-4-4h5m3 6h5m-4-4h5m-4 3h5m-4-11h5m-2-2h5m7 8h5m-2-8h5m-4 0h5m-2 14h5m-3-8h5m-1-6h5m-4 7h5m0-4h5m-5 6h5m13 3h5m2-6h5m-3-7h5m0 8h5m-1-8h5m20 10h5m-575 17h5m-3-2h5m3 0h5m11-1h5m6-3h5m15-4h5m7-1h5m1 7h5m1 3h5m4 4h5m-1-1h5m-2 0h5m-4 0h5m-2-5h5m0 5h5m1-5h5m-2-2h5m-1 2h5m5 5h5m-3-4h5m-2 2h5m-3-8h5m1-3h5m-4 12h5m-4-3h5m-3 6h5m-2-11h5m-2 8h5m-4 0h5m-2 3h5m3-1h5m4-3h5m-4-4h5m0-7h5m2 13h5m-4-12h5m-3 10h5m-3 2h5m-3-13h5m2 10h5m-5 5h5m3-5h5m-4 2h5m-5-1h5m3-2h5m-4-6h5m-4 10h5m1 0h5m-3-12h5m-4 5h5m-4 9h5m-5-15h5m-1 0h5m-3 11h5m-5-5h5m-4 3h5m0-5h5m-2 2h5m-1-3h5m-3 0h5m-5 2h5m3 4h5m-1-2h5m-4 4h5m-4-10h5m0-1h5m-3 8h5m-3-3h5m-5-5h5m-1 0h5m-4 1h5m-3 11h5m-4 2h5m-4-1h5m-3 2h5m-4-10h5m1 8h5m-3 1h5m-4-12h5m-3 12h5m-4-14h5m-4 7h5m4-2h5m-1 5h5m-5 4h5m-2-12h5m-4 13h5m-4-3h5m-3 0h5m-2-7h5m-5 10h5m-3-15h5m-3 14h5m-3-1h5m-3-12h5m-4 9h5m-3-9h5m-2 1h5m-5 13h5m-5-6h5m-5 6h5m-3-15h5m-4 13h5m-3-11h5m-1 11h5m2 2h5m-4-13h5m-4 6h5m-4-3h5m-5 4h5m-4-8h5m-5 14h5m-2-3h5m5-1h5m-5 4h5m-5-1h5m-4-12h5m-4-1h5m-1 0h5m-2 12h5m-3-9h5m-4 1h5m-1-1h5m-3 0h5m-2-4h5m-2 12h5m-2-4h5m-2-8h5m-3 12h5m-3-12h5m-4 5h5m-5-2h5m-4-3h5m-5 9h5m-5 2h5m-5-9h5m-3-1h5m-2 3h5m-3 8h5m-5-3h5m1 4h5m-1-13h5m-4 5h5m-4-1h5m1-4h5m-5 8h5m-4 3h5m-2 4h5m-5-1h5m-2-6h5m-3 7h5m-1-11h5m-5 2h5m-5 4h5m-4-6h5m-2-1h5m-2-2h5m-1 9h5m-4-2h5m-5 6h5m2-4h5m-3-5h5m-4 8h5m-3-2h5m3-11h5m7 6h5m0-6h5m-2 13h5m-4-4h5m-3 4h5m-1-3h5m-1-7h5m-4 0h5m-4 12h5m-5-12h5m6-3h5m4 1h5m-5 11h5m2 2h5m-2-3h5m-561 19h5m-4-5h5m0 0h5m16 0h5m-3 6h5m-3-15h5m-3 13h5m0 1h5m-3 0h5m-5-3h5m2 3h5m3 1h5m0-9h5m5 9h5m-5-14h5m1 14h5m11-15h5m-2 2h5m-5 5h5m-1 6h5m-3-5h5m-3 7h5m9-9h5m-5-6h5m2 2h5m-4 11h5m-1 2h5m2-13h5m-3 9h5m10-6h5m-4-3h5m-1 4h5m3 6h5m-4-7h5m-5-4h5m-5 9h5m-3-4h5m6-1h5m0-5h5m-2 8h5m-3 5h5m-2-3h5m-2 0h5m-5-2h5m-5-7h5m-4 2h5m-4 10h5m1-10h5m-2-1h5m-1 6h5m-2-2h5m2 3h5m-4-9h5m0 4h5m-1 2h5m-3 1h5m-5 2h5m-1 4h5m-4-2h5m-4-8h5m-2 11h5m-5-8h5m-4 0h5m-4 6h5m-1-5h5m-5 1h5m-4-4h5m-5 0h5m-5 5h5m-2 2h5m-5 4h5m-2-3h5m-4-6h5m-4 4h5m-4-2h5m2 7h5m-1-13h5m-3-1h5m-3 6h5m-4 8h5m-2-8h5m-4-4h5m-4 4h5m-5-2h5m-5 3h5m-1 2h5m-4-1h5m-4-8h5m-4 5h5m-5-5h5m-3 9h5m-4 3h5m-5-10h5m-2 7h5m-4 0h5m-4-10h5m-5 14h5m0-9h5m-4-3h5m-4 4h5m-3 8h5m1-8h5m-4-3h5m0-3h5m-1 15h5m-4-7h5m-4-3h5m2 0h5m-3-5h5m-4 1h5m-2 8h5m2 3h5m0 1h5m-3-1h5m1 2h5m-5-11h5m-4-3h5m-5 13h5m0-2h5m-3-2h5m-4-7h5m1 12h5m8-4h5m-5-4h5m-4 9h5m-3 0h5m-1-3h5m2-1h5m-4-9h5m-5 13h5m-3-8h5m-5-4h5m-4 1h5m-5-3h5m-3 5h5m-3-1h5m-4 4h5m-4-5h5m-4 11h5m-5-9h5m-5-1h5m-5 5h5m-1-3h5m-4 0h5m-1 7h5m-4-9h5m-3-1h5m0 10h5m-2-12h5m-3-2h5m-2 1h5m-4 3h5m-5 3h5m-4 6h5m-4-8h5m-3 7h5m0-6h5m-5 1h5m1 5h5m9-12h5m-4 13h5m2-2h5m-5-10h5m-2 13h5m-3-2h5m-4-8h5m-4 6h5m-3-8h5m-3 6h5m-3-3h5m-5 6h5m-4-2h5m1-7h5m5 1h5m-4 7h5m-4 1h5m-1-10h5m-3 7h5m4 1h5m-4 3h5m-4-12h5m-1 10h5m-3-1h5m-4 0h5m-5-8h5m-3-1h5m-3 5h5m16 1h5m-1-6h5m3 14h5m3-11h5m9 0h5m-589 28h5m2-5h5m4-3h5m2 1h5m11-1h5m0 3h5m2-8h5m4 12h5m-5 1h5m8-14h5m-1 11h5m4-11h5m-3 13h5m5-8h5m-2 2h5m0 6h5m-3-1h5m-1-11h5m-1 7h5m-3-1h5m-4 1h5m4 5h5m-5-8h5m0-3h5m-5 12h5m-3-9h5m-4-4h5m0 6h5m0 6h5m-5-5h5m-2 0h5m-3-4h5m0 10h5m2-7h5m1-4h5m2 0h5m-5 0h5m-4 2h5m-3-3h5m1 6h5m1-4h5m-4-1h5m3 9h5m-4 2h5m-3-10h5m-5 9h5m-2-11h5m-4 0h5m-2-1h5m-4-1h5m-3 13h5m-4-6h5m-2-1h5m-4 6h5m-3 2h5m-3-4h5m-4 3h5m-2-8h5m1-3h5m-4 10h5m0-6h5m-2 8h5m-4-15h5m-4 11h5m-4 0h5m-4-9h5m-3-2h5m0 10h5m-3 2h5m-1-10h5m-3 0h5m-2 0h5m-4 7h5m-3-7h5m1 4h5m-3 2h5m-2-5h5m-4-3h5m-5 13h5m-3-3h5m-1 5h5m-5-15h5m-3 3h5m-5 4h5m-3 4h5m-3-4h5m-4-5h5m-5 2h5m-3-3h5m4 7h5m-5 5h5m-4 2h5m-5 0h5m1-7h5m-1-2h5m-5 1h5m-2-2h5m-3 3h5m-2 1h5m-5-9h5m1 8h5m-5-3h5m-5 10h5m2-9h5m-3 4h5m-3-7h5m-4 0h5m-5-3h5m-5 10h5m-2-5h5m-5 5h5m-3 0h5m-5 3h5m1-13h5m1 12h5m-3-2h5m-1 5h5m-3 0h5m5-7h5m3-7h5m-2 5h5m-3 1h5m-5 8h5m-2-4h5m-4-5h5m-4-4h5m-2 0h5m-5 2h5m7-1h5m-1-2h5m-4 14h5m-4-2h5m-4 1h5m-1-8h5m-2 3h5m-4 3h5m-3-8h5m-3 4h5m0-6h5m-2 2h5m0-4h5m-5 0h5m4 8h5m-5 7h5m-3-2h5m-2-5h5m-1-5h5m-2 6h5m-5-9h5m-1 9h5m-5 4h5m-4 2h5m-3-15h5m-5 2h5m-3-2h5m-4 11h5m-4-7h5m-4 4h5m-4-4h5m-4 6h5m-3-4h5m-3 1h5m-5 7h5m1 0h5m-4-8h5m-4 8h5m-3-5h5m-1-1h5m-5-4h5m1 0h5m-3 2h5m-5 1h5m-4 0h5m-3 4h5m-5 1h5m-2-5h5m-4-4h5m-4 12h5m-1-4h5m5 4h5m-4-15h5m-5 7h5m-5 0h5m-1-6h5m2 14h5m3-15h5m-2 10h5m-5 5h5m1-7h5m-4-5h5m3 1h5m-5 1h5m-3-3h5m0 2h5m-5 6h5m3 5h5m7-6h5m1-5h5m-576 14h5m-1-1h5m14 10h5m15-5h5m-4-4h5m-5 13h5m-4-14h5m7 10h5m-4-9h5m-4 6h5m1-2h5m-2-4h5m-3 7h5m-5-6h5m-5 9h5m-4-4h5m-4-3h5m-1-5h5m-2 7h5m-5-3h5m6 2h5m-4 3h5m2 2h5m-4-10h5m-3 5h5m3-4h5m-4 9h5m-3-9h5m-1 1h5m-3 8h5m-3-1h5m3 3h5m-5-2h5m-2-1h5m0 5h5m-5-13h5m0 0h5m-2 12h5m-2-7h5m-5-5h5m-4 2h5m-4 2h5m-4 4h5m-5 1h5m0 4h5m-3-15h5m-4 13h5m3-13h5m-2 11h5m-3-5h5m-1-5h5m-4 14h5m-4-7h5m-5-6h5m-4 2h5m2 5h5m-4 5h5m0-8h5m-4 1h5m-5 3h5m-2 0h5m-5 5h5m-4-8h5m-4 5h5m-3 2h5m-4-2h5m-3-5h5m-3 2h5m-3 4h5m-4-12h5m-5 11h5m-4-3h5m-3 6h5m-2-2h5m-5-3h5m-1-2h5m-5 1h5m-3-5h5m-1 11h5m-3-1h5m1-10h5m-4 9h5m1-5h5m-2 7h5m-3-6h5m-4-1h5m-5-5h5m0 11h5m-5-8h5m-1 3h5m-2-1h5m-4-5h5m-4 3h5m-2-3h5m-4 11h5m-4-1h5m-5-13h5m-3 10h5m-5-4h5m-4 5h5m-5-11h5m0 11h5m0-4h5m-5 6h5m-3 1h5m-5-14h5m-5 0h5m-3 11h5m-4-1h5m11-2h5m-3 7h5m-4-6h5m-5 3h5m-5 3h5m-4-10h5m1 0h5m-3 0h5m-3-2h5m-5 11h5m-4-13h5m-5 13h5m-3 0h5m-1-7h5m3 3h5m-5 0h5m0 1h5m-4-10h5m-1 11h5m-4-2h5m0-7h5m-2-2h5m-4 4h5m-4 8h5m2-3h5m0 4h5m1-14h5m-3 3h5m-4 5h5m-4-6h5m-5 4h5m-4 3h5m0-5h5m0-4h5m1 12h5m-5-5h5m-4 0h5m-4-5h5m0 10h5m-3-1h5m-2-7h5m1 3h5m-4 6h5m-5-13h5m-4 8h5m-3 0h5m-3 7h5m-5 0h5m-3-8h5m-2 8h5m-3-13h5m-5 11h5m-5-6h5m-1-1h5m-5 8h5m-2-9h5m-5 9h5m-1-5h5m-4-7h5m2 7h5m-5-9h5m-3 11h5m-4-8h5m2 0h5m-5-3h5m-5 12h5m-4-11h5m-4 4h5m-2 6h5m-2-2h5m-4 1h5m-5-4h5m4-5h5m-4 6h5m-4-5h5m-3 10h5m5-9h5m-4 8h5m-4-5h5m-4 5h5m-4-10h5m-4 13h5m-3-11h5m-4 4h5m-2 7h5m-5-7h5m-4 2h5m-3-8h5m-4 6h5m-5-5h5m-4 10h5m-2-4h5m-3 2h5m-2-6h5m1 8h5m-3-8h5m-4-2h5m4-2h5m6 2h5m25 1h5m-578 19h5m-3 5h5m-5-6h5m23 2h5m1 1h5m5-1h5m5 2h5m-3 6h5m-3-3h5m6-1h5m-4 0h5m-2-1h5m-1-6h5m-1 9h5m0-13h5m-4 14h5m-4-6h5m-3 4h5m-5-7h5m-5 10h5m-4-3h5m-4-8h5m0 1h5m-1-5h5m-4 4h5m-2 1h5m-5 0h5m-4-2h5m0 8h5m-1 4h5m-5-14h5m-4 12h5m-5-8h5m-4 10h5m-4-10h5m-4 8h5m-3-8h5m-4 6h5m2-2h5m-2 4h5m-3-11h5m-2 12h5m-5-14h5m1 9h5m-1 4h5m1-1h5m0-12h5m-3 14h5m0-6h5m-1 5h5m-3-8h5m-5-3h5m-1 0h5m-1 11h5m-5-3h5m-3-7h5m-4 11h5m-5 0h5m1-6h5m-5-1h5m-2 0h5m0 3h5m-1-3h5m-4-1h5m-1 7h5m-4 2h5m-5-1h5m-4-5h5m-5 3h5m-4 2h5m-3-5h5m-5-2h5m-1 0h5m-5 1h5m-3 0h5m0 2h5m-4-4h5m-4 9h5m-2-7h5m-4 2h5m-5 1h5m-3 3h5m-4-13h5m-2 6h5m-5-4h5m-4 12h5m-4-8h5m-5-6h5m-3 12h5m-1-12h5m-5 11h5m-4-4h5m-2-2h5m-4-3h5m-5 7h5m-4 4h5m-1-10h5m-4 3h5m-3 1h5m-4-8h5m-3 10h5m-3-3h5m-2 4h5m-1 1h5m0-11h5m-4 7h5m-5 6h5m-3-10h5m2-4h5m-5 8h5m3 7h5m-5-11h5m-4-1h5m-2 7h5m-2 0h5m1-6h5m-3 2h5m-5 6h5m-1-1h5m-2 1h5m-1 3h5m-4-11h5m-3 9h5m-3-8h5m-4 10h5m-4-1h5m-4-11h5m-4-2h5m2 11h5m-4-8h5m-3 6h5m0 1h5m-3 4h5m-5 0h5m-2 0h5m-3-4h5m-4 4h5m-3-4h5m-5 0h5m-3-6h5m-4 7h5m-5-2h5m-5-3h5m1-1h5m-4 7h5m-5-3h5m-2-7h5m-4-2h5m-4-1h5m-2 1h5m-3-1h5m-4 4h5m-4 1h5m-4 7h5m1-10h5m-1-1h5m-5-1h5m-2 11h5m-4-7h5m-3 6h5m-5-7h5m-3 9h5m-1 3h5m-5-1h5m0-13h5m-5 6h5m-4-2h5m-5 9h5m-3 0h5m-1 1h5m-1-3h5m-5-12h5m-3 2h5m-5 1h5m2 3h5m-5 4h5m-4 0h5m-5 4h5m-3-6h5m-5 2h5m-4-8h5m-5-1h5m1 12h5m-4-5h5m-3-4h5m-4 5h5m-1 6h5m-4 0h5m-5-8h5m-4 2h5m-3 1h5m0 4h5m-5-9h5m0 8h5m-1-11h5m-3 3h5m-5 6h5m-3-1h5m-3-3h5m-2 2h5m-5-8h5m-2 10h5m-5-5h5m-4 2h5m2-8h5m0 15h5m-4-13h5m-5 3h5m-4-3h5m-4 0h5m-4-2h5m-3 8h5m-3-4h5m-4 6h5m-2-5h5m-5 6h5m-3-11h5m-1 11h5m0 1h5m7-4h5m-2-2h5m0-6h5m-4 14h5m-5-6h5m-2-4h5m4-1h5m-4-1h5m11 11h5m-1-4h5m0-3h5m62-5h5m-637 26h5m18-2h5m14-1h5m1-5h5m0 9h5m-5-3h5m0-8h5m-3 0h5m-4 12h5m-4-7h5m2 9h5m7-3h5m0-7h5m2 8h5m-4-10h5m-1 4h5m-3 3h5m-3 2h5m-5-9h5m-2 4h5m-3 0h5m2-7h5m-5 8h5m-1-1h5m-4-5h5m-5 8h5m-5 0h5m-3 4h5m-3-9h5m2 7h5m0-4h5m-5-7h5m-2 8h5m-4 1h5m-2 5h5m-3-14h5m-3 4h5m0 9h5m1-13h5m-2 13h5m-5-10h5m-2 3h5m-4-3h5m-4 8h5m-1 0h5m-4-11h5m-2 13h5m-3-12h5m-5 0h5m-3 4h5m-4 5h5m-2-7h5m-4 3h5m-5 8h5m-3-3h5m3-10h5m2 9h5m-4-6h5m-4-5h5m-2 5h5m-5 9h5m-3-5h5m-4-8h5m1 9h5m-2 4h5m-2-12h5m-5-2h5m-4 9h5m-5 2h5m-2-7h5m-4 7h5m-5 4h5m-1-5h5m-2 2h5m-5-4h5m-3 6h5m-4-13h5m-4 14h5m-3-8h5m-4 3h5m-3-7h5m3 7h5m-4 5h5m-4-2h5m-2-10h5m-4 1h5m-2-1h5m-4-1h5m-4 4h5m-4 8h5m-3-8h5m-4 3h5m-3 3h5m-4-5h5m-2-7h5m-4 12h5m-1-9h5m-1 11h5m-5-5h5m0-1h5m-1-7h5m-5 2h5m1 4h5m1-1h5m-4 0h5m-3-5h5m-5 14h5m-5-10h5m-4 2h5m-4-2h5m-4 0h5m-1 4h5m-1-7h5m-5 13h5m-4-1h5m3-8h5m-3 7h5m-3-11h5m-1 8h5m-3 3h5m-2-8h5m-3 0h5m5 2h5m-4-2h5m-4 10h5m-3-3h5m-3 1h5m-3-11h5m-3 12h5m-4-8h5m-4-5h5m-4 5h5m-2 3h5m-3 1h5m-4 1h5m-3-11h5m-4 11h5m-5-3h5m-5 4h5m-1-8h5m-5-3h5m-5 14h5m-1-2h5m-4-12h5m-4 8h5m-3 4h5m4-13h5m-3 8h5m-4-5h5m-1 2h5m-2 1h5m-3-1h5m-4 7h5m-4-5h5m-4 6h5m-2-1h5m-4 1h5m0-8h5m-5 5h5m-4-4h5m-4 6h5m-1-5h5m-3-5h5m-5 4h5m-2-2h5m-1 4h5m0-6h5m-2 7h5m-4 5h5m-5-13h5m-2 14h5m0-1h5m-1-14h5m-5 2h5m-4 1h5m-4 6h5m-4-9h5m-2 8h5m-4 5h5m-5 1h5m-5-2h5m-1 2h5m-1-1h5m-3-9h5m-4-1h5m-4-2h5m-4 3h5m-3 0h5m-3 11h5m-3-11h5m-2 2h5m-3 8h5m-5-4h5m-2-2h5m-4-3h5m-5 0h5m-4 6h5m-2-1h5m-2 5h5m-3 0h5m-4-2h5m-4-9h5m-3 5h5m-3 1h5m-3-2h5m-4 3h5m0 2h5m2-7h5m-4-4h5m10 11h5m12-5h5m17-7h5m-573 30h5m14-10h5m-5 6h5m2 3h5m-5-3h5m20-1h5m-1-9h5m-3 12h5m2 2h5m0-10h5m-5 7h5m-3-7h5m-2-3h5m-3 7h5m-5-6h5m-2 8h5m2-11h5m-3 11h5m1 3h5m0-4h5m3-7h5m0-3h5m-4 0h5m-4 10h5m-5 1h5m-4-6h5m-3 1h5m-5-5h5m-3 4h5m-3 2h5m-3 1h5m-1 4h5m-4-8h5m1-1h5m-4-1h5m-1 0h5m-4 5h5m-5 3h5m-1-9h5m-5 6h5m-4 3h5m-2-5h5m-2-4h5m-4 3h5m-4 10h5m2 1h5m-4-15h5m-3 1h5m-3 14h5m-4 0h5m-2-9h5m-5 5h5m0-4h5m-3 5h5m-4-12h5m-4 4h5m-3-3h5m-5 1h5m-1 5h5m-4 0h5m-4-5h5m-4-1h5m-4 2h5m-5 4h5m-4-3h5m-2 4h5m0 1h5m-4 2h5m-4 3h5m0-5h5m-4 4h5m-1 1h5m-5-5h5m0 6h5m-4-14h5m-4 6h5m-2 3h5m-3-4h5m-3 3h5m0-1h5m-4 3h5m0-8h5m-1 3h5m-5 6h5m-3-2h5m1-6h5m3 0h5m-4 7h5m-5-7h5m-5-1h5m1 5h5m-3-3h5m-4 5h5m-1 1h5m-4-3h5m0 0h5m-4-4h5m-3 4h5m-3 6h5m-5-12h5m-3 1h5m-3 0h5m3 6h5m-3 6h5m-5-2h5m-4-13h5m-4 11h5m-2-11h5m-4 4h5m-4 5h5m-1 1h5m-1-7h5m-4 2h5m-1 8h5m-5-9h5m-3-3h5m-2 6h5m-4-4h5m-4 4h5m1 1h5m-3-3h5m-2-4h5m-5 0h5m-5 13h5m10-5h5m-3-4h5m-1 5h5m-2 4h5m-4-6h5m-1-4h5m3-2h5m-3 9h5m-5-6h5m-3 8h5m-4-13h5m-4 14h5m-4 0h5m-1-2h5m-5-6h5m-3-2h5m3 2h5m-5-1h5m-3 4h5m-3 6h5m-2-2h5m-2-3h5m-5-4h5m-1-6h5m4 12h5m-1-1h5m-3-3h5m-1-2h5m2 2h5m-4-8h5m-3 1h5m-4 2h5m-2-3h5m4 8h5m-3 3h5m-2-2h5m-3-6h5m-5 2h5m-2 5h5m-4-1h5m-4 4h5m-4-1h5m-5-4h5m-3 4h5m-4 2h5m-3-14h5m-4 8h5m-5 6h5m-3-12h5m-3 2h5m0 5h5m-4 2h5m-5-2h5m-4 6h5m-5-2h5m-3-8h5m-4 2h5m-1-5h5m8 10h5m-4-5h5m3 2h5m2-1h5m-1-5h5m-5 5h5m2-3h5m-5 8h5m-5-9h5m0 11h5m-4-7h5m16-4h5m19 8h5m-578 14h5m11-2h5m14 5h5m-1-8h5m3 0h5m-5-3h5m4 7h5m0 1h5m0-10h5m-1 5h5m11 6h5m-3 3h5m-5-1h5m-4-6h5m-5-6h5m-4 0h5m10 13h5m0-4h5m-5-2h5m-4-4h5m-5 8h5m-3-12h5m-5 2h5m-1 0h5m-4 0h5m-5 7h5m-4-5h5m-4 2h5m-5 6h5m1-2h5m1 3h5m-3-11h5m-4 2h5m-5 10h5m-5-2h5m-2-3h5m0-8h5m2 7h5m-4 0h5m-2 3h5m-3-8h5m-5 8h5m-3-10h5m-4 7h5m-4 1h5m-4-6h5m-2 12h5m0-9h5m-2 9h5m-4-1h5m-2-4h5m-4-2h5m-5-3h5m-2 5h5m-3-5h5m-3-1h5m-1-3h5m-5 4h5m-4 4h5m-3-9h5m-4 8h5m-3 6h5m-2 0h5m-2 0h5m-4-3h5m-5 1h5m-4-4h5m-1-8h5m-5 7h5m-3 2h5m-5-6h5m-5 2h5m-3 7h5m-2-7h5m-3 7h5m-5-11h5m-4 1h5m-5 4h5m-5-2h5m-4 10h5m2 0h5m-4-3h5m-4 0h5m-3-7h5m-5-3h5m-4 10h5m-3 3h5m-4-14h5m-4 5h5m-1 1h5m-4-6h5m-5 13h5m-4-8h5m0 9h5m-4-14h5m0 2h5m-4 5h5m-3 4h5m-2-2h5m-3-2h5m-5-7h5m-5 7h5m-2-3h5m0 11h5m-5 0h5m-4-11h5m-3 7h5m-3-7h5m-5 9h5m0-1h5m-1 3h5m-3-15h5m-3 12h5m-4-7h5m-3-1h5m-4 10h5m-4-4h5m-4-3h5m1-1h5m-2-4h5m-4 11h5m-4 0h5m-4-11h5m4 7h5m-4 1h5m-5-2h5m4-3h5m-2 0h5m-3-4h5m-3 10h5m-1 2h5m-4-12h5m-5 9h5m-2-6h5m-4-4h5m-3 2h5m-1 2h5m-4 9h5m0-7h5m-5 2h5m-3-8h5m-5 6h5m-2 8h5m-4-1h5m-1-4h5m-5 5h5m-4-14h5m-5 2h5m0 7h5m-3-7h5m-4 5h5m-4 6h5m-3-13h5m-2 0h5m-5 4h5m-4 10h5m-3 1h5m-2-9h5m-4-1h5m-4 1h5m-3 4h5m-4-2h5m-4-6h5m2 8h5m0 3h5m-4 0h5m-4-6h5m-3 6h5m-5-1h5m-3-12h5m0 7h5m-2 6h5m-5-6h5m-4 7h5m0-10h5m-5 8h5m-1 3h5m-2-6h5m-4-3h5m-4 6h5m-4-3h5m-4 2h5m-2 2h5m-4-11h5m-3 7h5m-4-2h5m-5 7h5m-4-9h5m-4 5h5m-5 1h5m-4-2h5m-4 4h5m-4-11h5m-5 6h5m-2 2h5m-4-2h5m-4 4h5m-3-3h5m8 5h5m-5-7h5m-3-6h5m-3 12h5m-2-12h5m-2 4h5m5-3h5m-4 13h5m0-15h5m-3 0h5m-3 7h5m-4 2h5m-4 6h5m-5-5h5m-1 4h5m-4-12h5m29 5h5m4 6h5m-554 5h5m-3 7h5m23 0h5m10 2h5m-2 4h5m9-14h5m0 11h5m18-10h5m-3 5h5m-1-2h5m-1 8h5m-1-3h5m-2-7h5m-3-3h5m1 9h5m6-9h5m6 4h5m-2 3h5m-1-5h5m-1 9h5m-3-6h5m-3 1h5m-5-3h5m2 2h5m-5 4h5m-5 0h5m-3-8h5m-5 0h5m2-1h5m-1 9h5m-2 0h5m-4-2h5m-5 8h5m-1-13h5m-2-2h5m-4 9h5m-3-5h5m-5 7h5m-4 3h5m-4 1h5m-1-3h5m5-10h5m-4 1h5m-3-2h5m0-1h5m-5 7h5m-1-5h5m-4-1h5m-5 14h5m-4-5h5m-5-7h5m-3-3h5m-5 11h5m-5-6h5m3 2h5m-5-1h5m1-6h5m-3 6h5m-5 5h5m-3-6h5m-5 6h5m-5-9h5m-4 7h5m-2-2h5m-2 3h5m-4-4h5m1 1h5m-5 6h5m-1-5h5m-5-7h5m-3 14h5m0-13h5m-1 12h5m-5-7h5m-5-2h5m1-4h5m-4 5h5m-3-5h5m-5 1h5m-4 4h5m-5-3h5m-5 6h5m-4-9h5m-1 14h5m-2-11h5m-5 0h5m-5 6h5m-2-5h5m-1 8h5m-2-4h5m-4 2h5m-5 3h5m-4-13h5m-3 1h5m-4 5h5m-4-5h5m-2 13h5m-5-8h5m-2-1h5m-3-2h5m-2 1h5m-3 11h5m1-7h5m2 7h5m-5-8h5m-3 1h5m-3 3h5m-3-7h5m-4 8h5m-4-2h5m-2 4h5m-1-2h5m0-5h5m-2-6h5m-5 14h5m-4 0h5m-4-5h5m-3-8h5m-4 5h5m-3-6h5m-4 10h5m-4-6h5m-5 4h5m-2-2h5m-4-1h5m1-3h5m-4 8h5m-1 4h5m-4-7h5m0-5h5m-5 0h5m-5 7h5m-4-10h5m-1 11h5m-5-10h5m-1 4h5m-4-3h5m-4 1h5m-4 1h5m-5 5h5m-5-8h5m-4 6h5m-2-1h5m-4-4h5m-2-1h5m-4 13h5m0-9h5m-5-4h5m-2 9h5m-4-3h5m-5-3h5m-4 7h5m-1-3h5m-3-7h5m-4 11h5m-3-7h5m-5 1h5m-3 2h5m-5-2h5m-3 4h5m-4-8h5m-5 4h5m-4 5h5m5 0h5m-4 1h5m-4-4h5m-1 4h5m-1 0h5m-1-2h5m-1-10h5m-3 3h5m-3-1h5m-3 10h5m12-3h5m1-2h5m-2 7h5m-4-3h5m4-1h5m-4-8h5m4 13h5m10-11h5m-1 4h5m-2 6h5m-4-3h5m15-4h5m6-6h5m-553 18h5m-1 0h5m-1 12h5m-4-15h5m17 1h5m-4 6h5m17 1h5m-1 4h5m-1-1h5m8-4h5m1 8h5m5-8h5m-3-7h5m-2 15h5m-5-13h5m8 5h5m-3 6h5m5-1h5m2-5h5m5-5h5m-1 7h5m-4 2h5m3 4h5m-4-11h5m-5-2h5m-4 1h5m-4 1h5m0 4h5m-5-7h5m-4 3h5m-4 0h5m-5-1h5m-2 2h5m-2 1h5m-5 3h5m-4 5h5m-1-6h5m-5 4h5m-4-6h5m-4 2h5m-5-2h5m-4-3h5m-4 11h5m-2 1h5m-4-12h5m-1 10h5m-5 0h5m-3 1h5m-4 0h5m-4-9h5m-5 10h5m-4-9h5m-3-3h5m-2-2h5m-4 6h5m-4 1h5m-4 4h5m-3-6h5m1 4h5m-4 0h5m-4-7h5m-5 11h5m-3-12h5m-4 4h5m-5 6h5m-1 0h5m-2 2h5m-4-12h5m-5 1h5m-3-2h5m-2 5h5m-5 2h5m-4-6h5m-4 3h5m-1-4h5m-3 8h5m-5-7h5m-5 2h5m-1 11h5m-5-8h5m-3 6h5m-5-11h5m-3 5h5m-3-6h5m-2 12h5m-3-10h5m-1-1h5m-1 4h5m-2-3h5m-4 4h5m-4-6h5m-3 14h5m-4-5h5m-5-6h5m-4-3h5m-3 2h5m-4 9h5m-3-4h5m-3-5h5m-2 4h5m0-4h5m-4 2h5m-3 5h5m-1-9h5m-2 6h5m-4 3h5m-4 5h5m-4-13h5m6 8h5m-2-3h5m-5-6h5m-2 2h5m-3 8h5m-2-5h5m-4 6h5m-5-4h5m-4-2h5m-5 7h5m-2 2h5m-4-10h5m-2 3h5m0-8h5m-5 10h5m-3 2h5m-2-6h5m-1 7h5m-4-13h5m-3 15h5m0-6h5m-2-2h5m-5 3h5m-2-8h5m-5-2h5m-2 11h5m-5-5h5m-4 9h5m-1-8h5m-4 3h5m2-10h5m-4 5h5m-5 10h5m-5-5h5m-4-8h5m-4 6h5m-5 3h5m-5-7h5m-4 6h5m-5 0h5m2-10h5m-4 0h5m-3 12h5m-3-1h5m-3-11h5m-3 7h5m-3-2h5m-3 4h5m-4 4h5m-5-1h5m1-8h5m0 10h5m-4-6h5m-5-5h5m-4 6h5m-5-9h5m-4 0h5m-2 8h5m-4-1h5m-5-4h5m-5 10h5m-5-8h5m-4 1h5m-5-3h5m-4 8h5m-5 0h5m-5 3h5m0-5h5m-2 4h5m-3-4h5m-3 4h5m-1-9h5m-3 9h5m-4-4h5m1-2h5m1-1h5m-2 9h5m-4-1h5m0-5h5m-1-2h5m-1 1h5m0-6h5m-4-1h5m-2 5h5m-3 6h5m0-11h5m10 7h5m-3 5h5m-2-6h5m10 6h5m-3 0h5m-4-9h5m2 8h5m-1-10h5m7-1h5m-1 6h5m-3 2h5m-3 4h5m1-4h5m-3-8h5m-3 12h5m-2-10h5m236 3h5m-812 13h5m-2 1h5m-2-1h5m-3 7h5m11-6h5m1 11h5m-2-13h5m-2 6h5m-5 3h5m1 3h5m-3-1h5m11-6h5m-5 3h5m-3-10h5m-4 3h5m-1 10h5m4-11h5m-5 3h5m12 6h5m4 1h5m-4-10h5m-4-1h5m-5 10h5m0-11h5m0 2h5m-4 10h5m-1-6h5m-3 0h5m-2 5h5m-5-10h5m-3 9h5m-3 5h5m-2-6h5m0 1h5m-5 5h5m1-15h5m-1 2h5m-5 1h5m-4 9h5m-4 2h5m-5-2h5m-4-8h5m-4-3h5m-4 6h5m-2 0h5m0 4h5m-1-4h5m-3-3h5m-5 2h5m-2-1h5m2-1h5m-3 9h5m-5-1h5m-2-11h5m-2 4h5m-4 7h5m-3 0h5m-5-5h5m-2-5h5m-2 6h5m-2 5h5m-4-6h5m-2 0h5m-5 3h5m-5 4h5m-4-11h5m-1 5h5m-5 5h5m-3 2h5m-1-14h5m-4 2h5m-5 12h5m-3 0h5m-3-8h5m-4 2h5m-4-3h5m-5-6h5m-4 0h5m-4 2h5m-4 5h5m2-7h5m-2 5h5m-4 3h5m-3-6h5m-4 12h5m-4 0h5m-4-7h5m-3 3h5m-5-4h5m-4 0h5m-2-5h5m-2 13h5m-2-8h5m-3 5h5m-5-6h5m1 7h5m-4 0h5m-4-10h5m-1-1h5m3-1h5m-4 14h5m-4-9h5m-2-3h5m-2 12h5m-3-9h5m-5 0h5m-2-5h5m-4 10h5m-5 4h5m-3-5h5m-5-8h5m-5 7h5m-2 6h5m-3-8h5m-4 4h5m1-5h5m-5 4h5m-4 4h5m-3-7h5m-4-4h5m-4 5h5m-1-4h5m-5 3h5m-3 3h5m-5-8h5m-3 9h5m-4 5h5m1-2h5m-3 1h5m-5-13h5m-3 10h5m0-2h5m-4 2h5m-4-2h5m-2-1h5m3-6h5m-1 9h5m-5 0h5m-3-4h5m-4 5h5m-5-5h5m-3-1h5m-3-4h5m-1 11h5m2-11h5m-4 6h5m-3-7h5m-5 1h5m-4 0h5m-4 6h5m-3-3h5m-1 5h5m-5-6h5m2-2h5m-4 1h5m-2 2h5m-5 1h5m-5 6h5m-4-8h5m-4 1h5m-3 8h5m-4 1h5m-3 0h5m-1 0h5m-4-6h5m-4-7h5m-1 11h5m0-2h5m-4-7h5m-2 3h5m-4 6h5m-3-1h5m-4-5h5m-2-6h5m-2 13h5m-3 1h5m4 0h5m-5-2h5m-3-8h5m-5 8h5m-2-12h5m0 10h5m-4 2h5m-5-6h5m-4 2h5m3 0h5m-4-5h5m-2 8h5m-4-7h5m-2 6h5m3-2h5m-4 4h5m1-9h5m0 12h5m-5 0h5m-3-3h5m-1 2h5m-2-11h5m12 6h5m-3 2h5m7-9h5m-1 5h5m33 7h5m7-5h5m-575 14h5m8-2h5m8 10h5m32-14h5m-2 6h5m-1 1h5m-2-2h5m2-2h5m-4 2h5m-1 6h5m1-4h5m-5-1h5m1 6h5m0-6h5m-5 5h5m-4-10h5m-2 11h5m-2-10h5m-1 0h5m-2 10h5m-3-10h5m-2-2h5m-3 4h5m-1 3h5m-3 1h5m-2 0h5m-4-2h5m-4-7h5m-4 12h5m-4-3h5m-1-8h5m-3 5h5m-4 4h5m-4-6h5m8-2h5m-4 5h5m-5-7h5m-2 0h5m-4 1h5m-4 10h5m2 4h5m1-4h5m-3 0h5m-5-8h5m-4 11h5m-5 1h5m-2-3h5m-1-7h5m-5 4h5m-4-8h5m-3 9h5m-2-4h5m-2 9h5m-5 0h5m1-8h5m-4 0h5m-5-7h5m-4 3h5m-4 10h5m-2 0h5m2-1h5m-5-8h5m-3 2h5m-1-6h5m-4 14h5m-4-7h5m-3 8h5m-5-8h5m0 7h5m-3-13h5m-5 1h5m-1 0h5m0-2h5m-5 2h5m-3 8h5m1 5h5m-4-6h5m-4 2h5m-5-3h5m-4-1h5m-3-1h5m-2 8h5m-5 1h5m-3-13h5m-3 6h5m-2-5h5m-5 11h5m-4-7h5m-4 4h5m-4-2h5m-4-7h5m-4 3h5m-4 3h5m-1-1h5m-5 3h5m0-2h5m-4 1h5m-5-1h5m-5 1h5m-3-3h5m2 2h5m-5-8h5m-5 13h5m-4-12h5m-2 0h5m-5 12h5m-2 2h5m-3-10h5m-4 10h5m-5-13h5m-1 5h5m-5 8h5m-4-1h5m-5-7h5m-4-4h5m-4 9h5m-4 2h5m-4-7h5m-4 6h5m-4-1h5m-2 2h5m1-12h5m-4 3h5m-1-4h5m-3 8h5m-2-7h5m-5 7h5m-1-3h5m-4 3h5m-2 5h5m-2-5h5m-3-6h5m-5 11h5m-2-8h5m-5 3h5m-5 1h5m-3-7h5m-5 11h5m-3-5h5m-4 1h5m-5-5h5m-4 2h5m-1-1h5m-4-2h5m-1 1h5m-2-4h5m0 0h5m-3 8h5m-3-1h5m-3-5h5m-2 2h5m-4-1h5m-4 10h5m-1-4h5m-2 2h5m-5-9h5m-4 2h5m-3 3h5m-5 6h5m-4-1h5m-3 2h5m-2-2h5m-5 2h5m-4-13h5m-1 2h5m-4 0h5m-2 3h5m-1 2h5m-1 4h5m-2-5h5m-3-4h5m-2 0h5m-3-1h5m-5-2h5m-5 5h5m-4 5h5m-4 3h5m6-11h5m-4-2h5m-5 6h5m-5 8h5m-4-12h5m0 1h5m-3 9h5m0-5h5m-5 0h5m-4 0h5m-5 2h5m-2-7h5m-4-3h5m-3 1h5m-2 9h5m-2-10h5m-4 11h5m1 0h5m-3 2h5m1-6h5m8 4h5m-4-4h5m0-5h5m14 10h5m-1-12h5m28 9h5m-4-9h5m14 5h5m-573 15h5m11 4h5m5 7h5m6-9h5m13-3h5m-1 3h5m-3 2h5m-4 1h5m-4-3h5m-2 2h5m3 1h5m0 5h5m-5-9h5m-3 3h5m1 6h5m-2-2h5m7 1h5m-3-10h5m0-2h5m-1 2h5m-4 5h5m1-5h5m-4-1h5m-2 4h5m-5-1h5m1 4h5m-3-6h5m-4 3h5m-2-6h5m-5 7h5m-2 3h5m-1-2h5m-4-1h5m-3 2h5m-3-1h5m-5-2h5m-4 2h5m-2-3h5m-2 0h5m3 2h5m-3-3h5m3 0h5m-5 7h5m-2 0h5m-5 2h5m-5 1h5m-3-2h5m-3-12h5m-5 1h5m0 5h5m-4 3h5m-5 6h5m-4-3h5m-5 0h5m-2-4h5m-3 2h5m2-10h5m-2 11h5m-5 1h5m0-5h5m-5 7h5m-4-1h5m-5-6h5m-2-5h5m-4 7h5m-5-3h5m-5 3h5m-2-7h5m-4-1h5m-5 6h5m-4-1h5m-5 9h5m-1-14h5m-5 7h5m-3-5h5m-3 10h5m-2-9h5m-4-1h5m-5 4h5m-5 5h5m-1-8h5m-2 0h5m-1 0h5m-4-4h5m-5 11h5m-4-1h5m-2-9h5m-2 11h5m-5-2h5m-3-3h5m-5-2h5m3 1h5m-5 9h5m-1-1h5m-3-14h5m-3 5h5m-5-4h5m-3 13h5m-4-10h5m-3 0h5m-1 7h5m-5 4h5m-4-9h5m-2-3h5m-3 2h5m-5 9h5m-3-1h5m-4-10h5m-3 4h5m2 6h5m-3-7h5m-5-3h5m-2 6h5m-4 1h5m-3 3h5m-1 1h5m-4-4h5m-5 4h5m-4 1h5m-3-12h5m1 7h5m-2-6h5m-5 6h5m-4-5h5m-5 5h5m-4-7h5m-2 11h5m-3 1h5m-2 0h5m-4-14h5m-3 1h5m-4 0h5m-4 5h5m-5 2h5m-4 0h5m-4 0h5m-3 2h5m-4-4h5m-3-2h5m-4 0h5m-4 1h5m-2 0h5m-5 8h5m-4-4h5m-5 0h5m-4-10h5m-4 14h5m-4-1h5m-5 1h5m0-2h5m-4-8h5m2 1h5m-4-3h5m-2 3h5m2-4h5m-5 1h5m-3 11h5m3-8h5m-5 7h5m-3-10h5m-4 2h5m-1 1h5m-4 1h5m-4-3h5m-5-2h5m-3 3h5m0 9h5m-4-5h5m-4 6h5m-4-4h5m4-7h5m-3 8h5m-5-4h5m-3-3h5m0-1h5m-3 8h5m-5 1h5m0 0h5m-5 0h5m-4-9h5m-5 10h5m-5 0h5m-5-10h5m-3 12h5m-4-5h5m-4-9h5m-4 4h5m-5 3h5m-3-2h5m-5 1h5m-5 4h5m-5 2h5m-3-4h5m-4 6h5m4-13h5m0 6h5m-3 3h5m0-3h5m-1-4h5m19 0h5m-5 3h5m2 3h5m3 0h5m2 4h5m-4-9h5m-1 3h5m1 2h5m6-4h5m32 7h5m56-1h5m-639 16h5m-1-11h5m2 7h5m7-8h5m14 0h5m7 5h5m31 4h5m-4-1h5m5 1h5m-1-2h5m-1 2h5m-4-6h5m-5 4h5m8-1h5m-3-2h5m-1 2h5m-4 9h5m-3-10h5m-4 5h5m-3 2h5m3-2h5m-4 2h5m-3-2h5m-1-1h5m-1-8h5m-1-1h5m-4 6h5m-5 4h5m-4-10h5m0 2h5m1 1h5m-2 7h5m-4-2h5m0-4h5m-4 1h5m-3 9h5m-4-14h5m-5 8h5m-4-5h5m-2 1h5m-2-3h5m-3 3h5m-1-3h5m0 10h5m-4-8h5m-4 2h5m-4-3h5m-2 8h5m-3-10h5m-5 2h5m-2 3h5m-4 10h5m-5-6h5m-5-6h5m-4 12h5m-3 0h5m-5-3h5m-5-8h5m-2 6h5m-2 1h5m-3 4h5m-1-7h5m-5 3h5m-4-2h5m1 5h5m-3-2h5m-2 0h5m-1-8h5m-4-3h5m-3 11h5m-4-2h5m-3-9h5m-3 8h5m-5 3h5m-3-12h5m-5 13h5m-5-12h5m-5 1h5m-4 5h5m-5 0h5m-2-2h5m-1 5h5m-2-8h5m-4 11h5m-4 1h5m-3-13h5m-1-1h5m-5 12h5m-2-9h5m-3 5h5m-4-5h5m-5-1h5m-1 3h5m-3 6h5m-5-9h5m-4-1h5m-4-1h5m-4 10h5m-4-6h5m-5-2h5m-4-1h5m6 9h5m-3-6h5m-3-1h5m-3 6h5m-3-4h5m-5 4h5m-3-8h5m-5 5h5m-2-4h5m-4-1h5m-3 14h5m-3-12h5m-4 0h5m-4 10h5m-4 2h5m-2-5h5m-4-1h5m-2-2h5m-4-4h5m-3 2h5m-5 1h5m-5 4h5m-3 5h5m-3-9h5m-4 5h5m-5-1h5m-5-8h5m-1 12h5m-5-14h5m-4 15h5m-5-12h5m-3 6h5m0 0h5m-3-9h5m-5 13h5m-4 1h5m-3-11h5m-5-1h5m-5 4h5m0-2h5m-4 5h5m-2 6h5m0-12h5m-3 7h5m-5-9h5m-4 2h5m-4 7h5m-4-8h5m-5 1h5m-4 2h5m-4 5h5m-4 4h5m-2-12h5m-2-2h5m-3 1h5m-1 6h5m-2 2h5m-4 4h5m-4-6h5m-2 5h5m-3-10h5m-5 13h5m-4-12h5m-4-3h5m-5 2h5m-4 9h5m-5-5h5m-1 5h5m-5-6h5m-4 3h5m-4 3h5m-1-7h5m5 6h5m-3 4h5m6 1h5m-4-13h5m-4 13h5m-2-6h5m-3-3h5m-5-6h5m-1 6h5m-3-5h5m-3 11h5m-4 2h5m-4-1h5m-2-5h5m-2 0h5m-3-2h5m1-6h5m1 2h5m-4 13h5m6-3h5m-2-2h5m-4-5h5m-4 5h5m7 5h5m6-8h5m30 2h5m-5-1h5m-554 22h5m-4-5h5m-4-2h5m-3-1h5m-3-6h5m1 1h5m-1 8h5m1-3h5m3 3h5m-1 3h5m-4-8h5m22-2h5m1 0h5m-3 0h5m2 9h5m14 4h5m-3-5h5m-4-10h5m-4 9h5m7-2h5m-3 8h5m-2-12h5m-1-1h5m-4 4h5m-4 0h5m-4-3h5m10 7h5m-1 3h5m0-13h5m-4 3h5m-5 10h5m12-4h5m-3 4h5m-5-5h5m-5 0h5m-5-7h5m-3 2h5m1-1h5m-4 3h5m-4 8h5m-5 1h5m-3-2h5m-4-7h5m-1 0h5m-2 8h5m-3-10h5m-3-2h5m-3 5h5m-1 5h5m-3 1h5m-5-12h5m-4 7h5m-1-4h5m-3 5h5m5-3h5m-1-4h5m-2 3h5m-5-3h5m-4 1h5m-5 6h5m-4 6h5m-4-9h5m-5-1h5m0 4h5m-4 4h5m-3 3h5m-5-6h5m-4-4h5m-4 4h5m-4 1h5m-5 4h5m2-1h5m-5-3h5m-3-8h5m-5 6h5m-4 3h5m-3-4h5m-3 0h5m-4-7h5m-4 12h5m-1-9h5m-5 5h5m-4-7h5m-3 8h5m-4-3h5m-4-2h5m-4 5h5m-5 4h5m-3-8h5m0 5h5m-4-9h5m1-1h5m-5 10h5m-4-7h5m-3 10h5m-4-5h5m-4-6h5m-5 2h5m-4 0h5m-4 2h5m-3 6h5m-5-2h5m-4-2h5m-4 4h5m-2-5h5m-3-7h5m-4 13h5m-4 1h5m-4-2h5m-4-11h5m-3 9h5m-4-8h5m-4 2h5m-4 9h5m0 1h5m-4-5h5m-4-2h5m-4 4h5m-4-5h5m-5 6h5m-4-11h5m-5 10h5m-3-10h5m-5 2h5m-2-2h5m-5 6h5m-5 0h5m-3 1h5m-2-7h5m-4 0h5m-4-1h5m-4 3h5m-4 5h5m-5-8h5m-2 8h5m-3-2h5m-1 5h5m-4-8h5m-4-2h5m-3 7h5m-4-5h5m-5 5h5m-1-2h5m-5 6h5m-4-3h5m-2-8h5m-2 10h5m0-4h5m-3-6h5m-5 1h5m-2 1h5m-4 2h5m-5-2h5m-4 2h5m-4 0h5m-4 5h5m-5 2h5m-3-11h5m-5 0h5m-4 8h5m-4-2h5m-2-7h5m0 5h5m-5 9h5m-4-12h5m-5 10h5m-5-1h5m-4-4h5m-2-7h5m-4 11h5m-5 0h5m-4-4h5m-3-4h5m-4 5h5m-5 6h5m2-13h5m-4 7h5m1-2h5m-5 3h5m-4 4h5m-5-10h5m1 5h5m-3 2h5m-5-7h5m5-2h5m-2-1h5m-2 4h5m-5 0h5m-4 9h5m-4-11h5m-4 1h5m10 6h5m-5-8h5m1 11h5m0-5h5m-1-3h5m-5 6h5m2 2h5m-3-9h5m-4 4h5m-5 5h5m-3 3h5m-2-11h5m-2 0h5m8 0h5m-1-4h5m0 14h5m-4-6h5m3-1h5m2 1h5m0-7h5m7 13h5m3-6h5m-1-3h5m14 9h5m1-11h5m-574 20h5m3-3h5m1 3h5m1-2h5m6 3h5m33-3h5m6 2h5m-3 4h5m-4-1h5m-2-3h5m1-2h5m2-3h5m1 6h5m4-5h5m4-1h5m1 0h5m3 1h5m12-3h5m-4 0h5m30 2h5m-1-1h5m1 9h5m-4-4h5m-3 1h5m3 2h5m-4-1h5m-5 2h5m-1-4h5m-2 5h5m-5-1h5m-2-3h5m0-3h5m-2-4h5m-5 2h5m-2 0h5m-4 6h5m-3-7h5m-3 0h5m-2 7h5m-3 0h5m-4-4h5m3-3h5m-4 4h5m-3-1h5m-2-2h5m-3 2h5m4 5h5m-3-7h5m-5 7h5m-5-2h5m2-3h5m-4 2h5m-2-6h5m-4 5h5m-2-2h5m-5 2h5m0 6h5m-5-3h5m-4-4h5m7-4h5m-4 1h5m-3 2h5m-4 7h5m-2 1h5m-2-2h5m-4-5h5m-3-2h5m-3 7h5m-4-3h5m-4 0h5m-4-5h5m-3 4h5m-5 4h5m-4-6h5m-3-2h5m-4 1h5m0 5h5m0-3h5m-4 7h5m-5-2h5m-4-2h5m-5 0h5m-2-6h5m-3 3h5m-4 4h5m-4 3h5m-2-1h5m4-10h5m-4 9h5m-1-2h5m-1-4h5m-1 5h5m-5-4h5m-5-4h5m-4 2h5m-5 8h5m-3-7h5m0 0h5m-1 8h5m-2-6h5m-5-2h5m-5-1h5m-4-2h5m-5 8h5m9 0h5m-4-1h5m2-2h5m-1 1h5m-1-6h5m-4 7h5m-3-1h5m-2-5h5m-3 8h5m-1-3h5m5-6h5m-5 6h5m-3 3h5m-3 0h5m-4-9h5m5 2h5m-4 5h5m12 3h5m13 0h5m-1-10h5m55 0h5m3 5h5m22 0h5"/><path stroke="#1e1ed0" d="M2396 446h5m-33 6h5m4 10h5m-1-8h5m10 2h5m-5 4h5m-3 1h5m-50 10h5m3 8h5m0-7h5m-3 4h5m-5 1h5m-1-9h5m23-2h5m-5 10h5m-81 15h5m8-9h5m-1 13h5m2-11h5m-2 6h5m2 5h5m-4-6h5m-3-9h5m-3 13h5m-3-5h5m2-2h5m16-6h5m-4 7h5m-2-5h5m-90 29h5m-4-3h5m0-12h5m-1 5h5m-2 10h5m8-12h5m3 9h5m3-1h5m1-8h5m-1 11h5m-5-5h5m-72 19h5m2 2h5m1 0h5m6 0h5m-1-3h5m-4 1h5m-3-1h5m-4 4h5m-4-1h5m-4 1h5m6-10h5m-5 8h5m-4-3h5m-5-9h5m-1 8h5m-4-1h5m-4 1h5m-5-9h5m-1 3h5m-3 12h5m-5-15h5m-4 6h5m-2 6h5m-5-4h5m-3-3h5m-5 4h5m5-1h5m-97 13h5m8-5h5m2 1h5m-3 3h5m-5-2h5m-5 11h5m-2-13h5m-5 10h5m-1 5h5m-5-1h5m-2-11h5m4 3h5m0 6h5m-3-10h5m-4-2h5m-2 14h5m-4 0h5m-3-4h5m-5-4h5m-1 0h5m-3-1h5m-5 4h5m-4 2h5m0-5h5m-2 1h5m-5 3h5m-5-5h5m8 2h5m-1 7h5m-102 11h5m1-5h5m1 9h5m-4-9h5m-4 3h5m0 6h5m-5-7h5m-2 2h5m-1-7h5m-2 6h5m-2-3h5m0 1h5m-5 3h5m-4-7h5m-3 7h5m-4-2h5m-2-2h5m0 5h5m-1 0h5m-5 4h5m-2-2h5m-2-8h5m-5 2h5m2 2h5m-3 7h5m-3-7h5m-1 7h5m-5-1h5m-5-10h5m-4 3h5m-2 3h5m-109 12h5m10 8h5m-1 1h5m-1-8h5m-2 0h5m-3 7h5m-3-3h5m-3 4h5m-2-8h5m-2-3h5m-4-2h5m-1 13h5m-4-6h5m2-8h5m-2 15h5m-4-15h5m-5 13h5m1 2h5m-3-14h5m0 0h5m-2 13h5m-3-7h5m-5-6h5m2-1h5m-5 6h5m1-5h5m-3 11h5m-3-11h5m-3 13h5m-5-13h5m-2 0h5m-4 7h5m8-7h5m-4 10h5m-4 1h5m-121 16h5m-4-11h5m-3 8h5m6-1h5m-4-4h5m1 5h5m0 5h5m-4-12h5m-2 3h5m-1 7h5m-4-9h5m-4 0h5m-2 1h5m-2-1h5m-4-3h5m-5 0h5m-5 6h5m-2 2h5m-4 7h5m-4-10h5m-3 2h5m1-7h5m-3 13h5m-3-7h5m-4 7h5m-3-2h5m-3-11h5m0 15h5m0-11h5m-3 1h5m-2 7h5m3-3h5m-4-9h5m0 15h5m-127 11h5m18-5h5m2 9h5m-4-11h5m1-1h5m-4 6h5m-3 1h5m-1 0h5m0 2h5m-2-10h5m-4 0h5m-3 6h5m-4-5h5m2 4h5m-5 9h5m-1-13h5m-1 11h5m-2 0h5m-4-2h5m-3-9h5m-5 2h5m-3 11h5m-4-12h5m-5 0h5m-4 11h5m-5-14h5m-4 6h5m-1 4h5m-4-8h5m0 8h5m-4 3h5m-4-1h5m-2 0h5m-110 13h5m-2 6h5m15-10h5m0 2h5m0-7h5m0 9h5m2-8h5m-3 10h5m-4-7h5m0 6h5m-4-10h5m-3 1h5m-4 3h5m-5 11h5m-5-8h5m-3-1h5m0-6h5m-4 10h5m-4 0h5m-3-6h5m-5-3h5m1 1h5m-1-2h5m-4 10h5m-2-3h5m-5 8h5m-2-3h5m-2 3h5m-4-12h5m-4 8h5m0 1h5m-4-5h5m-4-5h5m-3 1h5m-125 22h5m-3 4h5m6-3h5m-1 4h5m-5-12h5m-4 8h5m-1 0h5m1-4h5m-4 6h5m-2-11h5m-3 14h5m-5-12h5m2 0h5m-1 4h5m-4-1h5m-3 5h5m-5-5h5m-3-3h5m-5 0h5m-2-3h5m-3 6h5m-4-5h5m-2 12h5m-3-3h5m-5-9h5m1 6h5m-1-7h5m-4 2h5m-5 12h5m-3-9h5m-3 0h5m0 3h5m-1-4h5m-4 6h5m-3 5h5m-1-14h5m-3 9h5m-2 2h5m-3-1h5m-2-7h5m-4-2h5m-4 5h5m-5-7h5m-5 14h5m-2-11h5m5 10h5m1-7h5m-136 25h5m-2-13h5m6 3h5m-1 6h5m4-8h5m-2 8h5m-4-2h5m-4-7h5m-4 3h5m-1 7h5m-4-2h5m-2 5h5m0-14h5m1 0h5m-5-1h5m-3 6h5m0 4h5m-3-5h5m-4 5h5m-4-5h5m-2-4h5m-4 11h5m-4 2h5m-3-7h5m1-7h5m-4 12h5m-3-3h5m-5-2h5m-3-2h5m-1-5h5m3 2h5m-3 8h5m-4 3h5m-2-13h5m-2 9h5m7 2h5m-1-3h5m-4-4h5m-163 22h5m2-2h5m19 5h5m-1-2h5m-4 0h5m-3 3h5m-2-6h5m-5 0h5m0 3h5m-2-2h5m-4-6h5m-2 12h5m-1-14h5m-4 11h5m-3 2h5m-3-8h5m-4 9h5m-2-11h5m-5 9h5m-3-3h5m6-8h5m0 4h5m0 8h5m-1-2h5m5-3h5m0 6h5m-5-14h5m-5 3h5m-3-3h5m-2-1h5m-3 14h5m-4-1h5m1-11h5m-2 5h5m-5-1h5m-2 3h5m-5-3h5m-5-1h5m1 8h5m-1-1h5m-5-7h5m0 6h5m-3-9h5m-3 6h5m-1 1h5m-5-4h5m-3 10h5m-152 6h5m-1 6h5m2 2h5m-4 0h5m-5 0h5m-4 0h5m-4-2h5m-2-11h5m-3 5h5m-3 6h5m-3-9h5m-1 2h5m-3 2h5m-4 3h5m-3 2h5m-4-6h5m-4-1h5m-1 7h5m-3-5h5m2-1h5m-3-2h5m-1-3h5m-3 10h5m-4-4h5m-3-6h5m-3 0h5m-4 7h5m-5 6h5m-5-12h5m-4 3h5m-5 3h5m7-2h5m-4-1h5m-3-3h5m-4 10h5m-3-4h5m-1-3h5m-4 7h5m-4-9h5m1 9h5m-4-4h5m-2 2h5m-1-6h5m-5 10h5m-4-13h5m-1 1h5m-5 10h5m-4 2h5m-5-12h5m-2 9h5m-4-9h5m-5 5h5m-4 0h5m0 8h5m-5-6h5m-4-5h5m-4 10h5m-1-3h5m-5-9h5m-3 2h5m-178 22h5m17 0h5m5 6h5m-1 0h5m-1 0h5m-3-9h5m-5 8h5m-5-9h5m-1 4h5m-3 4h5m4-2h5m-5 1h5m2-1h5m-4-2h5m-4-8h5m-4 9h5m-5-9h5m-5 9h5m-3 4h5m-4-8h5m-3-1h5m-4 0h5m-2 0h5m-2 5h5m-5-5h5m-3 5h5m-1-9h5m-4 9h5m-3-9h5m7 11h5m-2-3h5m-2-6h5m-4 9h5m1-8h5m3 6h5m-4-10h5m-5 11h5m-4-5h5m-4 8h5m2-8h5m-3 0h5m-4 6h5m-2-2h5m-2 2h5m-1-11h5m-3 0h5m-5 10h5m-4 4h5m-5-11h5m-3 9h5m2-11h5m-4 11h5m-2-2h5m-1-1h5m-4 3h5m-5-5h5m-5-3h5m-4 1h5m-5 7h5m-3-3h5m-3-9h5m0-1h5m-4 2h5m8-1h5m-189 22h5m-2-2h5m14 7h5m2-11h5m2 2h5m0-2h5m-5 7h5m-4 4h5m-5 0h5m0-12h5m0 11h5m-4-8h5m-3-2h5m-2 11h5m-5-4h5m-1 0h5m-3 5h5m-4-13h5m-2 0h5m-1 10h5m-3-8h5m-5 1h5m-3-3h5m6 12h5m7-10h5m6 8h5m-3-1h5m-1 6h5m-4-15h5m11 6h5m-3 4h5m-5 5h5m-3-2h5m2-2h5m-5-7h5m-4 1h5m-1-4h5m-3 4h5m-1-5h5m-2 0h5m4 0h5m-1 0h5m-193 18h5m-1 1h5m-3 8h5m-3-10h5m1 9h5m-2-1h5m-4 3h5m-1-6h5m-5-1h5m-4 4h5m-5 5h5m2-1h5m-1-1h5m-5-1h5m-4-5h5m-4-6h5m2 12h5m-3-3h5m-5-3h5m-1 8h5m-5-7h5m1 4h5m-4 0h5m-5-6h5m-3-5h5m1 4h5m3 8h5m-4-4h5m1-7h5m3 5h5m5 7h5m1-3h5m5-9h5m-1 14h5m-1-9h5m-4-4h5m-4 1h5m-2 11h5m-5-10h5m1 0h5m-4 7h5m-5 4h5m2-4h5m-3-1h5m-3-6h5m-5 9h5m1 0h5m-5 0h5m-1-8h5m-1 10h5m-3-3h5m0-12h5m-4 9h5m-5 1h5m-4-1h5m-3-7h5m-253 22h5m22-1h5m-4 4h5m12 2h5m1-6h5m3 5h5m-1-2h5m-4-7h5m2-3h5m-3 15h5m-4-11h5m13 9h5m-4 2h5m-3-12h5m-1 5h5m-3 5h5m-4-5h5m-5-7h5m0 2h5m-1 9h5m-1-2h5m-4-5h5m-1 2h5m-1-4h5m3 11h5m-3-2h5m-4-6h5m-4 4h5m0 0h5m-1 1h5m0-9h5m-2-1h5m-1 9h5m3 4h5m0-12h5m-5 12h5m0-5h5m2-1h5m-3 7h5m10-12h5m-3 9h5m-4 3h5m-4-8h5m-5 3h5m-4-3h5m-4 6h5m4-5h5m-4-1h5m-5 7h5m1-5h5m-4 4h5m-4-10h5m5 6h5m-1-6h5m-4-2h5m-4 1h5m3 10h5m-1 3h5m-4-7h5m-213 18h5m0-3h5m-2 2h5m3-3h5m-5 5h5m-4-8h5m-4-1h5m-4 10h5m11-11h5m2 5h5m-4 8h5m-3-2h5m0-4h5m-2 7h5m-3-13h5m-4 3h5m-3 9h5m-4 0h5m-2 1h5m-4-13h5m-1 9h5m-4 4h5m-5-1h5m-5-3h5m-4-4h5m-4-3h5m-2 4h5m-4 6h5m-4-2h5m-2-1h5m-2-11h5m-4 13h5m-5-10h5m-4 6h5m-3 6h5m-4-5h5m-5-9h5m-5 6h5m-4-3h5m-1 4h5m4-8h5m8 8h5m-4-5h5m-4 1h5m-2-3h5m-3 4h5m-5 5h5m4 2h5m-5-2h5m3-3h5m-5 2h5m-4 2h5m-2-1h5m-3-8h5m-3-2h5m3 12h5m-4-1h5m-3-5h5m-4-2h5m-5 4h5m-1 4h5m1 1h5m-4-10h5m-4 8h5m-4-10h5m-3 0h5m0 7h5m-3-1h5m-4 1h5m-2-1h5m-4 5h5m2-8h5m-229 21h5m19-3h5m7 3h5m-1-3h5m-1 6h5m-5-10h5m1 11h5m-2-6h5m-2-7h5m-4 5h5m-3-4h5m-4 9h5m-4 4h5m1-6h5m-4 3h5m7-7h5m-4 6h5m-1-7h5m-3 5h5m-5 1h5m-2-5h5m-1 3h5m2-5h5m-5-2h5m-3 7h5m-4-2h5m-4 2h5m-5 8h5m1-6h5m-2-8h5m-1 10h5m-2 3h5m-5-7h5m-1 7h5m2-12h5m5 3h5m-3 7h5m3 3h5m-5-7h5m-5 6h5m-5-3h5m-3 2h5m0-1h5m1-8h5m3-2h5m-1 0h5m-5 3h5m-4 4h5m-5-6h5m-2 1h5m-4 11h5m-1-5h5m3-2h5m-5 3h5m-4 3h5m-3-12h5m-3 13h5m-1-11h5m-3 0h5m-4-4h5m-5 7h5m0-3h5m0 10h5m-4-2h5m2-9h5m0 4h5m-296 21h5m21 1h5m31-7h5m15-3h5m-2 5h5m-4-7h5m-4 4h5m5 1h5m1-3h5m-3 11h5m14-10h5m1 4h5m0-1h5m0 3h5m-5-8h5m0 1h5m-3 12h5m-2-11h5m1 2h5m-5 5h5m-4-5h5m1-1h5m-3 3h5m-5-6h5m-3 2h5m2 10h5m-4-1h5m-5-10h5m-2-3h5m-5 11h5m2 4h5m-2 0h5m-4-9h5m-2-2h5m-5-1h5m-4 1h5m0 9h5m-4-4h5m-4 0h5m0 0h5m-4 3h5m-3-2h5m-5-8h5m-4 7h5m-4-6h5m-2 2h5m-2-1h5m-3 7h5m-4-3h5m-4-6h5m-1 12h5m1-11h5m-5 5h5m-2 2h5m-3-5h5m-3 6h5m-1-1h5m-2-1h5m-3-8h5m-4 6h5m11 1h5m1 4h5m-1-2h5m-5-2h5m-3-1h5m-283 9h5m7 13h5m4-7h5m4 9h5m3-11h5m16 0h5m5 11h5m-4-7h5m-4-4h5m-3 10h5m0-9h5m-1 0h5m-5-5h5m0 8h5m0 3h5m-5 2h5m-5-2h5m1 4h5m0-5h5m-2-3h5m-5 7h5m-4-6h5m-5-8h5m-4 8h5m-4-2h5m-3 4h5m-5-9h5m7-1h5m-5 10h5m0-6h5m3 5h5m-4-4h5m-5 2h5m-4-4h5m-5 9h5m-4-3h5m-1-7h5m-5 7h5m-5 0h5m1-8h5m-1 11h5m2-8h5m-1 7h5m-4-6h5m-2 4h5m-4 3h5m-3 3h5m-3-9h5m-3 1h5m-4-3h5m-5 8h5m-3 0h5m-3-3h5m-2 3h5m-5-9h5m0 5h5m-4 5h5m-5-6h5m-3 5h5m-3 3h5m-4-8h5m-4-5h5m-5 2h5m-4 3h5m-2 8h5m-3-2h5m-5-10h5m-2 1h5m2-2h5m-4 6h5m-3 4h5m-4 3h5m-5-5h5m-3-4h5m5-6h5m-2 1h5m6 3h5m-1 11h5m-4-10h5m-3 6h5m-5-1h5m-3 3h5m-2-5h5m2-5h5m-279 28h5m11-10h5m-5-1h5m-4 7h5m2 3h5m-3-9h5m-4-2h5m-1 11h5m-2-11h5m14-1h5m-5 13h5m3-5h5m-4-10h5m-1 10h5m-4-8h5m-4 2h5m5-1h5m1 5h5m10-1h5m-3 7h5m-4-2h5m-1-12h5m-1 12h5m-3 1h5m3-7h5m-2 7h5m3-4h5m-3-5h5m-5 8h5m-5-2h5m-1 4h5m-4-1h5m4-5h5m-3-1h5m-2 6h5m-4 2h5m-3 0h5m-3-15h5m-1 11h5m-1-9h5m-4 8h5m2-2h5m-4 0h5m-5 1h5m-4 4h5m-4-13h5m-5 15h5m-3-4h5m-3 3h5m-4 1h5m-4-4h5m-2-8h5m-1 4h5m-3 6h5m-4-6h5m-3-2h5m-3 1h5m-5-4h5m-4 6h5m-3 2h5m-4 4h5m-5-1h5m-4 2h5m-3 0h5m1-14h5m-3-1h5m0 10h5m-3-9h5m1 13h5m-2-3h5m5 0h5m-5 3h5m-3-5h5m-4-9h5m-4 2h5m-2 4h5m5 8h5m-4-1h5m8 0h5m-1-10h5m-323 21h5m39-3h5m1-4h5m11 12h5m11-7h5m-4 6h5m-3-2h5m-4-7h5m-4 0h5m-3 5h5m0-6h5m3 13h5m-4-10h5m1 10h5m-5-5h5m-1 4h5m-4-14h5m-2 4h5m-5 5h5m-2-1h5m4-4h5m-3 3h5m-4 8h5m-4 0h5m-5-13h5m6 2h5m-3 11h5m-2-14h5m-2-1h5m-3 7h5m-2-3h5m-5 4h5m3 5h5m4-9h5m-4 2h5m-4 4h5m-4-6h5m-5 6h5m-2-9h5m5 7h5m-3 3h5m-4-2h5m9-7h5m1 0h5m-3-2h5m-4 3h5m-4 12h5m-1-6h5m-4-5h5m-4 7h5m2-8h5m-1 7h5m-3-8h5m-4 10h5m-3-7h5m-4 1h5m-3 1h5m0 8h5m-4-13h5m-3-2h5m-5 2h5m7 10h5m-4-8h5m-5 2h5m-3-3h5m2 12h5m-2-12h5m-4-3h5m-1 0h5m-5 15h5m-5-4h5m-2-4h5m-3-6h5m-1 4h5m7 2h5m2 6h5m-295 15h5m35-10h5m-3-2h5m0 4h5m12 0h5m-4 9h5m-1-5h5m-1 6h5m-4-13h5m-5 7h5m-1 7h5m0-1h5m0-9h5m-5 3h5m-2-7h5m-4 0h5m-4 3h5m-4-3h5m-5 3h5m-5 6h5m4-5h5m-4-1h5m-2 5h5m0 1h5m-3-10h5m-3 10h5m-2-2h5m-3-6h5m-1 12h5m-5-4h5m-2-5h5m-2 3h5m-4-2h5m-3 6h5m-5 1h5m-4-13h5m-3 5h5m-4-2h5m-2 6h5m-4-5h5m-3 6h5m-4 1h5m-1-7h5m11 6h5m2-9h5m-4 11h5m-3-7h5m-5-1h5m-4 2h5m-5 2h5m-2-8h5m-4 14h5m-2-5h5m-1-9h5m0 3h5m-2 9h5m-3-8h5m-4 6h5m-4 4h5m-2-7h5m-4 7h5m0-9h5m-2-4h5m-5 5h5m-4-5h5m2 10h5m-3-7h5m3 2h5m-2 9h5m-2-13h5m-2 0h5m-3 9h5m-5 3h5m-3-4h5m-4-3h5m2 6h5m-2-4h5m-3-5h5m-4 0h5m-2-4h5m-5 1h5m-4 10h5m1-5h5m-5 4h5m3 1h5m-1 2h5m-3-5h5m-336 14h5m20 9h5m10-13h5m9 9h5m13-8h5m3 0h5m1-2h5m-1 3h5m-5 5h5m-2-4h5m3 7h5m-5-1h5m-3-2h5m-4-5h5m-4 0h5m0-4h5m0 11h5m5-5h5m-5 2h5m1 0h5m-4 0h5m-2-1h5m-4 8h5m2-14h5m-1 2h5m-5 10h5m-4 0h5m-2-7h5m-2-6h5m1 9h5m-5-4h5m-4 1h5m-5 8h5m-5-7h5m-4 5h5m-4-7h5m-4-2h5m-2 11h5m-4-14h5m-3 4h5m-5-4h5m-3 11h5m-2-9h5m-5 7h5m-3-4h5m-4 9h5m-5-1h5m3 0h5m0-1h5m-4-12h5m-2 3h5m-4 7h5m1-1h5m-3 0h5m-4-8h5m3 6h5m-5 2h5m-4 4h5m-3 2h5m-1-2h5m-4-9h5m-5 1h5m-2 2h5m-4-3h5m-2-4h5m2 5h5m-2-3h5m4 5h5m1 4h5m-5-8h5m-5 4h5m-2 0h5m-5-2h5m-3 0h5m7 5h5m5-3h5m-4 0h5m3 0h5m-5-7h5m-2 0h5m4 10h5m-1-2h5m3-4h5m1 1h5m-287 20h5m8 1h5m2 4h5m5-11h5m6-1h5m1 13h5m0-6h5m4 5h5m-3 1h5m-4-4h5m0-4h5m-2 6h5m2-10h5m-5 8h5m0 0h5m-3-11h5m-4 6h5m-3-1h5m-4 8h5m-1-6h5m-3-1h5m-3 7h5m-5 0h5m-1-4h5m-4 5h5m-3-2h5m-3-9h5m-3 6h5m-3-9h5m-5 7h5m-1-5h5m-4 5h5m-4 3h5m0-7h5m-3 3h5m3 9h5m0-3h5m-2-1h5m-2 4h5m-5-11h5m1-4h5m-2 6h5m-2 4h5m-3-10h5m-4 0h5m-3 8h5m-3 5h5m-5-5h5m-5 7h5m15-4h5m3 4h5m-2 0h5m-4-11h5m4 3h5m-5-3h5m2 4h5m-3 0h5m-4 5h5m9-7h5m-4 9h5m3-11h5m-5-3h5m0-1h5m5 9h5m-2 1h5m-3 5h5m-1-5h5m0 1h5m-4-1h5m4-10h5m19 8h5m-306 11h5m-4-1h5m1 12h5m-2-8h5m5-6h5m-3 3h5m-1 3h5m12-1h5m-4 2h5m-5 5h5m-2-7h5m-4 9h5m-2 1h5m-4-1h5m-4 1h5m7-10h5m-3 7h5m-5-11h5m-4 4h5m8 5h5m1-8h5m0 4h5m-4-6h5m-4 12h5m-5 1h5m-4 1h5m0-3h5m-3-7h5m-5-1h5m-3-2h5m-3 8h5m3-9h5m2 3h5m-5 0h5m-4 12h5m-2-3h5m-5-9h5m-4 5h5m-4 4h5m-4-12h5m-3 15h5m-5-8h5m-4-6h5m-4 0h5m-4 13h5m-4-11h5m-4 12h5m-3-5h5m-5-2h5m-3-3h5m-3 7h5m-3-6h5m-4 0h5m-1 5h5m-1-5h5m0 9h5m-5-1h5m-4-8h5m-5 2h5m-1 6h5m-2-10h5m-4 8h5m-3-11h5m3 13h5m-5-3h5m-5-1h5m0-8h5m-2 4h5m-2 0h5m-4-2h5m-3-3h5m-2 2h5m-4-2h5m3 10h5m-4-3h5m-2 7h5m-4-12h5m0 9h5m4-11h5m-3 1h5m3 5h5m-2-3h5m2 10h5m9-5h5m-2 3h5m-5-8h5m17-1h5m-319 27h5m5-14h5m6 15h5m-3-2h5m1-2h5m-5-10h5m-2 13h5m-4-11h5m10 12h5m-1-5h5m-4-7h5m1 2h5m-2 2h5m-4 7h5m-4 0h5m-2-6h5m-4 7h5m-3 0h5m14-8h5m-4-6h5m-3 11h5m-5-7h5m-1-5h5m-1 4h5m-4 11h5m-5-6h5m4-9h5m-1 9h5m-1-5h5m-4 11h5m4-14h5m-5 6h5m-2-2h5m-5 9h5m-4-9h5m-2 5h5m-2-8h5m-4 1h5m-4 12h5m-2-3h5m-4-2h5m-4-8h5m-4 3h5m-5-4h5m-1 14h5m-2-13h5m-5 5h5m-4-1h5m-3 5h5m-1-2h5m-5 3h5m-4-6h5m-4-1h5m-5 3h5m-1 2h5m-5-6h5m-4 6h5m-4-1h5m-5 1h5m-3 3h5m-4-4h5m-4 2h5m-4-10h5m-4 0h5m-3 0h5m-1 1h5m-4 6h5m-4 2h5m-5 5h5m-3-13h5m-3-2h5m-3 12h5m-5-5h5m-2 4h5m-1-9h5m4 3h5m-4 8h5m-4-11h5m-3 12h5m-1-10h5m-4 2h5m-5-4h5m-4 9h5m-4 1h5m4-4h5m-4 5h5m-3-8h5m-5 2h5m-1 0h5m-1 7h5m-4-9h5m-2 10h5m1-5h5m-5-4h5m0-5h5m1 10h5m-3-9h5m-4 10h5m-1-1h5m5-1h5m-4 1h5m1-6h5m-2 1h5m-5-1h5m5 7h5m-4-8h5m24 6h5m-347 16h5m31 4h5m6-6h5m-3-2h5m0 2h5m-3-1h5m-3-2h5m-1 5h5m0 4h5m2 0h5m1 1h5m10-13h5m-1 12h5m-3-7h5m-2-2h5m-3-2h5m-2 1h5m-3 3h5m-4-1h5m-5 5h5m-5-10h5m-4-1h5m-3 0h5m-2 4h5m-4 10h5m-5-14h5m-5 8h5m-5 5h5m-5 2h5m-4 0h5m1-1h5m-5-8h5m-2-1h5m-1 2h5m-5 7h5m-5-2h5m3-2h5m-3-6h5m-5 11h5m-4-5h5m-3-4h5m-3-4h5m-1 8h5m-3 2h5m-5-11h5m-3 3h5m-1 0h5m-4 5h5m-4-5h5m-3 9h5m-4-1h5m-5-12h5m3 13h5m-5-2h5m-3-11h5m-4 5h5m-5 4h5m-3 5h5m-4-6h5m-5 7h5m-5-12h5m-5-2h5m-2 3h5m1 3h5m-5-1h5m-3 1h5m-1 2h5m-2-3h5m3 5h5m-4-5h5m1 0h5m-5-4h5m3 0h5m-3 8h5m-3 3h5m-2 1h5m-2-1h5m-1-6h5m-5 5h5m5 3h5m-3-9h5m-5-3h5m-2-2h5m-5 2h5m-2 11h5m-4 1h5m8 0h5m-3-14h5m-5 14h5m1-7h5m-1 2h5m-5-7h5m6 8h5m-1 1h5m-3-8h5m-2 9h5m1-7h5m2-2h5m12-3h5m-359 22h5m38 0h5m10-4h5m3 2h5m1-4h5m-1 10h5m-1-2h5m2 6h5m2-5h5m1-5h5m1-4h5m-4 3h5m-5 7h5m4-1h5m-4 1h5m-5-1h5m-1 1h5m0-9h5m-2 2h5m-4 2h5m-5 6h5m0-6h5m3 0h5m-5-4h5m-3 8h5m-3 4h5m-5-14h5m-1 3h5m-4 4h5m-4-5h5m-3 9h5m-5-2h5m-4 3h5m-4-5h5m-1 5h5m-3 2h5m-5-1h5m3-2h5m-2 4h5m-5-10h5m-2 10h5m2-3h5m-1-8h5m-4 10h5m-3 0h5m-5-2h5m-2-1h5m-4 3h5m-4-8h5m-5 2h5m-2 2h5m2-3h5m-3 6h5m2-3h5m-5-6h5m-3 9h5m4-13h5m-4 10h5m-5-1h5m-2 6h5m-5-13h5m-2 3h5m-3 5h5m-4 5h5m-5-10h5m-3 10h5m-4-8h5m-2 5h5m-2-7h5m-2 8h5m3-10h5m-4 10h5m7-10h5m-4 2h5m-4-2h5m-4 0h5m-3 0h5m-4 1h5m-5-4h5m-3 0h5m-3 1h5m1 5h5m-4-4h5m-5 5h5m-4-7h5m-5 12h5m-4-7h5m-5 2h5m-5-2h5m-4 2h5m-3-3h5m-2 3h5m-290 10h5m19 14h5m10-9h5m13 1h5m10-3h5m2 7h5m-2 2h5m7-1h5m-1-12h5m1 8h5m-2-3h5m-2 6h5m-2-9h5m-5 3h5m-4 8h5m-4 0h5m-3-3h5m-1-3h5m-5-7h5m-5 15h5m-5-3h5m1 3h5m2-3h5m0 3h5m2-6h5m-3-1h5m-4 5h5m-3-4h5m0 5h5m-4-12h5m-5 2h5m-5 8h5m-3-5h5m-4 4h5m-2 3h5m0-4h5m-5 3h5m-5-9h5m-2-4h5m-4 13h5m-5-8h5m-3 9h5m-4-2h5m-5-11h5m-2 12h5m-1-8h5m-3-2h5m-4 7h5m-5 2h5m-5-11h5m-4 14h5m-4-6h5m-5-8h5m-4-1h5m-3 7h5m-1 1h5m-4-8h5m-3 6h5m-4 7h5m-5-7h5m-2-5h5m1 8h5m-5 3h5m-5-4h5m-4 6h5m-2-3h5m-5-7h5m10-2h5m-3 10h5m-4-12h5m-4 0h5m-5 13h5m-4 0h5m1-2h5m-3-6h5m-4-2h5m-2 10h5m-4-1h5m1-7h5m-2 2h5m-3 8h5m-1-1h5m-4-2h5m-3-1h5m-2-6h5m-5 0h5m-3 5h5m-4 1h5m-5 2h5m-2-3h5m-1 4h5m-5 1h5m-4 0h5m4-2h5m-5-5h5m-4-7h5m-3 13h5m-5-2h5m-4-9h5m2 11h5m1-8h5m-2-5h5m-5 11h5m-302 5h5m6 12h5m-3-13h5m2 14h5m-2-6h5m2-7h5m-5-1h5m-2 8h5m12-3h5m-1 0h5m8 6h5m1-2h5m-4-8h5m7 7h5m-3-8h5m-5 14h5m-2-14h5m-3 12h5m-3-8h5m-2 4h5m-4-8h5m-4 8h5m-4-7h5m-4 14h5m-1-11h5m-5 0h5m-5 11h5m-2-14h5m-1 1h5m-1-2h5m0 4h5m-5 11h5m-2-12h5m-2 3h5m-1 4h5m-4-9h5m-4 7h5m5-5h5m-4 3h5m1-5h5m-2 12h5m-4-7h5m-3 3h5m-4-9h5m-2 10h5m-4-3h5m-4-4h5m-4 8h5m-2-9h5m2 5h5m-4-3h5m-4-1h5m-3 7h5m-1-7h5m-4 0h5m-4 3h5m-2-4h5m1 10h5m-2-7h5m-4 8h5m-3-11h5m-4 1h5m-4 1h5m-1-4h5m-4 14h5m-1-7h5m-3 5h5m-2-7h5m-3-1h5m-3-4h5m-3 3h5m-1 6h5m0-6h5m-3 11h5m0-9h5m2 1h5m-3 3h5m-2-3h5m-3 6h5m-2-6h5m3 3h5m-4 5h5m-3-9h5m-3 4h5m-5 6h5m6-13h5m5 7h5m-275 11h5m3 11h5m14-4h5m-4-7h5m6 7h5m-4 3h5m-1-11h5m0 8h5m-2-11h5m-3 6h5m-5-4h5m-4 4h5m1-4h5m-2 12h5m-4-6h5m-5 1h5m-4-9h5m-5 13h5m-2-4h5m-3 3h5m-4-1h5m-5-2h5m-3-6h5m-5 8h5m-1-10h5m3 7h5m8-6h5m-4 3h5m-4 3h5m-2-8h5m-4 12h5m-5-10h5m-2 11h5m7 2h5m-5-11h5m-4 8h5m-4-11h5m-3 1h5m0-1h5m-4 2h5m-5 12h5m-4-9h5m-3 2h5m-5-8h5m-4 13h5m-5-1h5m-5-4h5m0-2h5m-5-4h5m-4-1h5m0 3h5m-4-3h5m0 8h5m-4-6h5m-4 5h5m-5-2h5m-4 6h5m-4-11h5m-4 9h5m-5-8h5m-4 9h5m-4-4h5m-4 7h5m-3-8h5m-5 7h5m-4-11h5m-5 3h5m-4 0h5m-3-1h5m-3 6h5m3-10h5m-1 1h5m-1 5h5m-5 1h5m-4 7h5m-2-5h5m-4 0h5m2-1h5m-5 6h5m-4 0h5m-1-10h5m-2 7h5m-3-2h5m-4 6h5m-4-11h5m3-1h5m-3 4h5m2 4h5m18-11h5m-4 11h5m14 3h5m-242 8h5m0-5h5m4 1h5m5-1h5m-4 14h5m-5-14h5m1-1h5m-3 8h5m0-8h5m5 9h5m-3-2h5m2-2h5m-5 4h5m4 0h5m-3 0h5m-4 2h5m-5-1h5m-4 4h5m-5-2h5m-5-4h5m-4 5h5m7-13h5m-5 7h5m2 7h5m1 1h5m1-7h5m-4-6h5m-3 7h5m2-3h5m-5-5h5m-4 5h5m-1 0h5m-2-3h5m-5 10h5m-2-9h5m4-3h5m-2 5h5m-4-3h5m-4 8h5m-2-9h5m-5 11h5m-2-6h5m-2 8h5m-2-11h5m-2 8h5m-3 0h5m-2-5h5m-5 8h5m-5 0h5m-4-3h5m-4-4h5m-4-7h5m-4 9h5m-2-2h5m3 2h5m-5-8h5m0 2h5m-3-2h5m-2 0h5m6 11h5m7-2h5m10-8h5m-4 7h5m-2 1h5m-246 12h5m17 7h5m-3-9h5m11 7h5m-2-3h5m-4-6h5m1 10h5m-3 0h5m-2-6h5m6-7h5m-1 15h5m-5-12h5m-1-2h5m1 5h5m-4 3h5m2-9h5m0 9h5m-3 5h5m0-8h5m4-6h5m-2 12h5m-3 1h5m3-5h5m-3 0h5m9-8h5m-4 13h5m-1 2h5m-2-13h5m-3 12h5m0 0h5m-4-13h5m-2 7h5m1-3h5m-5-4h5m-4-1h5m-4 6h5m-3-3h5m-4 3h5m0 0h5m6-1h5m0 3h5m0 2h5m0 0h5m4-2h5m43 3h5m-283 15h5m32-7h5m7 2h5m-2-4h5m-3 3h5m4-4h5m-1 10h5m-2-7h5m-4 7h5m3-10h5m-3 2h5m-3 12h5m1-14h5m-4 0h5m4 9h5m-2 5h5m-4-4h5m4-5h5m3 9h5m-5-11h5m-2 0h5m-4 10h5m-5-8h5m-5-2h5m-5 10h5m-3-3h5m-2-3h5m0-4h5m-2 0h5m-4 1h5m0 5h5m-1-2h5m-4 2h5m-4-2h5m-5 8h5m4-1h5m-5-13h5m-4 11h5m1 0h5m6-4h5m-4 7h5m-5-7h5m-4 5h5m-4-3h5m-4-6h5m-5-3h5m-5 5h5m-1 9h5m-3-6h5m0 4h5m-1-4h5m-4-3h5m2-1h5m1 2h5m5 3h5m0 4h5m-3-5h5m13 1h5m-198 6h5m18 11h5m2 4h5m-2-7h5m-4-4h5m-3 10h5m1-10h5m1 3h5m-4 3h5m1-7h5m-3 12h5m-4-12h5m-3 2h5m2-3h5m-3 10h5m-2-12h5m4 14h5m-5-11h5m2 0h5m7-3h5m-5 2h5m-1-1h5m1 11h5m-3-3h5m-3 5h5m4 1h5m-5-4h5m-2-1h5m-4-3h5m-3-2h5m-1 2h5m-4 4h5m9-9h5m0 0h5m4 10h5m-1-1h5m-1 1h5m17-12h5m-172 16h5m2 9h5m2 1h5m-1-1h5m5-9h5m-1 10h5m3-4h5m3-5h5m-1-1h5m-5 7h5m-1-7h5m3 4h5m-3 0h5m11 6h5m-3-6h5m8 6h5m3-4h5m-1-4h5m10 1h5m3 9h5m-1-7h5m-2-5h5"/><path stroke="#2080c8" d="M2366 492h5m-30 7h5m11 2h5m-37 24h5m18 0h5m-4-11h5m-67 22h5m1 6h5m4-8h5m-3 4h5m6-5h5m16-5h5m16 10h5m-74 19h5m-3-1h5m3 3h5m-2-12h5m-5 2h5m2 10h5m17-15h5m-59 16h5m10 11h5m20 1h5m-59 10h5m1 4h5m-1-8h5m-5 6h5m-3 3h5m15-5h5m10-2h5m3 1h5m-86 17h5m14-4h5m1 4h5m-2 6h5m-1-7h5m-2 9h5m-3-9h5m6 10h5m1-10h5m-4-5h5m10 1h5m-73 20h5m3-4h5m-3 13h5m0-4h5m-5 2h5m-4 0h5m-2 3h5m-5-8h5m14-4h5m-2 6h5m2-6h5m-3 7h5m9-8h5m-100 29h5m12-8h5m8-5h5m-5 11h5m9-7h5m-2 6h5m7 3h5m0-6h5m3 2h5m-101 18h5m18-1h5m-1 3h5m0-7h5m-4 6h5m-5 1h5m2-6h5m4 6h5m-4-7h5m2-2h5m0 2h5m-5 3h5m2 0h5m-3 0h5m9 3h5m6-2h5m2-11h5m-126 21h5m15 5h5m-3-1h5m-4-5h5m2 9h5m3-10h5m0 4h5m-2 5h5m-4-1h5m-2-6h5m2 8h5m-3-6h5m1 0h5m-2 2h5m-4-8h5m-4-1h5m-3 0h5m-2 1h5m-4 5h5m-3 1h5m-2-4h5m-4 4h5m-3 4h5m2-10h5m-1 3h5m-3 8h5m17-10h5m-130 24h5m-4-3h5m3-4h5m-4 6h5m0-1h5m-5-1h5m3-2h5m-5-3h5m-2 6h5m-5-2h5m-4 8h5m-4-3h5m-4-1h5m3 1h5m0 0h5m-1-1h5m-4 4h5m13-15h5m-5 14h5m-2-5h5m4 3h5m5-8h5m-5 3h5m3-6h5m-4 7h5m4-1h5m-1 0h5m-159 22h5m44-4h5m-2-5h5m-4 6h5m-3 0h5m0 0h5m3 3h5m1 0h5m4-13h5m1 9h5m-4-6h5m-2 3h5m-4 2h5m13 0h5m-2 1h5m-2-4h5m-4 6h5m-5-10h5m-4 7h5m-4 4h5m1-11h5m-5 14h5m0-4h5m1-7h5m-152 26h5m5 0h5m-2-8h5m-3 8h5m-5-12h5m6 5h5m2-7h5m-2 8h5m-1-5h5m-3 0h5m-1 10h5m2 1h5m15 0h5m3-12h5m17 10h5m-3 0h5m-4-9h5m-4-1h5m3 3h5m-1 1h5m-3-4h5m0 1h5m0 1h5m-2 3h5m-2-1h5m3 4h5m-153 8h5m-3 12h5m14-12h5m-4 10h5m-2-4h5m0-2h5m-4-2h5m-2-4h5m-1 4h5m-2 1h5m-2 6h5m-5-5h5m-3 4h5m1 5h5m-4-9h5m-4 3h5m-4 1h5m0-5h5m-2-3h5m8 11h5m10-11h5m-2-1h5m10-1h5m0 4h5m-4-2h5m-2 4h5m-4-4h5m-1 0h5m0 9h5m-5-9h5m-4 3h5m1 2h5m-2 7h5m13-14h5m-162 27h5m13-5h5m11-6h5m-5 14h5m-3-14h5m-1 5h5m-5-1h5m-4 6h5m-4 4h5m-4-11h5m-3-1h5m-5 0h5m-2-2h5m-5 1h5m-4 12h5m0-13h5m-2 7h5m-3-2h5m-2-3h5m-3 11h5m-5-2h5m-3-6h5m0 0h5m-5 3h5m2-4h5m4 9h5m-3-8h5m0 1h5m-4 5h5m-4-1h5m5-3h5m-4-7h5m-4 13h5m-2-8h5m-4 4h5m-5-8h5m-4 3h5m-3 6h5m-1 3h5m-5-8h5m-5-4h5m2 1h5m-5-1h5m5 6h5m6-7h5m-198 24h5m17 1h5m9 6h5m-2-2h5m21-8h5m-1 1h5m-2-1h5m3-4h5m0 0h5m-4 3h5m1 8h5m-4-5h5m-5 0h5m-4 7h5m-5-5h5m-4-2h5m-1 3h5m1 1h5m-4-11h5m-3 11h5m-5 0h5m-2-4h5m-5-2h5m-4 4h5m-5 1h5m-4-4h5m-2 4h5m-2 1h5m7 3h5m-4-12h5m1 1h5m-5 11h5m-4-12h5m9 6h5m3 6h5m-2-10h5m-5-4h5m2 5h5m-4-2h5m-1 3h5m13-4h5m-184 19h5m5-1h5m-2 6h5m-3 5h5m-5-12h5m-2-3h5m1 9h5m5 2h5m2-6h5m15 10h5m-4-10h5m-3 10h5m4-12h5m-5 5h5m6 7h5m-2-4h5m2 0h5m-2-11h5m-2 2h5m-5 13h5m-4-14h5m-4 3h5m-4-3h5m17 3h5m-4 1h5m-4-2h5m-5 3h5m2-6h5m-3 0h5m3 7h5m10-5h5m-184 18h5m-2 10h5m14 0h5m11-9h5m1-5h5m-4 2h5m0 1h5m0 7h5m-3-6h5m-2 11h5m-2-15h5m-3 8h5m7-7h5m-2 13h5m-5-6h5m-4 6h5m-4-1h5m-4-4h5m-1 4h5m-4 2h5m-5-11h5m-4-2h5m-4 9h5m-2-10h5m5-1h5m-2 1h5m-3 13h5m-5-11h5m-3 3h5m1-5h5m-1 7h5m-4-7h5m-3 11h5m-4 0h5m2-8h5m-5 1h5m1-3h5m-156 20h5m24 4h5m6-1h5m-5 6h5m19-12h5m6 9h5m-5-10h5m-4 6h5m-2-5h5m-1 3h5m-3-5h5m-4 14h5m-4-8h5m-5 3h5m1 5h5m10-13h5m2 1h5m-4 7h5m0-4h5m5-2h5m-3 0h5m7 7h5m1 0h5m0 0h5m-217 14h5m26-3h5m-4 3h5m15 1h5m11-4h5m11 5h5m-3-8h5m-4 3h5m-4 0h5m-4 7h5m-4-11h5m0 8h5m3 1h5m30-1h5m11-10h5m3 9h5m-3-1h5m7-8h5m1 10h5m-182 17h5m2-2h5m27 2h5m9 4h5m19-1h5m-1-5h5m14-3h5m-2-1h5m-3 2h5m-4 2h5m5 2h5m7-6h5m15-3h5m-4-2h5m-191 23h5m13 1h5m-3 0h5m31-6h5m-1 6h5m-5-7h5m39 1h5m13 0h5m41 13h5m7-5h5m2-7h5m-4 7h5m-1-8h5m-192 28h5m-2-11h5m-3 5h5m24 1h5m-2-6h5m-1 2h5m1 3h5m-1-7h5m0 7h5m-4 5h5m7-7h5m-1 3h5m5-9h5m-1 15h5m0-13h5m-2 7h5m-105 9h5m19 6h5m-3 3h5m-2 0h5m4 2h5m-4-7h5m-3 0h5m4 5h5m-2 4h5m-4-12h5m-5 10h5m-3-1h5m-3-11h5m-5 7h5m32 2h5m-1-4h5m-1-1h5m33-1h5m0 1h5m-3 5h5m-3-2h5m25 3h5m1 3h5m-213 11h5m25-3h5m1 9h5m2-6h5m-5 5h5m14-2h5m-2-2h5m13 1h5m-5-2h5m14-4h5m-1-3h5m2 2h5m10 7h5m50-10h5m32 7h5m14 0h5m-260 22h5m9-13h5m26 9h5m-3-2h5m-2 6h5m0-10h5m7-2h5m2 10h5m-4-10h5m-4 10h5m-1-9h5m6 0h5m-3 12h5m-2-8h5m6 0h5m-1 1h5m-4 3h5m5-4h5m45-4h5m-197 16h5m23 4h5m10-2h5m-3 8h5m2 1h5m-1-1h5m-1-10h5m-2 9h5m13-6h5m8 3h5m3-9h5m-1 9h5m8-2h5m-2 5h5m0-6h5m2-2h5m-5 3h5m6-6h5m-1 3h5m18 3h5m7-1h5m-1 6h5m2-7h5m-3-2h5m-4 3h5m-223 25h5m28-6h5m15-2h5m-3 7h5m-3-1h5m-2-5h5m1-4h5m-5 5h5m5 4h5m-3-5h5m5-8h5m10 9h5m2 0h5m-1-3h5m11 1h5m-4 3h5m-1-4h5m-1-2h5m0-3h5m2 5h5m-3-6h5m-4 4h5m4 1h5m16 2h5m34 6h5m4-8h5m-173 23h5m-2 3h5m29-15h5m-2 9h5m2-4h5m2-2h5m5 6h5m7 2h5m-1 2h5m0 0h5m-4-13h5m2 1h5m1 6h5m0-1h5m29-1h5m-199 11h5m31 14h5m1-14h5m41 2h5m-1 0h5m0 0h5m3-2h5m5 11h5m2 2h5m1-12h5m-1 10h5m34-8h5m3 5h5m7 7h5m-170 16h5m-3-3h5m16-6h5m32 0h5m-2-5h5m3 13h5m11-1h5m1-10h5m-4 6h5m1-1h5m2-1h5m0-3h5m-120 22h5m9 3h5m14-13h5m41 6h5m1 5h5m-3-11h5m-2 11h5m1-10h5m-4 3h5m17 5h5m-2-6h5m32 3h5m4 8h5m-223 10h5m95-2h5m-5 9h5m33-1h5m0-13h5m5-1h5m-142 18h5m112-2h5m17 0h5m-2 15h5m-72 4h5m13-1h5m-2 13h5m28-7h5m7-2h5m15 6h5m1-4h5m-137 10h5"/><path stroke="#20b8b0" d="M2308 523h5m-2 19h5m13-7h5m-30 19h5m6-4h5m-34 20h5m-4-2h5m4-6h5m-25 28h5m8-11h5m-5 8h5m8 0h5m16-8h5m-85 27h5m0 0h5m7-3h5m-5-7h5m-4 3h5m-1-7h5m-4 1h5m-4 6h5m-4 3h5m0-8h5m-5 11h5m-4 2h5m-4-6h5m-4-8h5m3 7h5m-49 18h5m-2-1h5m4 3h5m-3-10h5m2 5h5m-4-6h5m-1 2h5m-4 3h5m-3-2h5m-26 24h5m23-8h5m-74 23h5m-2 2h5m-4-12h5m0 12h5m1-5h5m0-7h5m-5 8h5m0 2h5m-1 2h5m4-2h5m6-5h5m8 7h5m-95 18h5m-3-10h5m-4 1h5m6 7h5m19-10h5m-5 0h5m2 2h5m-4-3h5m-1-2h5m-4 12h5m-5-10h5m8 7h5m10-4h5m-100 20h5m-1 6h5m-2-11h5m-4-2h5m-5 7h5m1-1h5m-3-2h5m3-5h5m0 6h5m-3 6h5m-4-10h5m-5 3h5m-5 9h5m1-2h5m-5-1h5m15-10h5m-1 11h5m-2-9h5m1-2h5m-2 3h5m8 8h5m-103 3h5m-1 6h5m6 2h5m-4-4h5m-1 11h5m-1-14h5m4 12h5m0-2h5m-5-3h5m-4-4h5m-5 4h5m-2-2h5m0 4h5m-1-2h5m-2 0h5m-4 0h5m-2 6h5m-4-7h5m-4-7h5m-4 7h5m-4 7h5m-5-8h5m20 3h5m-5 6h5m-3-7h5m0-6h5m-103 15h5m-4 11h5m2-4h5m-3-7h5m-1 12h5m-5-1h5m1-7h5m0 3h5m-4-4h5m1 7h5m-2 1h5m0-4h5m-4 7h5m-5-4h5m6 4h5m-5-14h5m-3 8h5m-3 1h5m-5 3h5m-1-11h5m-4 12h5m-3 0h5m-4-13h5m-4 13h5m-4-4h5m-2-5h5m0 8h5m3-4h5m-1-9h5m-4 15h5m8-12h5m-123 19h5m-3-6h5m0 12h5m-1-5h5m-3-2h5m-3 5h5m0-4h5m-1-1h5m-5 0h5m-4-5h5m13 3h5m-2-3h5m-3 5h5m-2-1h5m-4 0h5m-3 1h5m-4 5h5m4 1h5m-3 4h5m2-5h5m-3-9h5m2 1h5m-4 9h5m-3 4h5m2-12h5m13 12h5m-127 13h5m1-2h5m2-7h5m0 9h5m0 0h5m-1-1h5m4-8h5m0 8h5m-4-5h5m-5 0h5m-3 0h5m-4-2h5m-5 6h5m-1-6h5m-4 11h5m0 0h5m8-14h5m0 5h5m-4 4h5m2-9h5m-4 6h5m-1-2h5m0 7h5m-4-4h5m-2 1h5m1-5h5m-4-2h5m-2 3h5m1-4h5m2-1h5m-154 30h5m9-8h5m19-1h5m-1-1h5m-5 7h5m-3-10h5m-2 6h5m-3-4h5m11 9h5m-4-3h5m-5 3h5m0-12h5m-4 12h5m-3-1h5m-2 2h5m-5-5h5m-3-3h5m-5 6h5m-4 1h5m1 3h5m-4-2h5m0 2h5m-1-7h5m1-8h5m-4 12h5m-2-10h5m9 12h5m-5-7h5m3 0h5m2-3h5m0-2h5m7 6h5m-151 20h5m-3 3h5m4-3h5m4-4h5m5 6h5m-2-11h5m-2 5h5m-4 3h5m9-10h5m-3 6h5m-4 2h5m-3-1h5m3-1h5m2-3h5m-3 0h5m-3-4h5m24 13h5m7-8h5m-105 22h5m4-7h5m-3 8h5m-2-6h5m1 2h5m-5-5h5m10 1h5m1 7h5m-1 2h5m-1-13h5m-2 14h5m0-7h5m-2 0h5m41 3h5m-128 18h5m2-5h5m6 1h5m11 1h5m33 1h5m-1-7h5m-157 26h5m67-4h5m8 1h5m15-5h5m-1 9h5m-2 1h5m15-14h5m-173 18h5m85 12h5m20-11h5m7 7h5m21-5h5m5 6h5m-132 10h5m-4 2h5m-3-4h5m19 0h5m46-1h5m-3-2h5m21 14h5m5-9h5m8 3h5m-170 8h5m6 3h5m-5-3h5m9 10h5m36 2h5m-1-8h5m47 3h5m37-1h5m-151 22h5m-5-8h5m20 0h5m3-1h5m6-3h5m7 8h5m38 1h5m-151 13h5m8-5h5m4 4h5m25 7h5m0-11h5m-4 11h5m6-12h5m0 10h5m3-4h5m-5 6h5m-69 11h5m4 5h5m30-2h5m-4-6h5m-4 0h5m10 2h5m-4-6h5m25 13h5m-3-5h5m2-9h5m7 1h5m11 7h5m-143 17h5m16 5h5m17-12h5m-3-1h5m-4 2h5m4-3h5m13 10h5m14 1h5m-132 12h5m-1 7h5m9-9h5m-2 5h5m9-3h5m-4-7h5m4 0h5m-3 2h5m-2 7h5m1 5h5m15-12h5m-1 5h5m3-5h5m-4 6h5m-3-8h5m11 4h5m-99 16h5m21 3h5m16 3h5m-4-4h5m6-2h5m-5 6h5m19-1h5m38 6h5m-158 12h5m52-11h5m6 13h5m2-12h5m3 1h5m65 2h5m-148 15h5m-4 2h5m27 5h5m-3 3h5m5-11h5m1-1h5m8 4h5m24 5h5m-64 17h5m8-1h5m36-8h5m12 6h5m-91 15h5m49-4h5m-52 20h5m47 21h5"/><path stroke="#38d898" d="M2358 522h5m-50 19h5m-1-6h5m5-5h5m-31 22h5m3-1h5m12 1h5m-48 18h5m-21 14h5m-1 6h5m-22 3h5m-3 3h5m22 11h5m11-8h5m-43 23h5m-1-10h5m-3-2h5m0 9h5m-32 5h5m13 6h5m0-3h5m13 4h5m-85 17h5m41 2h5m-58 9h5m-2 8h5m4-10h5m-1 12h5m-4-9h5m-1 8h5m17-8h5m-89 27h5m-1-5h5m9-5h5m-3 5h5m-2-4h5m0-2h5m-5 0h5m-2 3h5m-5-1h5m4-6h5m-3 14h5m-2-4h5m-3-3h5m0 7h5m-4 1h5m1-11h5m-1 9h5m-3 0h5m1-7h5m-3 2h5m-2-8h5m-2 4h5m-2 2h5m-103 25h5m9-3h5m-2-8h5m-3 5h5m-5 6h5m-2-6h5m1-4h5m-4-1h5m0 7h5m0-2h5m0 4h5m-5-4h5m-5-5h5m-4 9h5m-2-4h5m-2-3h5m-3 4h5m-4-2h5m-4-5h5m-4 2h5m-3 2h5m-5 2h5m-5-3h5m1 0h5m-4 3h5m-3 0h5m2-2h5m-1 7h5m-4-6h5m-2-1h5m-5-5h5m-4 6h5m4-7h5m-2 0h5m-98 18h5m-5-2h5m2 0h5m-5 12h5m1-11h5m-3-2h5m-3 11h5m-4-5h5m1-2h5m-4 3h5m-1 4h5m-4 0h5m-3-6h5m6 2h5m-5 3h5m-5-10h5m-3 10h5m-4 4h5m-3-6h5m14 1h5m-5-6h5m-5 7h5m-3-2h5m-5 6h5m-5 0h5m0 1h5m-3 0h5m-5-12h5m-4 8h5m-5-7h5m-4-3h5m2 13h5m-2-10h5m-130 20h5m9-7h5m0 0h5m6 5h5m-1 1h5m-4-2h5m-1-5h5m-1 15h5m11-2h5m1-6h5m-3 7h5m-3 1h5m-4-11h5m-5 4h5m-2 4h5m-5-8h5m-3 9h5m-4-8h5m-3 2h5m-5 1h5m-4-3h5m-2 7h5m-5 3h5m1-15h5m3 11h5m-4-3h5m-4 6h5m-1-2h5m-5 0h5m-4-2h5m-5 3h5m5-1h5m-1 1h5m-3-13h5m-104 23h5m2 2h5m-4 2h5m1-5h5m-4-1h5m-2 2h5m3 4h5m-4-4h5m-3 2h5m-1-3h5m-3 0h5m-2 1h5m-1 0h5m-5 2h5m-4-4h5m-2 5h5m-3-5h5m-3-3h5m-4 10h5m-2 3h5m-3-2h5m-4-4h5m-1-7h5m3 13h5m-1-10h5m9-5h5m-2 10h5m-1 2h5m-131 4h5m10 10h5m9-6h5m1 9h5m-4-13h5m4 3h5m-2 8h5m-1-4h5m-5 0h5m-3 7h5m-3 0h5m-3-9h5m-1-2h5m-4 11h5m0-5h5m1 1h5m-5-6h5m9 2h5m-3-5h5m-5 2h5m0 12h5m1-10h5m3-5h5m-2 15h5m2-15h5m0 14h5m-116 13h5m0 3h5m13-4h5m-4-1h5m-3 5h5m12-5h5m0-2h5m-4-3h5m-2 3h5m-1 3h5m0 5h5m-3-1h5m-1-11h5m-3 2h5m-2 0h5m2-3h5m-3 12h5m14-10h5m-128 24h5m0-8h5m9 5h5m28 2h5m13-7h5m-1-4h5m3 1h5m41 3h5m-141 16h5m6 5h5m7 4h5m21-13h5m10 13h5m-2-12h5m-60 26h5m29 4h5m1-9h5m11 3h5m16 5h5m-57 3h5m-65 18h5m-60 28h5m-21 9h5m38-6h5m27 0h5m-111 23h5m45-6h5m34 0h5m95 0h5m-188 17h5m11-4h5m5 1h5m0 8h5m5 1h5m4-2h5m1 6h5m-4-9h5m1-4h5m-2 5h5m-94 10h5m36 7h5m15-4h5m-3 3h5m-2-4h5m16 3h5m6-5h5m-56 25h5m6-9h5m10 6h5m-2 5h5m2-9h5m4 8h5m-78 18h5m23 0h5m4-6h5m11 4h5m24-4h5m2 8h5m-103 6h5m37 1h5m-74 15h5m59 8h5m10-11h5m20 61h5"/><path stroke="#40e840" d="M2339 525h5m-35 32h5m9-6h5m-96 99h5m-42 8h5m1 4h5m-4 8h5m-4-7h5m17 7h5m-1-8h5m-2 9h5m4-1h5m-3-12h5m-58 15h5m-2 14h5m-5-8h5m-2-2h5m-2 8h5m0-6h5m-2 4h5m-1 3h5m3 1h5m0-11h5m-3 6h5m0-8h5m19 1h5m-97 19h5m0 3h5m-3-3h5m-4-2h5m8 7h5m-2 2h5m-5 1h5m-2-2h5m13 2h5m-5-6h5m-1 6h5m-4-2h5m-3 2h5m-4-8h5m10 6h5m18 0h5m-3-4h5m-109 8h5m-5 15h5m7 0h5m-4-1h5m-4-13h5m-5 14h5m-2 0h5m-4-15h5m-4 7h5m3-2h5m-3 1h5m1 2h5m-3-2h5m-5 5h5m-5 2h5m-4-9h5m-4 3h5m-4 7h5m-4-6h5m6-6h5m-2 5h5m17-5h5m-1-1h5m-85 24h5m0-6h5m-1 5h5m1 0h5m-3-7h5m-2 6h5m-2-4h5m1 3h5m-3-2h5m-4 9h5m-4-5h5m-1 6h5m-4-13h5m-3 1h5m-3-2h5m-4 10h5m-2-10h5m-3 14h5m-1-8h5m-4 5h5m8-7h5m2-4h5m-100 16h5m2 6h5m0-2h5m1 1h5m-3 2h5m1 3h5m-5 1h5m4 4h5m-3-13h5m-3 3h5m2 9h5m-5 0h5m-3-10h5m-4-3h5m-5 1h5m1 6h5m2 6h5m0-12h5m5 0h5m-92 16h5m5 3h5m1 1h5m-1-3h5m-3 4h5m8 0h5m0 6h5m-2-9h5m-4 4h5m-3 4h5m-5-8h5m5-2h5m-5 0h5m3 1h5m4 2h5m-4-3h5m-5 8h5m-3 1h5m-5-1h5m4 3h5m4-8h5m-101 25h5m10-5h5m-2-4h5m1 5h5m1-10h5m0 13h5m3 2h5m-4 0h5m3-15h5m-2 5h5m8-3h5m5 2h5m-2-2h5m13 1h5m-70 17h5m7-2h5m-12 15h5m-30 28h5m-70 9h5m-51 23h5m-42 49h5m24-2h5m89 16h5m-156 28h5m27-1h5m-59 23h5m65 11h5m-50 24h5m-3 2h5m49-2h5"/><path stroke="#a0f038" d="M2271 592h5m-27 53h5m-18 40h5m-70 11h5m1-2h5m5 8h5m3 1h5m5-5h5m-5-3h5m40-5h5m-109 25h5m13-10h5m1 1h5m6 13h5m13-4h5m0 1h5m-3-5h5m-56 11h5m-1 2h5m4-1h5m-3 7h5m-3-6h5m0-1h5m-4 6h5m1 3h5m-5-8h5m-3-1h5m16 11h5m4 0h5m-1-11h5m-96 20h5m13-7h5m0 2h5m-3 8h5m3-5h5m-3 9h5m10-5h5m4 5h5m-2-4h5m20 3h5m-2-2h5m-105 5h5m-3 15h5m22-9h5m17 5h5m2 0h5m39-9h5m-85 20h5m14 9h5m-2-9h5m-1-1h5m4-3h5m-77 28h5m-41 46h5m-86 81h5m8 0h5m15-5h5m3 5h5m-8 38h5"/><path stroke="#f0e818" d="M2268 597h5m-5 40h5m-6 17h5m-61 16h5m-7 3h5m-45 21h5m-3-5h5m1 10h5m13 1h5m-1 2h5m-1-7h5m12 0h5m8-2h5m-82 12h5m22 10h5m-2-11h5m7 0h5m32 1h5m-79 27h5m-2 2h5m-1-4h5m-5 4h5m0-4h5m1-4h5m0-5h5m-4 6h5m0-6h5m-2 14h5m-2-15h5m-3 8h5m2-5h5m12 5h5m-87 9h5m5 7h5m-3 7h5m-5-7h5m16 4h5m-1 2h5m19 0h5m2 1h5m-64 5h5m20 1h5m11-1h5m-1-1h5m-2 11h5m-100 14h5m24 0h5m45-9h5m-45 14h5"/><path stroke="#ff8c18" d="M2266 668h5m-81 18h5m38-9h5m-60 25h5m-2 10h5m-4-3h5m7 5h5m14-1h5m-71 10h5m8 13h5m-34 25h5m38 3h5m-46 9h5m13 38h5m-150 226h5"/><path stroke="#e82818" d="M2260 601h5m-79 71h5m6 0h5m-46 31h5m28-3h5m-2-11h5m1 3h5m2 0h5m18 0h5m12-1h5m-82 18h5m0 3h5m-3-2h5m-4-1h5m-5 8h5m5-2h5m-4-2h5m-4-1h5m7-5h5m0 7h5m4-10h5m-59 26h5m-1 0h5m-4 4h5m-2-2h5m0 1h5m1-12h5m-3 7h5m-2 5h5m-3-12h5m-4-1h5m-4 11h5m-1-2h5m8-1h5m-79 16h5m4 5h5m-4 1h5m5-14h5m2 5h5m3 2h5m-1 3h5m-3-2h5m-2-8h5m-4 10h5m9-8h5m1-2h5m-3 12h5m9-1h5m-1-7h5m-80 23h5m3-9h5m2 10h5m13-10h5m-5 4h5m-1-6h5m-3 3h5m1 0h5m-39 17h5m-2 10h5m18-12h5m13 6h5m-58 13h5m15 3h5"/></g><g transform="scale(0.25)" stroke-width="5.2" fill="none"><path stroke="#2828c8" d="M743 1697h5m-1 0h5m67 2h5m-2 12h5m-413 16h5m161-13h5m56 2h5m38 8h5m61-6h5m25 9h5m18-11h5m6 8h5m2-11h5m6 0h5m2 11h5m13 2h5m-5-9h5m-422 23h5m250 3h5m1-4h5m0-11h5m-3 14h5m32-10h5m-3 8h5m-5 0h5m-2-1h5m5-6h5m4 8h5m22-8h5m1 7h5m-4-5h5m8 0h5m27-4h5m-4 6h5m-245 19h5m58-7h5m0 8h5m12 0h5m0-6h5m13 3h5m-1 5h5m-4-5h5m-5 3h5m1-8h5m4 10h5m1-8h5m1-1h5m9 1h5m3 3h5m2-10h5m-2 15h5m-1-7h5m-1-5h5m5 4h5m-4 1h5m-2-3h5m-4 5h5m-2-6h5m21 9h5m-4-6h5m0-3h5m129 4h5m33 0h5m72 5h5m-465 18h5m-4-15h5m2 6h5m2-5h5m19 13h5m-5-4h5m0-4h5m-4 7h5m-4 2h5m-5-8h5m-2 1h5m1 2h5m-5-8h5m0 7h5m-5-8h5m-4 14h5m-4-12h5m-3 4h5m-1 6h5m-4 2h5m1-4h5m-3 3h5m2 1h5m-1-3h5m-5-3h5m-5-3h5m6 3h5m-4 1h5m-4 1h5m-3-2h5m-3-7h5m0 1h5m-1 9h5m-4-1h5m3-9h5m-5 1h5m-3 6h5m-5-7h5m-5 12h5m-4-1h5m-2 2h5m-1-15h5m-5 11h5m-5-6h5m-4 3h5m-2-1h5m-2 7h5m-2-8h5m-4-5h5m-4 12h5m5-11h5m0 10h5m-2-2h5m-3 1h5m14-3h5m10-7h5m4-1h5m70 2h5m19 10h5m2-12h5m50 10h5m20-4h5m-451 15h5m13 4h5m9 2h5m-5 1h5m7-9h5m-4 8h5m-3-5h5m-1-6h5m-5 15h5m-3-5h5m-5-5h5m-2 4h5m4 1h5m-1-10h5m0 0h5m-1 4h5m4-2h5m-5 6h5m1-7h5m-5 0h5m-2 9h5m0 4h5m-3-12h5m0 0h5m-1 2h5m-5-4h5m-3 10h5m-2 2h5m-3-2h5m12-8h5m-5 1h5m-1 1h5m3-1h5m-3-3h5m-1 6h5m-5 6h5m-2-8h5m-5-1h5m2 6h5m-5-2h5m6 3h5m1 3h5m-1-5h5m14-5h5m-3 1h5m6-4h5m-4 14h5m289-10h5m3 0h5m-515 26h5m2-3h5m7 4h5m12-7h5m-4-5h5m-2 9h5m2-1h5m5-6h5m2-4h5m-4 4h5m-4-2h5m-3 5h5m-3 4h5m-3 0h5m0 2h5m-3-8h5m2-5h5m-4-1h5m-3 11h5m-1 0h5m-2 3h5m-4 1h5m-4-12h5m-4-3h5m-3 14h5m0-5h5m-3-8h5m-3-1h5m2 15h5m4-1h5m-3-5h5m-2-8h5m-2 10h5m-2-9h5m4-1h5m1 2h5m2 0h5m-5-2h5m3 3h5m15-1h5m11 11h5m105-4h5m19 1h5m-2 3h5m19-2h5m33-10h5m18 12h5m64-6h5m-529 21h5m21-2h5m13-3h5m-5-4h5m4 6h5m-3 3h5m3-7h5m-2 7h5m1-1h5m-4-9h5m-4 0h5m-4 0h5m2 5h5m-5-1h5m-4-7h5m1 0h5m-4 9h5m13 4h5m3-3h5m-4-5h5m-4 0h5m-2 3h5m-2 2h5m-2-3h5m1 2h5m6-7h5m0 0h5m-1 12h5m-3-12h5m-4 3h5m-4 9h5m-3-4h5m282 2h5m40-11h5m88 2h5m-659 17h5m59 1h5m30 4h5m7-5h5m1-3h5m5 7h5m6-8h5m-2 10h5m-4-8h5m-3 4h5m1-6h5m-2 11h5m-2-10h5m4 9h5m1-1h5m3-8h5m0 2h5m23-1h5m2 1h5m199 12h5m87-13h5m115 7h5m-539 7h5m6 9h5m5 6h5m22-11h5m12 8h5m2-11h5m5 1h5m11 1h5m-2 0h5m6 10h5m40-10h5m127 5h5m206-2h5m-519 23h5m67-9h5m2 0h5m-1 10h5m-5-12h5m0 1h5m28 10h5m-2-2h5m-2 3h5m5-11h5m1 1h5m2 6h5m73-2h5m337-5h5m-618 21h5m54 0h5m19-6h5m3 8h5m16 4h5m9-5h5m-3 2h5m-2-7h5m-4 11h5m1-4h5m10-3h5m7-4h5m9 1h5m39 5h5m43 5h5m46 0h5m15-8h5m104 5h5m-5 1h5m150 1h5m-577 8h5m48 4h5m4 5h5m12-4h5m-2-10h5m-1 10h5m-2-6h5m5 0h5m-4-1h5m-4-1h5m-4 3h5m11 8h5m10-3h5m8 3h5m3 0h5m12-9h5m72-2h5m126 12h5m-477 3h5m35 8h5m29-7h5m45 4h5m14 7h5m5-7h5m1 4h5m16-9h5m5 1h5m2 12h5m0-3h5m-2-1h5m0-11h5m11 6h5m4-3h5m1-2h5m10 1h5m-5 7h5m23 2h5m29-5h5m46 8h5m40-8h5m131 8h5m46-8h5m-784 10h5m177 9h5m-1-2h5m33 8h5m61-8h5m20 2h5m-1 4h5m-4-2h5m2-5h5m4 6h5m2-3h5m4 6h5m7-1h5m15-2h5m1 2h5m3-12h5m1 4h5m1 1h5m10 5h5m38-2h5m27 5h5m23-15h5m291 8h5m2-1h5m4 8h5m-710 16h5m41-2h5m41-13h5m6 11h5m32-2h5m14-7h5m14 5h5m10 0h5m7 6h5m18-13h5m4 2h5m1 4h5m-2-4h5m13-2h5m2 9h5m3 5h5m61-9h5m10-5h5m11 1h5m-4 9h5m28 4h5m15-3h5m39 2h5m-4-10h5m231-2h5m-709 15h5m28 15h5m25-13h5m17 5h5m-1 0h5m-4 0h5m10-6h5m-2-1h5m13 13h5m1-3h5m27 1h5m-3-8h5m38 9h5m-4-12h5m-5 3h5m4 10h5m-4-13h5m-1 1h5m0 10h5m-4 2h5m30-8h5m17 7h5m-2-5h5m28 4h5m3-1h5m10 4h5m13-9h5m1 7h5m34-2h5m0 2h5m-5-3h5m-3-4h5m26-3h5m143 11h5m-684 13h5m90-4h5m16-3h5m35 4h5m11 4h5m52-3h5m1-2h5m-3-4h5m6 3h5m0 6h5m0-11h5m6 2h5m1 8h5m5-9h5m-2 4h5m-4 3h5m5 3h5m-3-11h5m20 5h5m-2-4h5m-4 13h5m17-8h5m19-1h5m44 4h5m6-7h5m10 2h5m-4-1h5m8 6h5m4-3h5m12 0h5m-471 23h5m29-4h5m-4 0h5m1 0h5m21-3h5m-1 9h5m-2-14h5m-2 11h5m4-12h5m31 1h5m-1-1h5m4 7h5m2 5h5m1-9h5m-3 10h5m1-7h5m8-4h5m21 4h5m12-5h5m13 8h5m6-6h5m7 2h5m-2-1h5m-4 11h5m-1-2h5m-1-2h5m0-9h5m-3 4h5m4 9h5m-5 0h5m-4-6h5m2 1h5m1-1h5m1-3h5m-3 6h5m9-4h5m49 1h5m23-1h5m2-2h5m2 7h5m-3-1h5m-3-6h5m0 8h5m-348 15h5m24-9h5m4 2h5m4 4h5m5-9h5m12 13h5m13-11h5m14 9h5m24-6h5m-3 4h5m12 4h5m1-12h5m-1-1h5m-4 14h5m-3-3h5m5 3h5m2-4h5m7 3h5m7-6h5m4 6h5m-5-9h5m-2 9h5m1-10h5m-4 10h5m38-8h5m11 8h5m9-13h5m3 11h5m-5-12h5m8 11h5m-1-6h5m10 0h5m10-3h5m12 2h5m4-3h5m5 14h5m2-13h5m-4 6h5m-3 2h5m29-9h5m-542 19h5m32 2h5m44 1h5m1-2h5m-2-1h5m30-4h5m28 3h5m39 1h5m32-2h5m1 3h5m0 3h5m-1 7h5m-2 0h5m7-1h5m-3 1h5m6-11h5m0 9h5m-1-2h5m-4-7h5m18 8h5m5 0h5m0-9h5m2 11h5m6-10h5m-4 4h5m13-3h5m9 8h5m2-8h5m9-3h5m-4 5h5m-1 4h5m5-3h5m-3-5h5m7-1h5m-5 13h5m6-11h5m12 3h5m-1 1h5m23 1h5m1 1h5m-559 16h5m14 0h5m3-8h5m15-2h5m37 4h5m-1 11h5m19-13h5m3 0h5m5 12h5m10 0h5m13-14h5m73 3h5m1 9h5m-1-8h5m2-2h5m8 7h5m-4 5h5m12-9h5m1 0h5m4-5h5m3 11h5m-4-9h5m0 9h5m3-7h5m-3-4h5m-4 4h5m-2 10h5m15-8h5m7 9h5m2 0h5m7-11h5m24 9h5m1-2h5m19-4h5m5 5h5m16-7h5m-4-2h5m5 10h5m32-4h5m19-3h5m-2-6h5m0 3h5m35 12h5m3-8h5m3 0h5m-487 19h5m-5-8h5m-3 12h5m80 1h5m1-8h5m29 7h5m-4-7h5m-5 6h5m14 0h5m-2 1h5m7 1h5m-1-9h5m1-4h5m-4 13h5m15-12h5m19 8h5m-4-2h5m-4 3h5m-3-5h5m8-5h5m2 1h5m49-1h5m0 6h5m8-2h5m22 2h5m0-6h5m4 3h5m-2 0h5m35 9h5m-4-1h5m0-11h5m-5 13h5m-1-4h5m-4-7h5m0-4h5m51 4h5m-452 18h5m85-6h5m-2 3h5m21 12h5m1-7h5m4-4h5m-3-2h5m-3 13h5m0-14h5m13 0h5m31 10h5m-1 0h5m14-9h5m-1 5h5m8 5h5m8-6h5m13 9h5m1-13h5m-4-1h5m0 1h5m3-1h5m7 2h5m13 1h5m16 7h5m2 1h5m28-6h5m-590 13h5m-5 12h5m51-1h5m7-7h5m-1 4h5m56-6h5m28 0h5m34 5h5m10 4h5m10-2h5m-1-2h5m11-7h5m78 5h5m-3 4h5m16-10h5m27 12h5m1-2h5m-5-6h5m-3-1h5m-3 8h5m3-2h5m-2 1h5m11-7h5m-3 10h5m-3-11h5m-4 5h5m-4 1h5m7 5h5m-3-14h5m6 13h5m29-5h5m6-9h5m-4 5h5m-4 1h5m11 9h5m-1 0h5m-4-5h5m1-9h5m6 2h5m-4 1h5m-1 8h5m8 2h5m16-14h5m7 15h5m18-5h5m24-5h5m-470 11h5m9 6h5m2 3h5m21 3h5m26 3h5m-2-4h5m5-6h5m3 6h5m-3-1h5m2 0h5m14-9h5m4 10h5m2-4h5m2-6h5m-4 8h5m-4 1h5m0 3h5m3 1h5m11-14h5m-2 1h5m-3 11h5m-4 1h5m9 1h5m9-7h5m4 4h5m13 2h5m-5-6h5m-4-3h5m-5 7h5m-4-7h5m-1 11h5m5-1h5m-1-4h5m0 1h5m9-6h5m3 1h5m-3 9h5m1-2h5m-3-7h5m-3 6h5m-1 0h5m-4-5h5m-5 1h5m-3 1h5m-1 1h5m-3 5h5m-2-5h5m-2-3h5m8 1h5m-3-4h5m-3 10h5m-1-10h5m2 11h5m-4-11h5m-3 7h5m-3-1h5m-1 1h5m21-7h5m9 8h5m11-11h5m-532 27h5m76-6h5m4-2h5m27-4h5m24 10h5m24-9h5m10 14h5m19-9h5m7 7h5m10 0h5m-3-12h5m15 8h5m-2-7h5m12-1h5m8 2h5m-5 7h5m-1-10h5m-3 12h5m-3-3h5m-1-6h5m-5-2h5m-4 8h5m-3 2h5m0-10h5m-4 10h5m-5-8h5m-1 1h5m-3 4h5m-3-1h5m-5 2h5m-2 3h5m-3 2h5m-5-11h5m-1 2h5m-3 1h5m2 6h5m4-10h5m6 2h5m-3 4h5m4-5h5m-1 2h5m-3 6h5m10-2h5m1-9h5m-4 9h5m4 5h5m-1-1h5m-3 0h5m5-11h5m-4 13h5m18-3h5m8-6h5m1-3h5m0 2h5m2 9h5m-3-1h5m-3-11h5m6 6h5m-2-3h5m29 1h5m-588 16h5m9-6h5m-1 6h5m28 4h5m-2-1h5m2 1h5m14 4h5m15 0h5m3 0h5m-2-10h5m11 4h5m38 5h5m32-9h5m20 10h5m-4-12h5m7 12h5m1-8h5m9 1h5m-4 4h5m7-8h5m-5 2h5m-4 0h5m0 9h5m6-3h5m11-4h5m-5 5h5m-5-9h5m-4 3h5m-4 0h5m-1-2h5m-5-4h5m-4 2h5m-1 10h5m-5-1h5m-2-10h5m0 13h5m1-7h5m-1 5h5m-5 0h5m-3-6h5m-2-2h5m-4 7h5m-2 4h5m1-8h5m7 3h5m-4 4h5m-4-2h5m-3 0h5m-4 3h5m3-11h5m3-4h5m2 9h5m-4 3h5m-3-9h5m-3 0h5m-3 5h5m-2 2h5m-4-7h5m-5 1h5m-4 2h5m-1-6h5m-1 9h5m-3-1h5m-3-8h5m-2 11h5m2-9h5m-1 3h5m-3-3h5m-5 3h5m-5 4h5m-4 6h5m-4-1h5m-4 0h5m10-6h5m31 1h5m22 4h5m10-13h5m12 5h5m2-2h5m3 9h5m5-5h5m-597 17h5m-3-4h5m73 4h5m29 3h5m7 2h5m25-7h5m19 8h5m-1-4h5m9-4h5m0 2h5m32 4h5m-2-9h5m-4 7h5m-2 1h5m-2-8h5m-4 9h5m3-9h5m-5 7h5m-4-4h5m-3 0h5m-4 5h5m-3 2h5m3-3h5m0-4h5m-2 0h5m-5-2h5m1 1h5m-4 6h5m-3-8h5m-1 12h5m9-2h5m-4 1h5m1 0h5m-4-13h5m-3 5h5m-5 9h5m-2-9h5m-2 6h5m-4-9h5m0 8h5m5-1h5m-4-10h5m6 4h5m0 2h5m-5-2h5m-5 4h5m-4-4h5m-4 5h5m-4 5h5m-4-14h5m-2 11h5m5 1h5m0-1h5m-4-7h5m-4 7h5m-4 0h5m1-10h5m-4 11h5m-2-12h5m-1 5h5m-3 8h5m-4-4h5m0-5h5m-2 11h5m1-15h5m-3 10h5m-3 2h5m-3-7h5m4 1h5m-2 3h5m1-6h5m5 9h5m0-8h5m-5 6h5m-1 3h5m-2-1h5m0-2h5m-5-5h5m1-2h5m0 5h5m-5 2h5m-4-5h5m1 6h5m1-1h5m-3 5h5m5-3h5m10 2h5m-4-3h5m-4-3h5m3-7h5m37 4h5m17 7h5m6-4h5m33 6h5m-662 2h5m12 6h5m3 1h5m-5 8h5m5-12h5m21-1h5m18 1h5m0-2h5m6 7h5m0 0h5m-5-2h5m-3 4h5m23 4h5m0-6h5m3-6h5m-4 12h5m14-6h5m11 6h5m8-10h5m3-4h5m-2 8h5m0-3h5m3 7h5m1-7h5m-3 6h5m-5-3h5m0 3h5m-3-1h5m-4 4h5m7-5h5m-5-7h5m-4 8h5m-4-3h5m-1-7h5m-2 13h5m-2-2h5m-5-3h5m0 1h5m-1-5h5m0 10h5m-4-10h5m-4 10h5m4-10h5m1-4h5m4 8h5m-4 5h5m3-1h5m-4-10h5m-3 0h5m-3 3h5m2 6h5m-3-5h5m1 2h5m-3-2h5m4 2h5m12-6h5m-5 2h5m-1 9h5m9-13h5m-4 12h5m-3-8h5m-4 7h5m-2-11h5m-3 15h5m-5-14h5m-1 8h5m-4-4h5m-2 6h5m-1-5h5m-4 0h5m6-5h5m-5 13h5m-3-14h5m-3 6h5m1 0h5m-3 7h5m-3-7h5m-1 5h5m-4 4h5m-2-14h5m-5 9h5m-4-4h5m-4 0h5m-2 3h5m-3-2h5m22-4h5m-5 1h5m-4 11h5m-3-9h5m1-4h5m11-1h5m-4 2h5m-5 4h5m-3 4h5m-3-3h5m-3-4h5m12 0h5m103 5h5m-628 10h5m11 4h5m-4 2h5m-2-2h5m-3 3h5m5-8h5m11-2h5m7 5h5m8 3h5m12-3h5m-3 1h5m13 7h5m-5 2h5m-4-13h5m-3 0h5m5-1h5m-4 5h5m8 7h5m13-13h5m-1 9h5m-5-7h5m7 6h5m7 3h5m-2-6h5m3 9h5m2-4h5m-5-2h5m-4 5h5m-4-10h5m-2 11h5m-4-9h5m-2 6h5m-5-7h5m2 3h5m1 2h5m-1-2h5m-4 2h5m5 5h5m-1-6h5m-1 1h5m-3-3h5m-2-4h5m-4 0h5m-2 4h5m-2 4h5m0-10h5m0 13h5m1-1h5m-2 3h5m-2-8h5m3 3h5m0-7h5m-4-3h5m15 2h5m-2 13h5m-3-10h5m-3 9h5m3-2h5m5-1h5m-3-4h5m-5 4h5m-3-8h5m6 8h5m-2-5h5m-5-5h5m-3 14h5m-4-7h5m-2-5h5m-3 12h5m0-13h5m-2 3h5m1 3h5m1 3h5m0-4h5m-4-2h5m6 2h5m-3 8h5m-5-6h5m0 5h5m-2-7h5m-2-3h5m4 1h5m-2 5h5m-1 5h5m1-11h5m0 7h5m7-5h5m8 1h5m-3 2h5m9-3h5m-2-3h5m2 4h5m1-2h5m17-5h5m23 4h5m3 6h5m-2-9h5m-4 6h5m16-5h5m-575 24h5m-2 0h5m-5-2h5m-4 1h5m-5 3h5m8-4h5m-3 0h5m-4 7h5m-1 0h5m1-10h5m-3-5h5m-1 12h5m-3-7h5m-1 2h5m-2-4h5m7 12h5m-4-11h5m-1 4h5m7-6h5m-4 3h5m1 3h5m0-1h5m-1-6h5m10 5h5m-5-2h5m-4 5h5m1 3h5m8 1h5m-4 0h5m-5 2h5m-1-10h5m-2 1h5m2-5h5m-1 14h5m-3-14h5m-1 3h5m-1-1h5m-4 8h5m-2-10h5m-3 1h5m-1 12h5m-3-8h5m-5 2h5m1-7h5m8 8h5m3-5h5m1 9h5m4-2h5m-4-2h5m0-7h5m-5 10h5m-4 0h5m1-2h5m-1 3h5m6-6h5m1 4h5m-3-5h5m5 0h5m0 2h5m-4 6h5m-3-1h5m11-8h5m-5 0h5m4 10h5m-3-13h5m13 3h5m2 1h5m-3 5h5m2-11h5m-3 11h5m-5-10h5m0 4h5m3 5h5m-4-1h5m-2 4h5m-3 2h5m-2-3h5m1-8h5m-3 5h5m-3-6h5m-4 5h5m0 1h5m0-2h5m-4-6h5m-4 1h5m9 12h5m-2-7h5m-2-2h5m0-5h5m-3 10h5m-5-4h5m4 5h5m2-3h5m1-5h5m-2 7h5m1 1h5m5 4h5m-3-6h5m-1-7h5m-5 11h5m1-12h5m0-1h5m-5 4h5m103 10h5m37-10h5m6 8h5m-627 6h5m-4-2h5m0 12h5m-4 2h5m17-10h5m-5 11h5m0-6h5m4 5h5m0 1h5m-3-10h5m0 2h5m-4-7h5m10 1h5m1 14h5m2-6h5m1-7h5m-1 5h5m-4-2h5m-5 1h5m-3 0h5m4-2h5m-4-2h5m-3 6h5m-4 0h5m4 1h5m-4 4h5m-4-12h5m-2 11h5m-4-1h5m-2-5h5m-3-6h5m-3 7h5m-2 6h5m-5 2h5m-3-12h5m0 4h5m3-3h5m16 4h5m-5-8h5m-4 13h5m-5-2h5m-2-2h5m0-4h5m4 5h5m-1-10h5m-3 7h5m-4-5h5m-5 1h5m10 10h5m-2-1h5m-3-12h5m-5 4h5m-4-4h5m17 0h5m-5 0h5m2 10h5m10-7h5m-3 7h5m-2-2h5m-3-1h5m-3 8h5m-4-14h5m8 7h5m2-5h5m0 3h5m-3-2h5m-3 7h5m-2-4h5m3-1h5m2-2h5m3-2h5m0 3h5m-2 9h5m-3-8h5m-3 4h5m-4-5h5m-2 8h5m-3-13h5m5 15h5m-5-4h5m0 4h5m-4-5h5m1-5h5m-5 3h5m-3 7h5m1-4h5m6 1h5m-5 3h5m-3-10h5m-3-3h5m3-2h5m-1 4h5m12-3h5m-2 9h5m6 5h5m6-14h5m-3 9h5m-1-3h5m0 4h5m8-4h5m-1-5h5m-1-1h5m14-1h5m6 4h5m2 5h5m1 4h5m23-13h5m-549 21h5m-3 2h5m-3 3h5m9-2h5m-3 0h5m4 3h5m-4-1h5m1-2h5m-3 5h5m-3 0h5m-4-1h5m-3-8h5m1 8h5m-3-10h5m1 4h5m-5-4h5m-1 2h5m-1 10h5m5-14h5m4 14h5m-3-11h5m-1 11h5m2-11h5m0 10h5m-3-2h5m1-5h5m-1-3h5m2-3h5m-4 5h5m5 1h5m-4 4h5m1 5h5m-4-8h5m8-7h5m-5 15h5m0-14h5m-4 0h5m12 0h5m-5 0h5m3 11h5m-5-12h5m8 14h5m4 0h5m2-4h5m0 0h5m1-7h5m-2 8h5m-5-10h5m-2 4h5m0-3h5m-1 5h5m-1 5h5m5-1h5m-4-10h5m-1 1h5m-1-1h5m3 10h5m2-4h5m-4 3h5m2 2h5m1-9h5m-3 4h5m3 7h5m2-1h5m-4-8h5m6-5h5m-3 11h5m2 1h5m11-11h5m-4 7h5m-3-2h5m0-5h5m5 1h5m-1 3h5m-4 5h5m1 4h5m-2 0h5m-5-10h5m-4 3h5m5 7h5m8-1h5m-3-5h5m7 2h5m-1-8h5m4 11h5m-4 2h5m-4-3h5m-3-2h5m-2-8h5m-4 11h5m10-4h5m58-2h5m-523 13h5m1-4h5m-2 6h5m-4 7h5m1-11h5m-3 11h5m-1 1h5m-3-2h5m-2-4h5m2 1h5m-3-7h5m1 12h5m-1-10h5m-1 10h5m-3-13h5m-3 10h5m2-5h5m-5 2h5m-3-4h5m-3 10h5m-1-6h5m-5 0h5m0 5h5m-1-10h5m-3 2h5m-4 2h5m-4-5h5m6 0h5m-3 8h5m2 3h5m-4-1h5m1-5h5m0 5h5m-2 3h5m-3-1h5m-4-1h5m1-5h5m-5 0h5m0 1h5m1-1h5m0-5h5m4 0h5m-1 12h5m-3-5h5m-3-5h5m-4 5h5m-1 2h5m8-11h5m-1 4h5m-4 7h5m2-3h5m12 4h5m-3 0h5m1 0h5m-1-13h5m-3 8h5m-1 1h5m18 1h5m-5 1h5m-4 4h5m1-13h5m-1 8h5m8-4h5m7 5h5m1-2h5m-3 3h5m5-1h5m20-2h5m-4-8h5m0 5h5m1-2h5m-4-1h5m1-1h5m12-2h5m-3 10h5m3 1h5m-2-6h5m2 6h5m0 1h5m-1 1h5m-4-2h5m-4-1h5m0-6h5m3-4h5m3 10h5m1-3h5m-4 3h5m1 3h5m0-6h5m-3-1h5m-3 9h5m-4-2h5m-2-8h5m-3 5h5m-5-7h5m-4 6h5m-3-7h5m-2 8h5m-5-6h5m2-2h5m11-2h5m11 0h5m22 4h5m4 11h5m53-6h5m36-9h5m-629 28h5m-3-3h5m1-7h5m-2-1h5m-1 2h5m0 10h5m-2 0h5m-4-4h5m-2-5h5m0 0h5m0 2h5m-5-4h5m1-1h5m-5 4h5m-2 2h5m3-7h5m2 2h5m5 13h5m1-3h5m-5 0h5m-5 3h5m-5-8h5m-3 0h5m-4 8h5m-4-9h5m-3 8h5m-1-7h5m-4 0h5m-3-3h5m0-1h5m-1 8h5m-2-1h5m1-2h5m-5 4h5m0-7h5m-5-4h5m-3 10h5m-4 1h5m-4-11h5m-4 4h5m-4-1h5m2 11h5m-2-9h5m-2 7h5m-4-6h5m-4-4h5m-4 12h5m-3-2h5m-4-13h5m2 13h5m0 1h5m3-11h5m-1 3h5m3 5h5m-4-5h5m-2-6h5m5 7h5m-1 3h5m-1-6h5m-5 1h5m-3 7h5m4-11h5m-4 3h5m-3 2h5m4-6h5m-4 13h5m3-11h5m-1 0h5m16 8h5m3-6h5m-2 10h5m2-6h5m-2 2h5m24-1h5m53 3h5m5-2h5m6-4h5m-5 3h5m-4-6h5m-1 9h5m-3 0h5m-2-6h5m5 8h5m-4-3h5m-4-4h5m11 2h5m0-2h5m-4-4h5m1 5h5m-3-5h5m-3 3h5m-3 1h5m-4-7h5m-4 11h5m-3-11h5m-4 10h5m2-1h5m-3-6h5m-1 4h5m-5-1h5m-457 14h5m-1 1h5m-2 10h5m-1-6h5m0 2h5m-4-1h5m10 0h5m-5-1h5m-2-4h5m-3-2h5m-4 5h5m-4-4h5m-1-4h5m-5 2h5m1 1h5m1 9h5m-1-3h5m-5 1h5m-4-3h5m-4-2h5m-2-1h5m-2 9h5m5 0h5m0-10h5m0-3h5m-5 7h5m0-3h5m-3 8h5m5 2h5m0-6h5m-1 4h5m-1-6h5m-5-6h5m5 0h5m-5 0h5m-4 13h5m2 1h5m-1-14h5m2 9h5m6 3h5m0-5h5m14 0h5m4 3h5m-1 1h5m-1-10h5m3 6h5m3-5h5m5 3h5m-5 5h5m5-9h5m-4 7h5m-1 2h5m12-7h5m13 6h5m2-5h5m13 6h5m-4 0h5m7-7h5m31 11h5m14-1h5m3-5h5m-3-8h5m15 1h5m-5 6h5m-2 7h5m6 1h5m1-1h5m-1-13h5m6 1h5m2 8h5m-4 3h5m-3-9h5m1 10h5m-2-10h5m-2 5h5m-4 2h5m30 2h5m0 2h5m10-5h5m9-6h5m6 0h5m61 3h5m18-4h5m-1 2h5m-634 11h5m-4 9h5m4-3h5m-1 8h5m-2-3h5m-4-6h5m-4 4h5m-5-8h5m0 12h5m-3-2h5m0 2h5m6-11h5m-3 1h5m3-2h5m0 4h5m-4 4h5m-1-8h5m-5 6h5m-2 0h5m8-1h5m-5 8h5m-4-1h5m0-4h5m-3-6h5m2-2h5m-4 10h5m-4-1h5m-5-8h5m-3 4h5m-4 9h5m-2-7h5m1 0h5m-4 5h5m4-7h5m-2-6h5m8 13h5m3 2h5m-2-8h5m0 8h5m-1-5h5m-2-6h5m-3 9h5m30-6h5m-3 4h5m-3-2h5m3-8h5m-1 1h5m13 11h5m14 0h5m6-3h5m5 1h5m-4-5h5m7 1h5m22 5h5m71 3h5m8-1h5m8-12h5m-4-2h5m-4 13h5m-3-5h5m6 6h5m-4-2h5m-2-2h5m-5 4h5m1 0h5m-2 1h5m-2-7h5m-5 3h5m6-10h5m1 6h5m-4 5h5m-5-5h5m-461 11h5m-3 11h5m-4-4h5m5-7h5m-5-1h5m-4 12h5m-4-6h5m9-6h5m0 12h5m8-5h5m-5 1h5m1-3h5m0-4h5m-1 5h5m-2-5h5m-3 4h5m-3-2h5m-4 1h5m-5 8h5m-4-12h5m5 2h5m-4 7h5m-5-9h5m5 3h5m-4 7h5m-4-1h5m-4-10h5m0 11h5m1 4h5m0-2h5m-2-6h5m11 5h5m-2 0h5m-1-12h5m-3 9h5m-4-8h5m1-1h5m-3 8h5m0-1h5m12 8h5m15-1h5m0-2h5m-3-2h5m-2-9h5m13 14h5m0-4h5m-1 1h5m33-2h5m41 0h5m18-1h5m34 6h5m18-11h5m-1 1h5m2 10h5m10-9h5m-4-5h5m-3 7h5m-2-3h5m3 7h5m-4-8h5m-5 0h5m3-2h5m-4 0h5m-4 8h5m-1-2h5m-4-1h5m-4 5h5m-2-4h5m29 0h5m13 0h5m7-2h5m-1 7h5m3-5h5m-2 5h5m-540 14h5m-1-6h5m-4 6h5m-5-5h5m0 1h5m4 1h5m9 1h5m7-7h5m-5 3h5m-4-1h5m15 7h5m-3-5h5m-4 7h5m0 2h5m6-10h5m3 3h5m-1 6h5m0-4h5m-2 4h5m2-3h5m10-1h5m-2-5h5m0 3h5m38 4h5m-4-1h5m0-10h5m-3 1h5m7-1h5m-5 13h5m39-11h5m8-1h5m-4-2h5m-2 1h5m34 4h5m23-1h5m-5 5h5m17 4h5m36-9h5m-3 9h5m13-1h5m1-7h5m-4-5h5m1 5h5m8 3h5m3 2h5m0-10h5m-4 15h5m-3-13h5m-3 5h5m34-1h5m15 1h5m29 1h5m-553 17h5m-1-4h5m-2-2h5m0-2h5m-4 10h5m2 2h5m-3 2h5m-3-15h5m-3 15h5m-5-2h5m-2-9h5m-2 7h5m-3-7h5m0-1h5m-3 10h5m-4-3h5m-4-10h5m2 2h5m-3 11h5m-3 0h5m-1-11h5m18 6h5m-1-7h5m3 7h5m0-8h5m-1 3h5m-3 9h5m6-1h5m-4-7h5m1 10h5m-2-13h5m3 11h5m0-11h5m5 2h5m2 12h5m4-5h5m3-8h5m-1 12h5m2-10h5m20 8h5m0-5h5m3 8h5m0-14h5m-3 3h5m-2-4h5m-3 14h5m-2-13h5m2 1h5m13 7h5m22 1h5m-3-1h5m0 6h5m0-5h5m37-1h5m17 4h5m-2-1h5m18-4h5m10 4h5m-3-1h5m-4 0h5m-4-6h5m-4 7h5m1-5h5m-4 4h5m-3-1h5m-1-6h5m3 0h5m5 7h5m-5-1h5m-5 0h5m-3-6h5m-5-3h5m-2 4h5m-4 1h5m0 4h5m-1-6h5m-3 5h5m36 3h5m43-9h5m-2 7h5m17 5h5m-573 14h5m-5-1h5m-4 1h5m1 0h5m-3-4h5m-4-2h5m-1 1h5m-1-6h5m-2-2h5m0 11h5m-3 2h5m-3-13h5m-3 6h5m-4-5h5m-5 11h5m-4-3h5m6 1h5m-5-4h5m2 6h5m-4 0h5m-2-9h5m-2-3h5m-5 1h5m0 4h5m-1 5h5m0-10h5m-2 14h5m-1-2h5m-3-3h5m-3 1h5m2-2h5m-1-1h5m-5-4h5m4 3h5m-5-6h5m0 7h5m-5 3h5m-4-6h5m3-2h5m-1 9h5m-2 0h5m-3 0h5m2 3h5m3-6h5m-2-1h5m21 2h5m-5 3h5m-2-3h5m4 2h5m13-5h5m3-5h5m-1 7h5m-1 5h5m5-9h5m4 7h5m3-10h5m2 5h5m0 2h5m-1-1h5m-3 5h5m-3-5h5m0-6h5m5 11h5m10 0h5m-1-6h5m31 6h5m-4-4h5m17 3h5m2-1h5m0 4h5m6-6h5m0-7h5m-2 9h5m-4 0h5m-4-5h5m2-5h5m-4 14h5m-2 0h5m0-2h5m-4-9h5m-4-3h5m-1 11h5m16-8h5m-2 2h5m0 4h5m6 0h5m48-1h5m16 7h5m-532 10h5m-1-3h5m-1 1h5m-3 0h5m18-1h5m-3 4h5m2 2h5m-5-9h5m-4 5h5m-5-2h5m-4-4h5m-3 11h5m-4-4h5m-4-2h5m-5-4h5m-1 2h5m2 0h5m4 1h5m-4 8h5m0-1h5m-2-11h5m5 8h5m2-2h5m-3 4h5m0-10h5m0 8h5m5 1h5m-4-2h5m-2-8h5m0 13h5m-4-7h5m-4-5h5m-1 3h5m2 8h5m-2 1h5m-4 0h5m-4-9h5m4 9h5m0-11h5m-4 10h5m1-11h5m-4 7h5m-2-6h5m1-3h5m2 10h5m3-8h5m-4 8h5m-4 5h5m2-3h5m2-2h5m-5-5h5m21 1h5m-2 8h5m13-10h5m5-2h5m4 0h5m6 3h5m10-2h5m1 10h5m-2 1h5m6 0h5m0-7h5m-4-7h5m-2 5h5m3 7h5m-4-3h5m-1-7h5m-4 7h5m4-1h5m6 2h5m-2 1h5m-5-5h5m8 3h5m-5 3h5m1-7h5m-3 10h5m4-8h5m4-6h5m-5 6h5m-5-4h5m-3 4h5m-2-5h5m-2 10h5m0-6h5m-3 4h5m6-9h5m-1 10h5m-1-6h5m-5 5h5m-1 5h5m-1-9h5m-4-4h5m-3-2h5m-5 0h5m0 12h5m38-9h5m-500 23h5m-4 1h5m-3 1h5m-3-3h5m-3-6h5m-2 9h5m-4-6h5m-5-1h5m-4 9h5m-4 1h5m3-6h5m0 4h5m-5-1h5m-4 0h5m-2 0h5m-5-5h5m1-1h5m-2 1h5m-3-2h5m-4 0h5m-4-1h5m1 1h5m4 10h5m-2 0h5m7-9h5m-2-4h5m1 0h5m2 9h5m7-1h5m2 5h5m-4-14h5m-4 12h5m-2 1h5m-2-13h5m-2 7h5m-4 5h5m6 1h5m1-3h5m-4-10h5m-1 7h5m-2-7h5m-4 8h5m4 4h5m-4-2h5m-5-11h5m3 12h5m1 1h5m3-1h5m-4-1h5m-4-2h5m6 6h5m-4-5h5m-4 1h5m-2-5h5m-5-1h5m-3 4h5m-3-7h5m-5 7h5m-4 6h5m-2-11h5m2 0h5m3 5h5m-3-7h5m-2 3h5m-2 8h5m-2-2h5m-2 1h5m-3-1h5m0 4h5m5-3h5m6-11h5m-3 6h5m-1 0h5m-3-3h5m-4-3h5m-3 8h5m0 5h5m1-2h5m2-4h5m-4 4h5m1-6h5m1 1h5m-3-1h5m-4 7h5m3-8h5m-3-4h5m-3 11h5m-4-2h5m-1 1h5m-4 1h5m-3-5h5m-4 5h5m-1-10h5m14 0h5m-1 6h5m-3 0h5m0-1h5m-4 1h5m-4 1h5m-4-8h5m-1-1h5m2 1h5m1 5h5m-3-5h5m1 12h5m1-2h5m-3-9h5m-2 3h5m4 1h5m4 3h5m4-9h5m-4 4h5m6 1h5m-4 0h5m-4-2h5m18 12h5m9-15h5m1 13h5m14-12h5m-507 28h5m-2-3h5m3-1h5m4 6h5m0-11h5m-5-3h5m-2 6h5m-5 3h5m-1-9h5m-4 2h5m-4 11h5m15-14h5m-5 11h5m-2-8h5m2 2h5m-2 2h5m-3 2h5m-2-4h5m-4 8h5m-3-13h5m13 11h5m-4 0h5m-3-6h5m7-3h5m2 7h5m4 6h5m-3-4h5m-4-3h5m-2 3h5m-5-5h5m-4 5h5m-3-11h5m4 15h5m-4-7h5m4 0h5m-4 2h5m1-7h5m-5 12h5m-5-10h5m-4-5h5m-1 15h5m-5-11h5m14-1h5m-3 11h5m1-11h5m2 9h5m-5-9h5m0-3h5m-3 0h5m-4 14h5m4-2h5m1-4h5m3-5h5m-4 8h5m0-2h5m0-3h5m2 5h5m-2-1h5m-4-5h5m-2-5h5m-3 4h5m6-3h5m-3 11h5m0-6h5m1 1h5m-1-6h5m-4 10h5m-4 1h5m23-7h5m-4 0h5m-2-1h5m-4-4h5m-5 13h5m0-1h5m-4 0h5m6-2h5m-1-3h5m-2-4h5m0 6h5m-4 1h5m4-8h5m0 9h5m-4-6h5m-5 2h5m-2-7h5m-4 3h5m-2 2h5m1-4h5m-2 1h5m-3 7h5m-1 4h5m-1-11h5m-1 9h5m-4 3h5m1-13h5m-3 7h5m-4-2h5m13-5h5m-4 8h5m-4 0h5m-3 2h5m-2-3h5m8-2h5m-4 4h5m4 1h5m23-10h5m-2 4h5m-4-3h5m-493 19h5m-5-1h5m-5-4h5m-3 0h5m-3 7h5m-4 1h5m-4-3h5m-4 8h5m-4 1h5m-5-11h5m-3 11h5m5-11h5m5 0h5m-1 1h5m13 2h5m-3 6h5m-1-8h5m-4 1h5m-5 3h5m-2-3h5m-4-5h5m-3 9h5m-5-2h5m1 2h5m-2 6h5m-3-4h5m-2-4h5m-4-4h5m0 4h5m-4 4h5m-4-9h5m-1 2h5m-4-3h5m-4 7h5m1 4h5m-4-1h5m7-1h5m7 1h5m1-2h5m8 1h5m-4-3h5m0-7h5m-5 6h5m1-4h5m1 11h5m-4-3h5m-3-3h5m4-1h5m-4 3h5m0-8h5m-5 4h5m-2 9h5m-3-12h5m-5 12h5m2-14h5m-2 12h5m-3 1h5m0-1h5m-3 3h5m3-6h5m-1-9h5m-2 1h5m4 14h5m-2-9h5m-5 6h5m5-5h5m-2 4h5m-1-1h5m-3-7h5m-1 12h5m-1-10h5m4 9h5m1-13h5m-3 9h5m-3-7h5m-3 6h5m-4 0h5m6-5h5m2 0h5m-4 8h5m-1-3h5m-1-5h5m6-1h5m-4 3h5m-1-3h5m-2 6h5m3-1h5m-3 5h5m6 2h5m-3-9h5m-4 9h5m-3-2h5m-2-1h5m-1-7h5m-4 4h5m-5-5h5m6-2h5m-4 5h5m-2 3h5m4 0h5m7 3h5m-5 0h5m0-9h5m-2-3h5m6 1h5m7 12h5m4-6h5m-1-8h5m31 5h5m-477 24h5m-1 1h5m-4-6h5m6-8h5m-2 1h5m-2 7h5m1-1h5m1-5h5m-2-2h5m-2 4h5m-1 7h5m7 4h5m1 0h5m-3-9h5m-3 2h5m-4-8h5m-2 4h5m-3-2h5m-4 13h5m-2 0h5m1-7h5m-5-7h5m3 12h5m-2-8h5m-1 5h5m-2 3h5m0-10h5m-4-1h5m-4 0h5m-5 10h5m-2 2h5m-5-4h5m-2-6h5m-2 5h5m-3 1h5m0 0h5m-5-1h5m-1 3h5m-4-7h5m9 3h5m-3-6h5m4-1h5m-4 14h5m-4-3h5m-1-7h5m-3-5h5m-4 9h5m0 2h5m-3-7h5m-5 5h5m-4-1h5m-1-8h5m1 5h5m6 10h5m-4-6h5m-3 5h5m-2 1h5m-4-1h5m-5-1h5m-4-11h5m-4 2h5m-4 6h5m-1-5h5m-5 9h5m1 1h5m-5-9h5m-1 3h5m0-9h5m-4 3h5m-1 10h5m-4-3h5m-3-6h5m-3 0h5m-1-4h5m1 8h5m1 0h5m-5-1h5m-2-2h5m0 0h5m-3-5h5m-1 2h5m-3 3h5m4 6h5m1-7h5m2 2h5m6 5h5m-4-6h5m-1-3h5m-3 10h5m4-10h5m-5 8h5m-3-3h5m6 7h5m6-4h5m-4-2h5m-4-2h5m5 1h5m1-5h5m1 8h5m0-5h5m3 10h5m3-2h5m-1 1h5m2-4h5m2 3h5m-3 0h5m7 1h5m1-4h5m5-1h5m-4-7h5m3 3h5m-1 8h5m-449 11h5m3-2h5m-2-6h5m-2 12h5m-4 0h5m-5-12h5m-2 3h5m3 2h5m12-4h5m-5 5h5m-4-1h5m2 8h5m0-10h5m-4 0h5m2 1h5m1 10h5m-1-13h5m4 14h5m-4-2h5m-3 2h5m-3-8h5m5-1h5m-3 8h5m-5 0h5m7-13h5m10 8h5m-4 3h5m-5-4h5m-1 6h5m-4-3h5m-3-4h5m-4 5h5m-1 3h5m-3 0h5m-1-10h5m-5-3h5m-3 9h5m2-2h5m-1-7h5m-4 13h5m-1-8h5m-2 0h5m0 1h5m-3-4h5m1 10h5m9-6h5m-1-1h5m0 5h5m7 1h5m1-1h5m11-1h5m-4-2h5m-5 2h5m19-9h5m-4 12h5m2 1h5m3-12h5m3 2h5m-4 1h5m1 4h5m4-9h5m5 9h5m-4-3h5m3-3h5m-3 2h5m2 5h5m-4 1h5m5 2h5m-4-3h5m-4-8h5m-4-2h5m-1 0h5m-5 4h5m-3 5h5m3-8h5m11-2h5m-4 2h5m1 1h5m-5 9h5m1-1h5m-5 2h5m1-5h5m0-8h5m-5 1h5m5 7h5m2 1h5m-5-1h5m7 3h5m10-2h5m-431 15h5m-2-4h5m-1 8h5m-4 0h5m-1-7h5m-1-4h5m-3 10h5m2 3h5m-5-13h5m1 10h5m-4 4h5m-5-12h5m-4 2h5m2 3h5m-5 0h5m-1-1h5m-2-6h5m-4 10h5m-3-3h5m1-3h5m-4-2h5m-5 7h5m-4-9h5m1 9h5m-5 2h5m-5-2h5m-5 0h5m-4 3h5m0 2h5m1-9h5m-1-5h5m7 2h5m8-3h5m1 8h5m-4 5h5m-2 0h5m-5 2h5m3-3h5m0-12h5m0 12h5m-4-9h5m-4 0h5m-4 9h5m-3-12h5m-4 10h5m0-5h5m-4-5h5m3 0h5m1 8h5m-4 2h5m8 4h5m-5-4h5m-4-10h5m-4 5h5m3 10h5m-5 0h5m4 0h5m2-15h5m-2 15h5m-4-8h5m-5-4h5m-1 10h5m-1 0h5m-2-12h5m-2 5h5m-1 3h5m-1-3h5m-2 0h5m-3 5h5m0-3h5m-4-1h5m0 3h5m-4-8h5m-3-2h5m-3 4h5m-2 11h5m-4-12h5m-2 1h5m-1-1h5m1 0h5m-5 4h5m3 8h5m-1-5h5m-1-8h5m-5 3h5m9-2h5m-3 8h5m-4-10h5m-5 8h5m-1 0h5m0 5h5m-1-3h5m-1 1h5m-5-8h5m-3 3h5m-5 8h5m2-6h5m-3 6h5m-5-6h5m-5-5h5m-5 11h5m-4-3h5m-5-5h5m-5 5h5m-3-12h5m1 2h5m1 10h5m3-2h5m21-1h5m-4 5h5m0-7h5m6 5h5m1-5h5m9 1h5m-407 9h5m12 9h5m17-5h5m-4 3h5m3-4h5m3 10h5m5-10h5m-3-3h5m2 2h5m-5 6h5m14-9h5m-4 0h5m-2 10h5m7-3h5m-5 0h5m-4 6h5m-3-4h5m2-8h5m1 10h5m-3-8h5m-1 1h5m-5 7h5m7-2h5m-3-2h5m-4 3h5m-5 0h5m-4 4h5m-4-14h5m-2 7h5m1 8h5m0-9h5m-2-4h5m-1 9h5m1-7h5m-1 4h5m5 1h5m-4-2h5m-2 7h5m-2-6h5m4 4h5m-4-2h5m-4 3h5m-4 0h5m-2-10h5m1-3h5m-4 9h5m-4-4h5m8-3h5m0-1h5m4 8h5m-3 3h5m-2-11h5m-2 14h5m2-1h5m-4-8h5m0 6h5m-1-8h5m-5 3h5m1 1h5m-1-1h5m2-5h5m-3 4h5m-3-1h5m6 8h5m3-10h5m-2 4h5m-2-6h5m2 1h5m-3 6h5m-2 5h5m-4-6h5m-2-1h5m1 1h5m-1 2h5m0-2h5m-3-5h5m21 1h5m17 3h5m17 9h5m-449 12h5m12-1h5m6-3h5m-5 6h5m2-9h5m0-1h5m-3 12h5m11-8h5m-5-6h5m-2 13h5m-5-2h5m-2-9h5m10 5h5m-2-4h5m-3 10h5m6-4h5m-4-8h5m9-1h5m0 6h5m1-4h5m7 7h5m-5-1h5m0-5h5m-4 8h5m-4-10h5m-2 4h5m0-1h5m-1-5h5m5 7h5m-4-5h5m1 7h5m-3 0h5m13 5h5m-5-4h5m-4-8h5m3 6h5m-5 4h5m-2-5h5m-4-1h5m0 0h5m-4 9h5m-4 0h5m-2-9h5m-3 2h5m-5 0h5m3 2h5m1-1h5m-4 3h5m1-4h5m-4 3h5m-5 0h5m4 3h5m-5-10h5m-4 11h5m-4-15h5m-3 10h5m6-9h5m-5 12h5m2-10h5m1 10h5m2-10h5m-1 10h5m1 2h5m-5-14h5m-4 6h5m6-6h5m-3 14h5m1-3h5m-3-9h5m3 10h5m-3-11h5m-2 1h5m-5 9h5m-3-2h5m1 3h5m-2-5h5m-5-7h5m-2 3h5m-1-4h5m-3 15h5m-5-6h5m-5-7h5m-1 7h5m-4 6h5m-4-2h5m4-2h5m-4-11h5m-3 10h5m-5 2h5m-5-5h5m-4 1h5m0 5h5m1 2h5m-4-10h5m4 3h5m-1-7h5m4-1h5m3 3h5m0 11h5m-4-2h5m-5-3h5m21-1h5m22-2h5m47-3h5m-521 18h5m4-5h5m12 2h5m-4-2h5m-3 3h5m-2 4h5m12-7h5m30 8h5m10-3h5m-4 7h5m-2-9h5m-3 2h5m14 4h5m1 2h5m8-7h5m4 6h5m14-7h5m-5 3h5m-1 1h5m-1 5h5m-3-12h5m-5 1h5m-2 13h5m9-9h5m10 1h5m-5-1h5m-5-3h5m-4-2h5m0 11h5m-3-10h5m-3 14h5m0-8h5m-2 7h5m4-7h5m-4 6h5m-4-3h5m-3-8h5m-2 4h5m-4 6h5m-2 1h5m0-9h5m8 4h5m-3-1h5m-2-5h5m-1-2h5m-4 5h5m6 3h5m1 5h5m-4-4h5m-3 5h5m3-12h5m-3-1h5m-5 5h5m2 0h5m-3 1h5m-5 4h5m3 4h5m-1-9h5m-4 6h5m4-8h5m-3 10h5m-3-2h5m-4-7h5m3-4h5m-4 11h5m7-8h5m3 2h5m-3 1h5m-5 6h5m1-12h5m-3 5h5m-3 4h5m-2-9h5m1 13h5m5-8h5m-4-3h5m-3 10h5m2-2h5m5 4h5m14-15h5m-448 17h5m26 7h5m9 1h5m0-7h5m9 10h5m4 0h5m-2-6h5m12 1h5m8 1h5m0-8h5m7 10h5m-2-3h5m0 3h5m9-6h5m-1 7h5m0-11h5m4 1h5m3 12h5m-5-8h5m-2 0h5m-4 2h5m0 8h5m-4-9h5m-2 9h5m-5-4h5m-1-2h5m-2-1h5m-5-4h5m12-1h5m-3 5h5m-4-3h5m2 9h5m4-14h5m-1 9h5m-3 4h5m13-5h5m-3-2h5m-4 2h5m-5 3h5m-2-8h5m-4 3h5m-1 5h5m-4-8h5m-4 1h5m5 10h5m-4-12h5m-3-2h5m-1 3h5m-2-1h5m-5 12h5m-1-9h5m-2 1h5m1-2h5m-5 10h5m2-13h5m-4 11h5m-2-7h5m-1 2h5m-3 3h5m-5-10h5m-1 7h5m-4-5h5m-4 5h5m-3 6h5m-1-2h5m-3-9h5m-2 1h5m6 11h5m5-10h5m-5 9h5m6-7h5m-3 3h5m-5 4h5m10-3h5m-1 5h5m-3-7h5m-3-4h5m-3 10h5m-4-8h5m-2-4h5m0 12h5m-3-4h5m1-4h5m-403 16h5m26-5h5m44-1h5m-4 5h5m8 5h5m2-6h5m28 10h5m5-3h5m1-7h5m-4 8h5m-3-3h5m-1-6h5m2 10h5m0-10h5m-3 8h5m-4 3h5m-4-9h5m-5 4h5m-4-6h5m8 5h5m-3 1h5m-1 5h5m0-4h5m11-2h5m1-3h5m-4-4h5m-4 13h5m-3-5h5m1 2h5m2 1h5m-3 0h5m0-10h5m-3 1h5m-4 8h5m-4-9h5m-2 6h5m-2 0h5m20 5h5m1-2h5m-5 4h5m-3-1h5m-5-5h5m1 3h5m-4 3h5m-1-8h5m-3-7h5m-4 15h5m4-9h5m-5-5h5m-3 3h5m-3 5h5m3-4h5m-4 5h5m-2-2h5m-2 7h5m-5-13h5m-3 1h5m-4 11h5m0-8h5m0-1h5m-3 5h5m6-8h5m-5 7h5m-3 2h5m13 3h5m0 0h5m-1-6h5m-5-3h5m1-2h5m-3 10h5m-4-4h5m-3-5h5m-413 19h5m114-2h5m-2 10h5m12-5h5m-4-4h5m12-2h5m-3 9h5m-4 2h5m1-4h5m10-9h5m7-2h5m-2 10h5m-2-9h5m-2 0h5m5 7h5m-5 6h5m-1-3h5m-3-3h5m-5-1h5m-4-1h5m2-3h5m-2 8h5m2-10h5m4-1h5m-4 0h5m-5 11h5m-2-3h5m3 7h5m-3-11h5m-3 5h5m0-5h5m2-3h5m8 7h5m-3 1h5m-1 3h5m-4-11h5m-4 10h5m2-1h5m0-4h5m-2 4h5m-4 0h5m-4 2h5m-4-8h5m-1-4h5m-4 9h5m-4-5h5m-2 8h5m-5-12h5m9 0h5m-3 3h5m-3 8h5m-3 4h5m-4-5h5m-5 4h5m-3-13h5m-2 8h5m-4-3h5m1 1h5m0-3h5m3 8h5m2-4h5m0 3h5m-2-1h5m-3 0h5m-3-2h5m5 0h5m-3 0h5m-3-7h5m5 2h5m-2 0h5m-4-3h5m-377 23h5m16-6h5m1 8h5m43 1h5m13-7h5m-2 7h5m4-7h5m14 1h5m-5 5h5m-3 1h5m-4-3h5m-5-6h5m1-1h5m5 3h5m-2 9h5m-3-5h5m-4-1h5m-2 1h5m14 3h5m-5-2h5m-3 5h5m-3 2h5m-4-10h5m-2 2h5m-5 8h5m-2-12h5m-4-2h5m3 12h5m0-12h5m0 12h5m-2-3h5m-5 5h5m-3-1h5m-2-9h5m-2-3h5m-5 3h5m-4 7h5m-2-12h5m0 15h5m-1-8h5m-4-4h5m-5 12h5m-4-2h5m-3-13h5m-2 14h5m7-8h5m-4 6h5m0-1h5m-3-4h5m-4-5h5m-4 11h5m-4-1h5m-2 1h5m-4-8h5m-3-5h5m-2 6h5m-4-2h5m-4 8h5m-5-7h5m14 8h5m-5-1h5m5 0h5m-3 2h5m1-6h5m7 4h5m-4 0h5m0-9h5m2 11h5m7 1h5m-1-13h5m-2 2h5m-2 2h5m0 5h5m-3-1h5m-1-9h5m0 0h5m-330 27h5m15-2h5m2-3h5m11 1h5m35-5h5m-4 6h5m0-6h5m0 10h5m-4-1h5m-4 2h5m1-1h5m-2-11h5m-4 3h5m-4 8h5m-1 2h5m0-6h5m6 6h5m-4-9h5m-1 7h5m1 0h5m8-1h5m3-7h5m-3 9h5m-4-1h5m2-13h5m-4 12h5m-1-8h5m-4-2h5m-2 0h5m10 13h5m-4-8h5m-5 2h5m-4-3h5m4-4h5m0 4h5m-1 6h5m-4-2h5m-4-10h5m-4 7h5m-2-6h5m-4 9h5m1-10h5m-4 13h5m0-7h5m1 3h5m-3 3h5m12-8h5m-4 8h5m15-5h5m-2 3h5m-4-3h5m1-4h5m-2-1h5m4 11h5m8-9h5m-3-4h5m-1 3h5m-385 16h5m26 6h5m119 4h5m4-7h5m-5-6h5m-4 4h5m3 7h5m2-2h5m24 0h5m3-1h5m-2-6h5m0 4h5m-5 0h5m4 3h5m-1-8h5m-4 8h5m-5-6h5m2-3h5m7 4h5m-2-1h5m1 2h5m-4-5h5m-3 6h5m-1 4h5m-4-9h5m0 2h5m-4-2h5m-4 7h5m-1-1h5m1 0h5m1 1h5m7-8h5m2 3h5m4 0h5m50 8h5"/><path stroke="#1e1ed0" d="M715 1759h5m6-6h5m-41 13h5m9 4h5m-2 0h5m-3-8h5m8 9h5m7 4h5m-4-11h5m-5 9h5m-61 17h5m-1-4h5m-3 2h5m1-3h5m-2 2h5m0-1h5m2 3h5m11-12h5m-2 3h5m2 1h5m-3 0h5m0 9h5m-70 16h5m2-13h5m-2 4h5m-3-5h5m6 7h5m-2-7h5m-22 17h5m5 1h5m-5-1h5m-42 317h5m10-1h5m19-4h5m-124 20h5m27-12h5m14 0h5m13 2h5m9 1h5m3 11h5m-1-14h5m-130 23h5m-2 4h5m1 3h5m-1-1h5m1-3h5m-2 0h5m-4 2h5m3-8h5m1 10h5m-5-2h5m-1-3h5m-3-10h5m-3 9h5m17 5h5m-5-4h5m-4-7h5m1 2h5m3 6h5m1-9h5m17 1h5m-1 7h5m4-9h5m-1 10h5m-4 2h5m-2-13h5m-2 1h5m5 14h5m-1-7h5m11-5h5m-225 21h5m21 3h5m2-8h5m0 10h5m-3-7h5m3 0h5m3 9h5m0-1h5m-1-11h5m-4 8h5m-1-8h5m-3 1h5m-3-3h5m-3-1h5m0 4h5m-1 1h5m0-1h5m-3-4h5m-4 9h5m-1-9h5m-5 9h5m5 0h5m-1-3h5m1 2h5m-3-6h5m-3 1h5m-4 11h5m-2-7h5m-5 7h5m-1-10h5m-4 1h5m12 1h5m-4-3h5m8 6h5m1-2h5m-1 5h5m-1 3h5m-5 0h5m-5-9h5m-3-1h5m2-3h5m3-2h5m13 5h5m-246 25h5m31-9h5m6 2h5m6-7h5m-2 2h5m-4 11h5m-5-11h5m-2 10h5m0-6h5m-4 4h5m-5 4h5m-2-4h5m-5-2h5m-4-8h5m-3 15h5m-3-4h5m0 2h5m-4-2h5m-4-6h5m4 3h5m-4-5h5m-2 4h5m-5 6h5m1-5h5m-4-5h5m5 4h5m-5 3h5m1-6h5m0-4h5m-5 7h5m-4 5h5m0-8h5m-2 7h5m-4 2h5m-5-5h5m1-5h5m1-2h5m2 14h5m-2-5h5m-4-7h5m-4 12h5m-4-11h5m1 2h5m3 0h5m4 0h5m8 2h5m2-1h5m0-4h5m-4 9h5m-4 0h5m2-3h5m-1-7h5m12 4h5m-259 11h5m-1 12h5m18 0h5m-1-8h5m12-5h5m-1 8h5m-1 6h5m-1-7h5m-4 2h5m-4-3h5m4 4h5m4-3h5m-3 7h5m-5-9h5m-4 2h5m-1 6h5m1-8h5m-4 9h5m-2-14h5m-5 0h5m-4 13h5m1-3h5m0-1h5m-4 6h5m-5-5h5m1-3h5m-5 4h5m8-9h5m-1 4h5m12-2h5m-2 8h5m1-6h5m-2-1h5m35-2h5m-2 0h5m7 9h5m2 0h5m-2 3h5m-5-12h5m-313 13h5m61 11h5m-5 4h5m4-8h5m-4 5h5m0-2h5m-1 2h5m-3-5h5m22 3h5m-4-3h5m-1-4h5m5 7h5m-5 3h5m2-5h5m-3-3h5m0 10h5m-1-2h5m1-9h5m4 10h5m7-12h5m-2-1h5m-2 10h5m0 4h5m-2-5h5m-3-3h5m-1-7h5m-5 3h5m-5 5h5m-4 0h5m-2 5h5m-1-4h5m-4-6h5m9 9h5m-3 1h5m0-4h5m-4-3h5m-3 8h5m7 0h5m-1-8h5m-4 4h5m15-7h5m7 5h5m-2-1h5m-5 4h5m-3-3h5m6-8h5m1 13h5m-4-4h5m-406 15h5m11 3h5m43-5h5m9 5h5m8-4h5m0 5h5m15-8h5m7 6h5m9 5h5m9-13h5m4 12h5m13-2h5m-4 0h5m0-7h5m7 6h5m12-3h5m5-7h5m0 13h5m2-11h5m-4 10h5m-4-11h5m-2 1h5m6 4h5m0-4h5m-3 12h5m2-5h5m-4-2h5m-2-8h5m1 13h5m-4-8h5m-3-3h5m-1 1h5m-3 12h5m-4-8h5m-3 4h5m6-4h5m-2-2h5m-2-3h5m-4 5h5m-2-4h5m-4 11h5m17-10h5m0-2h5m4 1h5m-4 5h5m1-3h5m9-5h5m7 10h5m-4 3h5m8-2h5m-3 4h5m15-3h5m-433 19h5m2 0h5m-5-4h5m-1-6h5m10 9h5m11-11h5m-2 8h5m13-7h5m9 3h5m7 3h5m11-1h5m-5-6h5m-4 10h5m0 0h5m6-1h5m-3-5h5m-3-4h5m-1 7h5m9 3h5m-1-3h5m-2-4h5m-3-4h5m0-2h5m-5 4h5m9 3h5m-1 8h5m3-2h5m10-4h5m-2 0h5m0-1h5m-3 2h5m-4 2h5m1 1h5m-1 2h5m13-9h5m12 9h5m-2-15h5m-2 9h5m-4-2h5m-3 3h5m-3-3h5m-4 3h5m-4-2h5m0-6h5m-3-1h5m-4 0h5m1 6h5m4-1h5m-3 6h5m14-8h5m0 10h5m-4 0h5m-3-11h5m-4-3h5m-4 12h5m0-5h5m-4 6h5m2-3h5m-4 1h5m-4-8h5m0 12h5m-3-13h5m-4 1h5m-2 7h5m-2-4h5m22 2h5m2 3h5m-3 0h5m-3-11h5m-4 7h5m-4-1h5m2-6h5m-2 8h5m0 4h5m13-12h5m2 12h5m-5-12h5m-428 16h5m9 1h5m-3 13h5m-2 0h5m-3 1h5m-2-6h5m-4 3h5m4 2h5m-3-7h5m-4 8h5m5-14h5m5 13h5m-4-5h5m-1 3h5m-5-7h5m2-2h5m2 7h5m3-7h5m0-3h5m-4 11h5m1 2h5m5-3h5m0-6h5m10 4h5m-3-5h5m-3 4h5m-5 2h5m-2 4h5m-5-7h5m-4-6h5m-2 0h5m-2 10h5m-2-10h5m0 6h5m-3 5h5m-2-9h5m1 9h5m-1-3h5m3-1h5m-5 5h5m-3-5h5m0-6h5m-3 0h5m-3 7h5m-2 0h5m-3-1h5m0 8h5m4-11h5m-4-3h5m-4 9h5m-5-10h5m-5 9h5m-3 5h5m-4-12h5m-3 5h5m-2 4h5m-4-6h5m-4 6h5m3-6h5m-4-2h5m-5-3h5m-3 7h5m-1 1h5m1 3h5m6 4h5m-5-10h5m0 3h5m1-7h5m-5 13h5m-4-6h5m-1-3h5m-4-4h5m3 3h5m5 2h5m-3 3h5m-4-9h5m-4 6h5m-4 4h5m-3-6h5m0-3h5m1 14h5m1-11h5m-4-3h5m-2 12h5m-3 1h5m0-14h5m-3 13h5m1-6h5m-3 7h5m-4-10h5m0 4h5m-4-6h5m-4 0h5m-5 2h5m-1 9h5m2 2h5m5-12h5m-3-3h5m-2 8h5m2-7h5m0 10h5m-4-4h5m-3 2h5m-4-7h5m-3 6h5m1-4h5m1-2h5m-2 13h5m2-3h5m-3-5h5m-5 0h5m1-3h5m3 6h5m-4 2h5m-438 19h5m-5-9h5m13 4h5m-3-3h5m0 0h5m17 5h5m-4-9h5m2 10h5m-2-7h5m8 0h5m1 9h5m-4-11h5m2 7h5m-1 2h5m-1 0h5m11-8h5m18-4h5m-4 6h5m-4 6h5m-3-9h5m2 9h5m-4-6h5m-1-4h5m-3 9h5m-3-6h5m1 2h5m0-3h5m-5 10h5m-2-4h5m-4 0h5m-2-7h5m-2 7h5m-4-5h5m-3 5h5m-5-7h5m-4 4h5m-3 0h5m0 2h5m0 2h5m1-2h5m-2 1h5m-3 2h5m-4-6h5m0-3h5m7 3h5m0-2h5m-3 5h5m-3 0h5m-4-9h5m-2 11h5m-5-10h5m-3-1h5m-3 7h5m-4-4h5m-3 10h5m-2-1h5m-1-8h5m-4 7h5m1 3h5m-2-7h5m1-3h5m-3-5h5m0 15h5m-4-10h5m-3 5h5m-5-2h5m1 0h5m-3 4h5m5-4h5m19-7h5m-4 8h5m-1 4h5m-2-3h5m-3-2h5m-2 4h5m-3-11h5m3 12h5m4-5h5m-3 3h5m-3 0h5m10-9h5m-2 1h5m-4 6h5m-4 6h5m2-11h5m0-1h5m0 7h5m-5 5h5m13-6h5m-5-1h5m0 5h5m6-13h5m-2 10h5m-4-6h5m-2 4h5m-4 3h5m-4 1h5m-2-12h5m1 11h5m5-4h5m-448 22h5m3-4h5m5-4h5m-3 7h5m6-12h5m-3 5h5m5-1h5m-5-2h5m-4 1h5m-4 6h5m0 5h5m4-9h5m-4 2h5m1-4h5m-2 3h5m0-6h5m-3 11h5m4-1h5m-5-1h5m-2 4h5m-3-7h5m-3 0h5m-4-1h5m-3 1h5m0-3h5m-4 1h5m-2 8h5m-5-6h5m-5 1h5m-3 3h5m2-6h5m-5 2h5m-3-4h5m-2-1h5m-3 14h5m-1-5h5m-4 4h5m1-6h5m-5-2h5m-3 4h5m-1-9h5m-4 5h5m-4-3h5m-4-3h5m-5 11h5m-3-1h5m-2 1h5m-5 0h5m-4-2h5m-3-6h5m0 3h5m-3 9h5m0-12h5m-2-3h5m-4 8h5m-4 6h5m4-10h5m1 7h5m-1-2h5m3 6h5m0-12h5m-2 7h5m-1 3h5m-4-2h5m-5-6h5m-4 0h5m-1 4h5m3-9h5m-5 1h5m5-1h5m13 15h5m-4-4h5m-3 1h5m-1-7h5m-1-2h5m-2-2h5m-5 3h5m1 2h5m-4 9h5m-3 0h5m0-15h5m7 14h5m4-5h5m-3-1h5m-1-2h5m16 1h5m1-5h5m4 3h5m-4-3h5m3 3h5m-2-3h5m10 8h5m-2 3h5m-5 2h5m-5-3h5m-2-3h5m0 1h5m0 0h5m-4-4h5m1-1h5m-2 4h5m-3-1h5m-3 4h5m-4-11h5m-1-1h5m-4 13h5m-4-12h5m-2 5h5m1-5h5m-3 11h5m14 1h5m0-4h5m0 2h5m-4-9h5m-3 2h5m-435 16h5m5 3h5m-4-4h5m5 6h5m-1-9h5m-2 13h5m-3-10h5m-4 4h5m0 1h5m-2-3h5m4-4h5m-2 13h5m1-11h5m-5 11h5m-5-8h5m-4 7h5m0-4h5m-4-6h5m-2 2h5m-3 3h5m2 5h5m-2-9h5m-5-3h5m9 7h5m0 4h5m-2 3h5m-5-3h5m-1-9h5m12 5h5m-5 7h5m-1-1h5m-5-9h5m-3 4h5m-2 4h5m-1-4h5m-5 5h5m-4-7h5m1-5h5m-4-1h5m-5 9h5m-4-10h5m-2 14h5m-1-4h5m-1-6h5m-5 8h5m1 0h5m-4-11h5m-5-1h5m-3 2h5m-5-1h5m-3 11h5m-4-2h5m-4 3h5m0-13h5m-4 6h5m-4-6h5m-3 0h5m-4 14h5m-1-4h5m-4 4h5m-2-11h5m-4-3h5m-3 14h5m-2-8h5m-5-2h5m-5 0h5m4 7h5m-4-2h5m-3-7h5m9 4h5m-5 9h5m-1-7h5m-3 6h5m-3-10h5m-1 10h5m-3-5h5m2 6h5m-4-13h5m-2 8h5m-4-5h5m0 3h5m-3 6h5m-1 0h5m-2-9h5m-4 2h5m-2-4h5m5-2h5m-4 14h5m-5-14h5m2 13h5m-4-4h5m0-3h5m11 3h5m8-8h5m-4 1h5m-3-3h5m-3 3h5m2 1h5m-5 5h5m3-7h5m-3 11h5m-1-5h5m-4-1h5m5-4h5m-2 1h5m-5 5h5m-2 0h5m3-8h5m-2 10h5m5-3h5m5 4h5m0-6h5m-4 8h5m-5-11h5m-4 0h5m7-3h5m19 5h5m-453 25h5m-1-9h5m11-2h5m-4 5h5m3 5h5m-2-13h5m-2 6h5m-2 4h5m-3 0h5m3 4h5m-2-8h5m-5 9h5m-4-4h5m2-8h5m3 12h5m-3-8h5m-4 5h5m-5-5h5m-5 5h5m-4-9h5m4 7h5m-4 3h5m3-10h5m-2 7h5m0 3h5m-3-9h5m-3 0h5m-1-3h5m-4 4h5m0-2h5m-3 3h5m1 4h5m-5-9h5m0 9h5m-5-6h5m3 2h5m-4 8h5m-4-2h5m-2 1h5m-5-5h5m3-5h5m1 9h5m0-5h5m1-4h5m-5 6h5m-5-1h5m-2-7h5m-5 6h5m-3-7h5m-2 15h5m-4-15h5m-4 8h5m-2 4h5m-5 0h5m0-12h5m-5 2h5m-5 4h5m-4-1h5m-5-3h5m-3 12h5m-5-4h5m-1-6h5m-2 8h5m1-1h5m-4-9h5m-4 1h5m-4 12h5m-4 0h5m-3-4h5m0-7h5m-1 11h5m-3-5h5m-3-10h5m-2 8h5m-4 5h5m-3-5h5m-2-2h5m-5 5h5m10-8h5m-3 10h5m-2-7h5m-5 5h5m1-7h5m-3 10h5m-4-2h5m-3-9h5m2 7h5m0-2h5m-3-7h5m-3 10h5m0-7h5m5-3h5m-3 7h5m-4 3h5m6 2h5m-1-4h5m-4 6h5m-3-9h5m-1 3h5m-2 5h5m-4-12h5m-2 1h5m-3 5h5m0-3h5m1 7h5m-5-2h5m-4 1h5m7-1h5m-2 0h5m1-9h5m12 12h5m-4-12h5m-4 3h5m-3 7h5m-2 3h5m-4-4h5m-4-2h5m-4 2h5m-5-1h5m-4 1h5m-2-3h5m-4-6h5m1 8h5m-3-8h5m-4 14h5m-1-2h5m-1-13h5m2 2h5m-4 11h5m-1-10h5m-3 1h5m-5-4h5m4 5h5m-4-1h5m-1 7h5m-4-9h5m-1 0h5m-2 10h5m5-11h5m-442 15h5m10 2h5m10 8h5m1 2h5m-4-8h5m-1-4h5m-3 4h5m-5 2h5m-1 8h5m-4-9h5m-4 1h5m-3 6h5m-2-3h5m-1-2h5m-1-7h5m-4 13h5m-4-6h5m0-4h5m2 12h5m1-2h5m-5-7h5m-2 6h5m-1 2h5m-5-6h5m0-7h5m-5 11h5m-3-9h5m-5-2h5m-2 7h5m0-8h5m-4 7h5m-5 8h5m-2 0h5m-5-15h5m-3 0h5m-5 3h5m0 0h5m1 11h5m-2-13h5m-1 0h5m-3 14h5m-4-13h5m0 7h5m-4-6h5m2 2h5m0 0h5m0 10h5m-3-15h5m0 0h5m-3 5h5m1 5h5m-4-10h5m-5 6h5m-1 5h5m1-3h5m0 7h5m-5-14h5m5 13h5m1-14h5m-3 2h5m-4 4h5m0 2h5m-4 7h5m-5-9h5m5 6h5m-1-10h5m-5 6h5m-4 0h5m3 7h5m-4-9h5m-5-2h5m-4-4h5m-4 13h5m6 0h5m0 2h5m-1-4h5m-3-9h5m-4-2h5m-4 5h5m0-4h5m7 6h5m-1 6h5m-4 0h5m-1-10h5m-4 8h5m-3 2h5m-1-2h5m-2-3h5m-4 4h5m-4 1h5m-2-6h5m-4 0h5m-4 4h5m-1-2h5m-4 6h5m-4-13h5m13 13h5m1-10h5m-4-5h5m-2 4h5m-5 8h5m-2-12h5m-2 15h5m0 0h5m-5-4h5m0 0h5m-4-10h5m-4 3h5m-3 1h5m-5 7h5m7-6h5m-4-3h5m-4 6h5m0-1h5m-2 1h5m-4-3h5m-1 3h5m-4-1h5m-1-2h5m0-1h5m-5-5h5m-5 7h5m-4-1h5m-5-5h5m-2 12h5m1 2h5m8-8h5m-2 3h5m-424 13h5m8-4h5m-2 10h5m-3-11h5m-2 3h5m-3 8h5m3-7h5m1 0h5m0-3h5m-4-2h5m-4 6h5m-2-7h5m-3 7h5m0 2h5m-1-1h5m3 7h5m-3-3h5m-1 0h5m-4-11h5m3 11h5m-5-10h5m-4 3h5m-5 8h5m-4-3h5m-2 0h5m2-8h5m-3 11h5m-5-2h5m13-11h5m-5 15h5m-4 0h5m-1-8h5m3-4h5m-5 12h5m-2-9h5m-3 9h5m4-1h5m0-1h5m-4 1h5m-2-7h5m-2-6h5m-4 11h5m-4 0h5m-3-11h5m-4 14h5m-4-1h5m0-10h5m-2 11h5m-3-11h5m-2 4h5m-5-1h5m-3 4h5m-3-6h5m2 2h5m-4 7h5m-5 0h5m0 1h5m-2-15h5m-2 6h5m-4 9h5m-2-9h5m3 7h5m-2-1h5m-2-10h5m3 4h5m-1-3h5m2 10h5m-2-4h5m-4 2h5m-3 0h5m3-10h5m-1 14h5m-2-15h5m-4 1h5m-1 0h5m-1 9h5m-1 0h5m-4-2h5m-4-4h5m-3-3h5m-4 6h5m0 4h5m-2-9h5m-5 6h5m-4-6h5m-3-2h5m3 2h5m2 4h5m-2-4h5m-1 10h5m-2 3h5m3-5h5m0-5h5m1 9h5m0-11h5m0 9h5m-3 1h5m-4-13h5m-2 13h5m-5-5h5m-4 4h5m0-12h5m0 6h5m1 1h5m-4 6h5m-4-6h5m-2 7h5m2-7h5m-4-7h5m-4 3h5m-2-3h5m32 14h5m-5-3h5m-1-8h5m-4 1h5m10 10h5m-425 15h5m6-9h5m-4-4h5m-1 14h5m1-12h5m-3 2h5m-1 0h5m3 10h5m-5-3h5m3 4h5m-4-11h5m-3 4h5m-4-4h5m-3-3h5m-4 0h5m-4 9h5m1-8h5m-4 13h5m-1-12h5m-4 8h5m-2-7h5m-4-1h5m-5 8h5m0-3h5m0 3h5m-4-11h5m-2 3h5m-1 8h5m-5-7h5m-1 10h5m-4-4h5m-3-5h5m-3-4h5m-3 7h5m-2 6h5m-1-5h5m-3-2h5m-5 2h5m-4 2h5m-3 4h5m-2-14h5m-4 4h5m5 6h5m-5 2h5m-1-4h5m-3 6h5m0-12h5m-1 5h5m4-3h5m-2 4h5m-3-4h5m0 7h5m-4-9h5m-5 6h5m-3 5h5m-4-4h5m-5 1h5m0-11h5m19 14h5m-2 0h5m3 1h5m-5-14h5m-4 10h5m-4-9h5m-4-2h5m-4 7h5m-2 7h5m-3-2h5m-1-6h5m1 7h5m5-10h5m-2 9h5m-5-1h5m-4 1h5m6-6h5m1-1h5m-2 9h5m3-2h5m-2 1h5m-4-7h5m-4 1h5m-5-3h5m-4 4h5m4-6h5m-5 3h5m-5-4h5m-5 2h5m-1 10h5m-4-5h5m-2-1h5m-4 7h5m-2-2h5m1-8h5m-3 6h5m10-7h5m-1 9h5m-5-3h5m-5-4h5m-3 6h5m-2-7h5m-5 1h5m-3 8h5m-1-12h5m2 8h5m-1 1h5m6-5h5m0 2h5m21 1h5m2 3h5m9-8h5m-4 4h5m-426 16h5m10 5h5m-4-3h5m-4-9h5m2 7h5m5 0h5m0 1h5m-1 1h5m6-5h5m-3 10h5m-3-5h5m-1 5h5m-3-11h5m8-2h5m-4 1h5m-4 6h5m-2-6h5m-1 9h5m3-4h5m-3 8h5m6-13h5m-3 9h5m-5-2h5m-4-6h5m-2 11h5m0-4h5m-2-2h5m-3-8h5m4 2h5m-4 6h5m-2-1h5m0-1h5m2 2h5m-1-3h5m2 6h5m-3-3h5m0-7h5m-2 2h5m-2 6h5m-3-9h5m-2 1h5m-5 1h5m0 6h5m-2-3h5m3 7h5m13-11h5m-5 6h5m-5 8h5m-2-4h5m-4-2h5m-4-7h5m9-1h5m0 14h5m3-5h5m-2 3h5m12-7h5m-4 1h5m-5-1h5m-3-1h5m-2 6h5m-4-5h5m-1 5h5m-5-4h5m8 6h5m-5-5h5m-3-7h5m-3 11h5m-3-4h5m-2-2h5m-4 1h5m-4-7h5m-3 4h5m-5 3h5m11-6h5m-3 7h5m-3-5h5m1 5h5m-5 1h5m-2-5h5m-3-2h5m-3 3h5m-1-2h5m-1-3h5m5 3h5m1 4h5m-2-6h5m14 1h5m-2 0h5m-2 4h5m-4 2h5m4-4h5m7 3h5m-408 14h5m15-2h5m11 2h5m3-3h5m12 5h5m-3-3h5m-5 8h5m-3-11h5m2 5h5m-4 3h5m-3 4h5m-3-4h5m-4-5h5m10 9h5m2-7h5m-2 1h5m-4 5h5m-4 3h5m-3-4h5m7-2h5m-5 5h5m1-6h5m6-7h5m-3 2h5m4 3h5m2-3h5m0 6h5m-4-9h5m3 2h5m7 12h5m-2-4h5m-3 3h5m8 0h5m-4-9h5m-4 3h5m-4-2h5m1 7h5m-5-6h5m0-6h5m-2 8h5m-2-4h5m-2-1h5m1-1h5m-1 9h5m26 0h5m2-5h5m-4-2h5m-4 7h5m4-8h5m-3 12h5m-3-5h5m-1-3h5m-2-2h5m-3 10h5m2-1h5m9 1h5m-4-14h5m-3 7h5m-3-3h5m-1-1h5m-4-1h5m0 11h5m22-5h5m-4-9h5m8 9h5m2-5h5m-3 5h5m-4 4h5m5-11h5m-351 29h5m4-9h5m3 6h5m13-10h5m-2 3h5m-2 0h5m-4 10h5m-4-11h5m-4 2h5m22-1h5m1 2h5m5 4h5m-4-9h5m-4 13h5m11-4h5m-4-8h5m-4 6h5m-5 0h5m5-5h5m-5 3h5m4 7h5m1-9h5m-2 4h5m5 2h5m0-7h5m-4 0h5m-3 3h5m5 7h5m-2-5h5m-4-8h5m-3 11h5m-5-9h5m-4 4h5m1 6h5m11-11h5m3 1h5m-5 1h5m16 4h5m-3 6h5m-4-9h5m1 7h5m-4-8h5m2 3h5m5-3h5m-3 5h5m-5 0h5m1 3h5m-2-4h5m-2 0h5m0 5h5m3-9h5m1 10h5m1-1h5m-3 2h5m35-9h5m-2 5h5m-364 7h5m27-2h5m15 5h5m7 7h5m1-5h5m-3 6h5m-5-12h5m-2 1h5m-5-2h5m-3 12h5m28-8h5m18-2h5m4 12h5m-4-12h5m-4 10h5m-1-7h5m0-4h5m4-1h5m19 13h5m0-4h5m4 4h5m-5-12h5m-3 0h5m5 6h5m-1 2h5m-5-8h5m-4 7h5m-4 0h5m3 2h5m-5-7h5m-5 7h5m-3 3h5m15 0h5m-5-10h5m-4-3h5m-1 13h5m-5-6h5m-4 3h5m1-8h5m-1 9h5m4 0h5m2-11h5m1 1h5m-4 10h5m2-10h5m8 1h5m3 7h5m39 6h5m-4-9h5m-347 16h5m15-2h5m18-1h5m10-2h5m6 3h5m8 3h5m6-1h5m-3 4h5m-1 3h5m-4-3h5m-4 3h5m2-2h5m2-11h5m7 14h5m9-1h5m2-12h5m19 1h5m-4 2h5m-4 5h5m-3 4h5m20-6h5m-1 2h5m-5-5h5m-2 3h5m2 3h5m4-6h5m-2 5h5m-3-4h5m-1-4h5m-1 7h5m-5 5h5m-1-13h5m-1 5h5m-4 9h5m-1-12h5m-2 5h5m-5-3h5m-2 11h5m-2 0h5m-3-10h5m1 1h5m1 8h5m-4 0h5m8 0h5m-3-12h5m-4 6h5m1-8h5m1 8h5m11 4h5m-239 6h5m0 8h5m-5 0h5m7-7h5m17 4h5m-3 7h5m21-14h5m1 9h5m8 2h5m-5-3h5m-2-7h5m-4 10h5m10-11h5m9 14h5m4 0h5m0-9h5m8 1h5m-5-1h5m-2 8h5m-3-2h5m13 0h5m-3-4h5m-4-5h5m-3 13h5m-3-5h5m-4 1h5m0-11h5m-2 3h5m-191 21h5m-1-6h5m28 5h5m-5 6h5m13 1h5m3-5h5m-5-2h5m10 1h5m2-8h5m-4 12h5m3 2h5m3-12h5m-2 3h5m3 0h5m11 0h5m-5-1h5m-3-3h5m-4 12h5m-1-7h5m-1 5h5m-3-9h5m-1 5h5m-4 3h5m-4 3h5m0 2h5m-4-7h5m-1-4h5m-4-2h5m-5 13h5m-5-2h5m12-6h5m-2-3h5m21 10h5m9-7h5m0 5h5m-178 16h5m0-12h5m8 7h5m0 5h5m-3 2h5m0-10h5m-4-3h5m-2 10h5m8 0h5m-3-8h5m-1 12h5m2-4h5m19-4h5m-4 0h5m-4-7h5m-1 9h5m0-5h5m-2 5h5m-3-7h5m2 0h5m-1 12h5m-4 0h5m-3-9h5m11 9h5m2-1h5m-4 2h5m10 0h5m-4-9h5m-5 9h5m7-10h5m-187 19h5m12-3h5m-4 1h5m-1 8h5m1-1h5m-5-11h5m8 13h5m6-11h5m-1 5h5m1 1h5m-4 5h5m0-2h5m-2-7h5m-4-3h5m-4-2h5m-3 13h5m-1-2h5m5-8h5m2 0h5m2 7h5m-4-5h5m-4-3h5m-4 3h5m-5 9h5m-1-6h5m0-2h5m-5 5h5m4-8h5m10-3h5m24 11h5m5 1h5m-179 9h5m-1 0h5m18 8h5m10-7h5m-3 2h5m11-8h5m-4 4h5m8 5h5m2-1h5m20-3h5m-1 7h5m-4-2h5m-2-2h5m-3 2h5m2-2h5m-4-3h5m-3 6h5m20-10h5m6 8h5m4-4h5m2 5h5m-165 6h5m0-1h5m5 12h5m-2 1h5m-1-8h5m-4 0h5m-5-5h5m10 13h5m1-5h5m-4-7h5m15 1h5m4 11h5m10-13h5m-3 4h5m11-1h5m11 11h5m-3-6h5m-2 7h5m-3-6h5m26-9h5m11 10h5m-3 3h5m-159 10h5m-5-4h5m-1 6h5m0 2h5m-4-6h5m5 6h5m4-10h5m-4 8h5m-1-9h5m-2 11h5m0 1h5m-1 3h5m-5-6h5m1-5h5m0-4h5m3 0h5m14 2h5m19 0h5m-4 3h5m4 6h5m-5-11h5m-4 11h5m-3 4h5m-4-10h5m13 7h5m-158 7h5m-4 0h5m1 11h5m13 1h5m6-13h5m-4-1h5m1 7h5m1 5h5m5-8h5m3-5h5m-3 11h5m3-10h5m-4 10h5m-3 0h5m-3-7h5m-2 8h5m18-5h5m9 6h5m0 0h5m2-3h5m-94 11h5m17 8h5m-1-5h5m2-4h5m-2 0h5m6 5h5m5 7h5"/><path stroke="#2080c8" d="M707 1774h5m-79 366h5m24-9h5m15 1h5m-115 21h5m17-7h5m-2 3h5m15 1h5m27-3h5m8 2h5m-164 25h5m33-3h5m14-6h5m5-1h5m1-3h5m-2 5h5m6 9h5m4-12h5m-5 10h5m1-11h5m32 13h5m-2-8h5m2 3h5m-3-6h5m-119 14h5m-1 13h5m-4-2h5m-3-2h5m2-4h5m4 5h5m2 3h5m19-5h5m-2-7h5m-2 8h5m7-1h5m-5-6h5m-1-4h5m14 6h5m-2 1h5m-140 17h5m11 2h5m21-8h5m-4 10h5m-1-2h5m55 2h5m-113 10h5m26 4h5m0-10h5m15 1h5m7 11h5m-1 1h5m0-6h5m-4-2h5m18-4h5m-135 26h5m18 2h5m16-6h5m4 1h5m-5 4h5m-1-9h5m9-2h5m2 0h5m-2 13h5m-5-9h5m-1-4h5m7 9h5m10-1h5m-265 17h5m109 4h5m-5-12h5m12 2h5m-3 11h5m-3-9h5m0 3h5m26 3h5m-4-6h5m-4 0h5m-1 1h5m-3 8h5m-1 0h5m-1-5h5m-1-10h5m-2 13h5m-2-11h5m-3 10h5m10-7h5m-4 5h5m15 5h5m-5-1h5m2-3h5m0 4h5m-4-3h5m-1 2h5m3-11h5m-5 11h5m8 0h5m1-2h5m3-1h5m6-7h5m12 9h5m-260 8h5m-1 0h5m6 10h5m-5-14h5m-5 12h5m19-7h5m1 9h5m25-13h5m-3 8h5m-4-6h5m-4-3h5m10 3h5m24 2h5m10-5h5m-2 0h5m-4 1h5m-2 12h5m-2-4h5m1-9h5m-4 4h5m9 10h5m13-9h5m9 4h5m-4-4h5m11 7h5m4-7h5m7 2h5m0 4h5m15 3h5m-2-9h5m21-3h5m-408 14h5m42 8h5m8-1h5m-2-5h5m-3 9h5m5-7h5m13 0h5m18 7h5m-3-8h5m-1 5h5m-2 6h5m-3-15h5m17 2h5m0-2h5m-1 8h5m0 1h5m10-8h5m-4 10h5m2 2h5m-3 1h5m1-11h5m4 9h5m-3 0h5m8-8h5m10 6h5m0-6h5m-2 2h5m-1-3h5m14 2h5m0-5h5m-1 13h5m-4-2h5m2-11h5m-4 8h5m-3-5h5m-4 5h5m-1-2h5m1-1h5m-1-2h5m1 10h5m-5-8h5m8-4h5m-4 5h5m-4 8h5m-3-11h5m11-2h5m-2 3h5m-3 10h5m0-12h5m0 9h5m-5 3h5m0-9h5m11 0h5m-364 13h5m20 2h5m10-3h5m-1 5h5m15 7h5m18-2h5m18 3h5m2-2h5m-1 0h5m-3 0h5m3-8h5m-5 4h5m-4-2h5m1 3h5m-1-1h5m-2-3h5m10 3h5m20 3h5m0 1h5m-4-1h5m0-3h5m-4-3h5m6 3h5m-4 4h5m-3-4h5m0 2h5m21-4h5m6-6h5m-2 5h5m1 5h5m13-10h5m-4 1h5m-1 11h5m-4 0h5m-3-12h5m-1 14h5m-2 1h5m3-4h5m0-3h5m0-4h5m3 7h5m-2-8h5m1-2h5m5 9h5m-2-5h5m-4 10h5m-1-1h5m-4-4h5m-3-4h5m1-5h5m12 6h5m-4-5h5m0 9h5m-371 19h5m-4-1h5m-2-5h5m-2-3h5m50 2h5m6-3h5m1 3h5m-5 1h5m-5 4h5m-5 2h5m-5-2h5m-1-3h5m-4-3h5m-2 7h5m17-4h5m6 6h5m-4-1h5m-2-5h5m16-8h5m12 13h5m-4-13h5m4 10h5m-4-1h5m-4-5h5m-5 1h5m1 1h5m7-2h5m2-5h5m-2 3h5m0 4h5m1-1h5m-3 7h5m2-12h5m-4 5h5m3 6h5m-5-4h5m-3-3h5m8-3h5m-5-2h5m-4 1h5m-5 13h5m-4-11h5m0 1h5m0 2h5m1 6h5m-3 3h5m-2-4h5m-4-9h5m15 5h5m-4 5h5m-4-5h5m-3-3h5m4 2h5m-2 7h5m-3-13h5m2 13h5m8-12h5m-5 4h5m6-4h5m0 11h5m5-7h5m10 2h5m-397 19h5m5-9h5m-1 11h5m12-10h5m-1 11h5m36 0h5m12-4h5m1-4h5m-2 4h5m-2 4h5m1-6h5m-4-6h5m5 2h5m-4 10h5m8-4h5m20 0h5m0-5h5m-5 3h5m5 5h5m-4-2h5m2-10h5m-3 14h5m-4-14h5m6 13h5m-1-2h5m-4 3h5m-5-11h5m-1 2h5m13 3h5m-1 4h5m-3-7h5m5 0h5m-1 3h5m-4 1h5m-1 5h5m-3-13h5m-2 9h5m7 2h5m-5 0h5m9 3h5m9-11h5m1 8h5m-4-5h5m-2 2h5m-4 5h5m6 0h5m-3-7h5m-2 2h5m-4-5h5m4 11h5m-2 0h5m-2-3h5m0 0h5m2-1h5m-5-5h5m-4 4h5m9-8h5m-4 11h5m-3-7h5m-3 3h5m-3 2h5m8-8h5m-2 10h5m7-4h5m-374 10h5m1 10h5m-4 1h5m2-5h5m0 2h5m6-8h5m2 9h5m4-2h5m-4 1h5m2-8h5m4-2h5m7 7h5m-5 4h5m-3-12h5m0 11h5m2-5h5m-2-1h5m2-4h5m5-1h5m6 5h5m-3-4h5m-4 3h5m9 5h5m-2 3h5m0-5h5m-4-6h5m10 1h5m-2 13h5m-5-14h5m8 4h5m34 8h5m-5-9h5m4 11h5m5-8h5m-4 2h5m7 1h5m1-3h5m-5-2h5m-4-1h5m1 5h5m1 5h5m-1 1h5m-2-5h5m-4 4h5m0-5h5m3-1h5m-1-4h5m-1 11h5m3-7h5m13-3h5m2 3h5m7 7h5m3-12h5m2 11h5m-408 15h5m2-7h5m0 7h5m-2-10h5m16 10h5m11-6h5m1-3h5m18 10h5m5-12h5m-3 9h5m10-1h5m2 4h5m13-9h5m-3-2h5m-2 0h5m-2-2h5m13 10h5m-3-9h5m14 10h5m14-1h5m-4-6h5m7-3h5m-2 5h5m7 8h5m1-14h5m-4 10h5m-3 1h5m-1-8h5m-2 5h5m5-1h5m28-2h5m6 1h5m-2 1h5m19 5h5m1-10h5m0 4h5m-3 4h5m15-3h5m-3 2h5m-4-7h5m1-2h5m-349 27h5m14-1h5m14 2h5m12-1h5m27-6h5m10 6h5m-4 0h5m5-8h5m4 1h5m2-4h5m2 4h5m2-1h5m9 11h5m14-15h5m0 7h5m-3-1h5m13 2h5m-1-2h5m7 4h5m-5 5h5m5-13h5m-5 6h5m-3-1h5m-4-4h5m18-2h5m-5 7h5m0 3h5m7-10h5m4 11h5m5-6h5m-4-4h5m11 9h5m-2-5h5m3-6h5m-3 1h5m7 5h5m5 4h5m3-7h5m6 0h5m-363 15h5m21 3h5m30-4h5m3 10h5m45-8h5m3 12h5m-3-7h5m-4-8h5m14 5h5m-2-2h5m9 10h5m-5-13h5m0 2h5m19 3h5m13 2h5m-1 7h5m18-10h5m-4-1h5m9-2h5m9 7h5m-3 4h5m69-11h5m-311 15h5m-4 2h5m21 4h5m3-2h5m2 9h5m4 1h5m-1-12h5m2 3h5m58 6h5m49-4h5m8 1h5m-3 7h5m13-5h5m-1 0h5m38-9h5m-3 10h5m-181 20h5m4-14h5m16 7h5m10-3h5m10 0h5m2 8h5m-2-13h5m8 15h5m8-6h5m7-3h5m-1-3h5m-3-3h5m21 7h5m-75 9h5m-4 6h5m13 7h5m28-9h5m-3 0h5m4-2h5m-2 10h5m-3-2h5m9-6h5m-106 20h5m0 3h5m8-6h5m3 10h5m7-1h5m56-10h5m-163 21h5m9 1h5m17-2h5m19 5h5m-5-5h5m21 2h5m-5 1h5m7 4h5m4-12h5m79-1h5m-154 23h5m31-4h5m1 9h5m5-7h5m3-7h5m2 13h5m2-2h5m62-5h5m-157 21h5m11-7h5m25-1h5m7 9h5m8-7h5m-3-3h5m-4 5h5m-3 6h5m-4-13h5m9 6h5m-1 4h5m6 1h5m15 3h5m14-11h5m-140 17h5m-1 4h5m6-4h5m22-4h5m1 1h5m-5 9h5m2 5h5m1 0h5m0-3h5m31-12h5m5 6h5m-79 25h5m12-14h5m-1 9h5m-3-3h5m-3 3h5m11-4h5m33 2h5m-92 19h5m13-10h5m-4 7h5m26 5h5m-4-1h5m-4-9h5m-4 4h5m18 2h5m-85 14h5m28 8h5m37-5h5m1-4h5m24 7h5m-99 15h5m19-7h5m24-1h5m4 4h5m-19 18h5"/><path stroke="#20b8b0" d="M584 2146h5m8 7h5m3 21h5m8 1h5m-4-2h5m9-1h5m-69 15h5m21-6h5m-82 15h5m9 5h5m-2 2h5m-1-8h5m19 0h5m62-3h5m-98 30h5m-1-12h5m7 6h5m11-4h5m27 11h5m-89 16h5m5 0h5m-3-4h5m-3-4h5m-4 4h5m0 0h5m4-4h5m24 4h5m9-2h5m-195 8h5m96 6h5m2 8h5m17-11h5m-2 3h5m11-2h5m3 6h5m24-2h5m5 0h5m-4 5h5m18-12h5m-3 1h5m6 1h5m-2 0h5m0 3h5m3 5h5m13-2h5m2 2h5m-295 13h5m15-7h5m5-2h5m32 7h5m1 1h5m3 7h5m4-11h5m-3 2h5m13 8h5m-3 1h5m-5-11h5m-4 10h5m-4-11h5m13-1h5m-2 2h5m-3 1h5m2-1h5m0 10h5m-3-5h5m0-6h5m-3 6h5m-4-5h5m-4-2h5m-3 6h5m6-5h5m0 4h5m4 2h5m1-5h5m-4 1h5m-3 6h5m-3-3h5m-2-6h5m2 8h5m6-6h5m-2 3h5m-3 1h5m1-5h5m1 12h5m-284 13h5m72-7h5m7 4h5m0 0h5m11 1h5m8-2h5m27 1h5m-1-7h5m-3 8h5m10-10h5m-5 5h5m3 8h5m-2 1h5m-2-8h5m12 0h5m3-5h5m11 0h5m0 12h5m-1 0h5m3-9h5m0 8h5m-4-12h5m-4 11h5m3-11h5m-4 0h5m-3 13h5m2 1h5m1-2h5m1-8h5m8-3h5m-334 30h5m53-3h5m11-7h5m-4 8h5m23-7h5m5-2h5m6 4h5m-5-5h5m16 6h5m10-1h5m19-6h5m2 6h5m4 7h5m-3 0h5m-3-2h5m-4-5h5m-4-8h5m6 13h5m0-2h5m-1 3h5m-4-10h5m2 11h5m7-12h5m10 8h5m-5 2h5m-4-9h5m-3 7h5m-4-6h5m-3 3h5m-4 6h5m0-13h5m-4 5h5m-5 5h5m3-11h5m-2 0h5m-3 6h5m-3 7h5m-2 1h5m-2-4h5m0-10h5m0 2h5m-4 6h5m-2 0h5m-5-7h5m-3 12h5m-5-9h5m0 1h5m-4 10h5m-1-14h5m-5 7h5m-1-8h5m23 4h5m-312 24h5m5-8h5m10 5h5m-2-7h5m73 8h5m-3-2h5m-5 2h5m10 5h5m20-10h5m-3 9h5m-3-9h5m-2-5h5m-5 5h5m-5-3h5m1 7h5m2-6h5m-2 12h5m2-14h5m-4 6h5m1-5h5m-4 11h5m-2-4h5m-3 3h5m12-9h5m-4 4h5m-3-3h5m-3-2h5m6-1h5m-2 13h5m-2-8h5m-4 2h5m-4-4h5m-5 2h5m-4-1h5m-3 1h5m3-6h5m-1 4h5m-5 9h5m13-4h5m-1-3h5m0 2h5m-3 5h5m-5-9h5m-5 5h5m14 0h5m2 0h5m-2 3h5m-5-12h5m-376 31h5m-2-10h5m2-3h5m1 8h5m7 3h5m7-11h5m2 0h5m23 9h5m2 3h5m16-1h5m-4-3h5m0 2h5m-4-4h5m17-7h5m1 8h5m2 5h5m-5-13h5m8 2h5m-4 6h5m4-3h5m4 2h5m5 6h5m-3-12h5m-1 1h5m-3 9h5m8-7h5m6 9h5m-3-3h5m-5 4h5m-3-4h5m1-6h5m-2 9h5m0-2h5m-1 0h5m-2-9h5m1-3h5m-5 10h5m-2 4h5m-5-14h5m3 5h5m7 0h5m-5-1h5m0-1h5m-4 2h5m0 2h5m1-4h5m-3 2h5m1-4h5m-4 12h5m-4 0h5m-3-2h5m-4-1h5m-5 3h5m-3 2h5m-1-6h5m6-3h5m0-3h5m-3 7h5m-3 2h5m7-11h5m2 13h5m1 0h5m-4-6h5m-2 0h5m-361 13h5m27 5h5m7-5h5m-4-2h5m12 4h5m2-4h5m-3 2h5m-4 7h5m-4-7h5m-4 10h5m-5-7h5m7 6h5m2-2h5m-2-5h5m3-3h5m-3 3h5m16 8h5m3 0h5m11-9h5m24 5h5m5-10h5m10 4h5m-2 5h5m-2 5h5m-2-1h5m2-4h5m0 1h5m32 0h5m8-2h5m2 2h5m3-5h5m-3 7h5m-4-10h5m1 11h5m-5-12h5m4 5h5m0-2h5m16-1h5m45 2h5m-373 16h5m25 4h5m-5 0h5m-2-4h5m2 4h5m5-1h5m-1 5h5m5-8h5m1 7h5m7-12h5m54 1h5m1 10h5m-4-7h5m-4-2h5m19 10h5m-4 2h5m-1-8h5m8-6h5m4 6h5m-3-1h5m6-5h5m-3 10h5m16-2h5m-3-4h5m7 7h5m16 2h5m11-7h5m-3 2h5m-3 3h5m-3 1h5m1-3h5m5-1h5m-4-2h5m-325 20h5m12-1h5m28 3h5m0 0h5m18-9h5m100 1h5m-3 5h5m7 5h5m9-10h5m8-5h5m-4 9h5m8-2h5m8-2h5m-1 1h5m55-4h5m4 7h5m-1 4h5m-327 14h5m106-8h5m12 0h5m55 2h5m76 4h5m9 5h5m-196 17h5m18-12h5m63 7h5m13 1h5m-153 8h5m18 5h5m1-6h5m34 0h5m18 9h5m1-3h5m5 7h5m2-9h5m86 1h5m-155 13h5m67-2h5m10 1h5m7 5h5m10 4h5m25-7h5m-119 19h5m30-6h5m24 8h5m-29 22h5m32 12h5m-4-1h5m0-4h5m-2-6h5m-83 30h5m12-5h5m38 1h5m-52 18h5m16-7h5m12 0h5m40 4h5m4-6h5m11 1h5m-59 23h5m24 17h5m-82 11h5m40 19h5m3 7h5"/><path stroke="#38d898" d="M583 2183h5m18-6h5m-65 29h5m-5 1h5m2-13h5m-18 18h5m12 3h5m-37 24h5m13 0h5m13-3h5m-3-5h5m-3 6h5m-4 0h5m18-11h5m-2 3h5m2 6h5m-104 15h5m-1-9h5m4 5h5m5-4h5m0 4h5m-1 6h5m-3-5h5m4 4h5m2 4h5m10-10h5m-3 5h5m-3-3h5m-4 2h5m0-7h5m-4-2h5m26 6h5m32 9h5m-307 5h5m162 4h5m-3 6h5m11-8h5m1 6h5m4 2h5m-4 0h5m-2-14h5m1 12h5m-4-8h5m-2 11h5m-1-14h5m6 10h5m-5-9h5m2 3h5m-1 0h5m3 6h5m-1 4h5m36-9h5m-227 20h5m4 5h5m54-10h5m1 7h5m7-6h5m14 6h5m1-7h5m4 2h5m-3 8h5m-1-11h5m1-1h5m19 4h5m-3-4h5m6 3h5m-3 0h5m-5 2h5m3 6h5m-4-3h5m-1-9h5m4 7h5m11 2h5m-4-6h5m-3 4h5m-3 2h5m-1-1h5m9 5h5m-261 12h5m50-2h5m2-9h5m20 1h5m2 3h5m0 1h5m8 6h5m4-8h5m3 8h5m0 3h5m-4-6h5m-2 3h5m-2-2h5m-2 3h5m-2-3h5m-5 6h5m-4-7h5m2 4h5m-5 2h5m-3-12h5m-4-2h5m2 10h5m-1-1h5m6 1h5m-5-9h5m-3 5h5m1 2h5m-4 6h5m-5-11h5m1 2h5m-5 0h5m-3-5h5m1 10h5m10 3h5m1-4h5m13 0h5m-1 5h5m-315 9h5m85-2h5m6-5h5m3 10h5m-5-4h5m50-1h5m13 3h5m-3-6h5m4 2h5m3 5h5m0 4h5m2 2h5m-1 0h5m-1-15h5m5 8h5m-5-6h5m-4 3h5m-4 3h5m-1 3h5m-4-4h5m2 2h5m-2-6h5m-4 5h5m14 5h5m-4-7h5m0 7h5m5 0h5m23 2h5m-306 16h5m-3-2h5m42-2h5m9-11h5m8 9h5m30-9h5m18 14h5m0-12h5m2-2h5m0 6h5m0 8h5m-5-14h5m10 0h5m11 2h5m-1 7h5m-5 4h5m-3-9h5m-5 0h5m12 4h5m14-2h5m6 2h5m-4-3h5m-2 7h5m2 2h5m-1-3h5m-5-6h5m0 5h5m1-10h5m3 12h5m-3-12h5m-2 0h5m6 9h5m5 6h5m7-1h5m8 0h5m0-3h5m5-6h5m-403 18h5m69-4h5m50 10h5m28-8h5m-4 9h5m16-12h5m-3 0h5m11 11h5m-4-7h5m13 0h5m-4 6h5m-2 1h5m-2-8h5m1 7h5m-4-7h5m-3 2h5m27-5h5m27 5h5m17 7h5m5-12h5m-294 15h5m4 14h5m0-12h5m6 1h5m6 2h5m4 9h5m43-9h5m17 7h5m59-4h5m3-1h5m-3 4h5m2-1h5m42 4h5m-268 10h5m14-3h5m3 2h5m-3 5h5m67-10h5m33 2h5m0-3h5m-1 4h5m37 1h5m-4 5h5m2-4h5m13-7h5m1 10h5m-176 5h5m35 15h5m-2-5h5m38-1h5m13-3h5m36-6h5m61 6h5m49 0h5m-143 20h5m89-5h5m-105 18h5m0 4h5m63 3h5m-109 15h5m37-9h5m12 2h5m10 15h5m-49 11h5m56 46h5m-5-9h5m-11 43h5"/><path stroke="#40e840" d="M508 2219h5m25-4h5m2 10h5m-3 7h5m3 6h5m-158 17h5m124-6h5m47-5h5m-105 25h5m34 1h5m5-4h5m-5-10h5m9 14h5m9-12h5m4 0h5m2 1h5m15 5h5m1-3h5m-174 24h5m-1-1h5m36-9h5m14 9h5m17-4h5m-2 6h5m-4-2h5m-1 3h5m-1-8h5m2-2h5m-4-1h5m-3 3h5m0 2h5m-3 3h5m-2-6h5m9 0h5m4-6h5m4 6h5m7-2h5m31 9h5m-206 15h5m-1 1h5m60-6h5m5 4h5m-4-4h5m11-3h5m0 4h5m-4-7h5m10 1h5m-2 4h5m17 7h5m-4-6h5m-3 2h5m9-2h5m-2 5h5m5-3h5m0-6h5m-4 4h5m-5 3h5m27 4h5m-2-12h5m-1 4h5m0 9h5m-1-2h5m-291 5h5m20 12h5m8-3h5m69-7h5m5 3h5m3 0h5m29-2h5m14 8h5m-1-2h5m15-2h5m10-8h5m4 7h5m4-2h5m-1 9h5m20-15h5m-252 27h5m2 2h5m12 2h5m116-9h5m-4-3h5m17 9h5m5-9h5m-2-2h5m-4 4h5m3-3h5m0 7h5m-1-1h5m21-6h5m13 0h5m6 5h5m1 8h5m-280 14h5m7-6h5m1 4h5m18-7h5m6 3h5m-3-7h5m53 0h5m9 5h5m-3-1h5m7-3h5m9-1h5m-5 13h5m-4-6h5m40 4h5m-1 3h5m5-5h5m-4-7h5m-4-1h5m5 0h5m20 10h5m-277 11h5m18-1h5m85 0h5m22-1h5m6 5h5m-1 2h5m47-7h5m16 2h5m-252 24h5m141-10h5m22 1h5m-126 11h5m14 3h5m130 5h5m-230 13h5m169 2h5m-106 20h5m170-9h5m14 2h5m-123 14h5m26 37h5m48 40h5m-67 47h5"/><path stroke="#a0f038" d="M612 2168h5m-56 27h5m55-2h5m-87 27h5m38 18h5m2-5h5m-87 13h5m23-4h5m-126 14h5m152 13h5m8 0h5m-1-5h5m-2-7h5m4 10h5m24 2h5m-150 4h5m15 2h5m10-2h5m9 9h5m-3 3h5m29-8h5m6-5h5m1 14h5m-2-5h5m-4-4h5m2 1h5m-204 19h5m21 3h5m74-2h5m13-3h5m-4-3h5m0 8h5m0 1h5m-4 0h5m-2-7h5m7-4h5m-3 8h5m-3-6h5m3 9h5m9 1h5m-1-10h5m0 3h5m0-2h5m9 9h5m34-7h5m-262 17h5m1-2h5m60 3h5m4 6h5m52-5h5m33 0h5m-4 4h5m2-8h5m-3 1h5m-2-2h5m4 3h5m1 0h5m-2 5h5m10 0h5m3 2h5m3-11h5m-249 27h5m5-2h5m44-13h5m23 10h5m8-4h5m13-1h5m51 1h5m6-4h5m-5 7h5m16 4h5m-4-7h5m3-2h5m1 6h5m14 3h5m39-8h5m-326 21h5m147 0h5m72-4h5m3-2h5m12 5h5m4-9h5m7 7h5m-238 18h5m5-7h5m91 4h5m-1 12h5m66 3h5m51 9h5m-179 12h5m-2 4h5"/></g></g><path d="M56 188.24L59.5 188.24M147.66 275L147.66 278.5M56 178.2L59.5 178.2M157.7 275L157.7 278.5M56 171.08L59.5 171.08M164.82 275L164.82 278.5M54.5 165.56L59.5 165.56M170.34 275L170.34 280M56 161.05L59.5 161.05M174.85 275L174.85 278.5M56 157.23L59.5 157.23M178.67 275L178.67 278.5M56 153.92L59.5 153.92M181.98 275L181.98 278.5M56 151.01L59.5 151.01M184.89 275L184.89 278.5M56 132.48L59.5 132.48M203.42 275L203.42 278.5M56 123.16L59.5 123.16M212.74 275L212.74 278.5M56 116.55L59.5 116.55M219.35 275L219.35 278.5M54.5 111.42L59.5 111.42M224.48 275L224.48 280M56 107.24L59.5 107.24M228.66 275L228.66 278.5M56 103.69L59.5 103.69M232.21 275L232.21 278.5M56 100.63L59.5 100.63M235.27 275L235.27 278.5M56 97.92L59.5 97.92M237.98 275L237.98 278.5M56 79.7L59.5 79.7M256.2 275L256.2 278.5M56 70.45L59.5 70.45M265.45 275L265.45 278.5M56 63.89L59.5 63.89M272.01 275L272.01 278.5M54.5 58.8L59.5 58.8M277.1 275L277.1 280M56 54.65L59.5 54.65M281.25 275L281.25 278.5M56 51.13L59.5 51.13M284.77 275L284.77 278.5M56 48.09L59.5 48.09M287.81 275L287.81 278.5M56 45.4L59.5 45.4M290.5 275L290.5 278.5M53.5 245L59.5 245M90.9 275L90.9 281M56 239.1L59.5 239.1M96.8 275L96.8 278.5M56 233.5L59.5 233.5M102.4 275L102.4 278.5M56 229.1L59.5 229.1M106.8 275L106.8 278.5M56 223.2L59.5 223.2M112.7 275L112.7 278.5M56 217.9L59.5 217.9M118 275L118 278.5M56 213.9L59.5 213.9M122 275L122 278.5M56 210.9L59.5 210.9M125 275L125 278.5M56 208.8L59.5 208.8M127.1 275L127.1 278.5M56 207.2L59.5 207.2M128.7 275L128.7 278.5M56 263.4L59.5 263.4M72.5 275L72.5 278.5M56 266.4L59.5 266.4M69.5 275L69.5 278.5M56 269.7L59.5 269.7M66.2 275L66.2 278.5M56 275L59.5 275M60.9 275L60.9 278.5M52.5 205.4L59.5 205.4M130.5 275L130.5 282M52.5 148.4L59.5 148.4M187.5 275L187.5 282M52.5 95.5L59.5 95.5M240.4 275L240.4 282M52.5 43L59.5 43M292.9 275L292.9 282" stroke="#1a1a1a" stroke-width="1.0" fill="none"/><path d="M55.7 251H59.5V258.2H55.7ZM52.6 251H59.5V252.6H52.6ZM52.6 256.6H59.5V258.2H52.6ZM54.3 254H59.5V255.3H54.3ZM78.5 275V278H84.8V275ZM77.3 275V281.5H78.8V275ZM83 275V281.5H84.8V275ZM80 275V279.5H81.5V275Z" fill="#111"/><rect x="59.5" y="40.5" width="235.5" height="234.5" fill="none" stroke="#1a1a1a" stroke-width="1.3"/><text x="42.3" y="61.6" font-size="11" font-family="Liberation Sans, Arial, sans-serif" text-anchor="end" fill="#222">10</text><text x="42.6" y="53.1" font-size="11" font-family="Liberation Sans, Arial, sans-serif" fill="#222">6</text><text x="42.3" y="102.9" font-size="11" font-family="Liberation Sans, Arial, sans-serif" text-anchor="end" fill="#222">10</text><text x="42.6" y="94.4" font-size="11" font-family="Liberation Sans, Arial, sans-serif" fill="#222">5</text><text x="42.3" y="155.6" font-size="11" font-family="Liberation Sans, Arial, sans-serif" text-anchor="end" fill="#222">10</text><text x="42.6" y="147.1" font-size="11" font-family="Liberation Sans, Arial, sans-serif" fill="#222">4</text><text x="42.3" y="212.3" font-size="11" font-family="Liberation Sans, Arial, sans-serif" text-anchor="end" fill="#222">10</text><text x="42.6" y="203.8" font-size="11" font-family="Liberation Sans, Arial, sans-serif" fill="#222">3</text><text x="42.3" y="258.3" font-size="11" font-family="Liberation Sans, Arial, sans-serif" text-anchor="end" fill="#222">0</text><text x="118.3" y="304.9" font-size="11" font-family="Liberation Sans, Arial, sans-serif" fill="#222">10</text><text x="131.1" y="296.9" font-size="11" font-family="Liberation Sans, Arial, sans-serif" fill="#222">3</text><text x="172.4" y="304.9" font-size="11" font-family="Liberation Sans, Arial, sans-serif" fill="#222">10</text><text x="185.2" y="296.9" font-size="11" font-family="Liberation Sans, Arial, sans-serif" fill="#222">4</text><text x="221" y="304.9" font-size="11" font-family="Liberation Sans, Arial, sans-serif" fill="#222">10</text><text x="233.8" y="296.9" font-size="11" font-family="Liberation Sans, Arial, sans-serif" fill="#222">5</text><text x="270.9" y="304.9" font-size="11" font-family="Liberation Sans, Arial, sans-serif" fill="#222">10</text><text x="283.7" y="296.9" font-size="11" font-family="Liberation Sans, Arial, sans-serif" fill="#222">6</text><text x="78.8" y="304.9" font-size="11" font-family="Liberation Sans, Arial, sans-serif" fill="#222">0</text><path d="M56 570.24L59.5 570.24M147.66 657L147.66 660.5M56 560.2L59.5 560.2M157.7 657L157.7 660.5M56 553.08L59.5 553.08M164.82 657L164.82 660.5M54.5 547.56L59.5 547.56M170.34 657L170.34 662M56 543.05L59.5 543.05M174.85 657L174.85 660.5M56 539.23L59.5 539.23M178.67 657L178.67 660.5M56 535.92L59.5 535.92M181.98 657L181.98 660.5M56 533.01L59.5 533.01M184.89 657L184.89 660.5M56 514.48L59.5 514.48M203.42 657L203.42 660.5M56 505.16L59.5 505.16M212.74 657L212.74 660.5M56 498.55L59.5 498.55M219.35 657L219.35 660.5M54.5 493.42L59.5 493.42M224.48 657L224.48 662M56 489.24L59.5 489.24M228.66 657L228.66 660.5M56 485.69L59.5 485.69M232.21 657L232.21 660.5M56 482.63L59.5 482.63M235.27 657L235.27 660.5M56 479.92L59.5 479.92M237.98 657L237.98 660.5M56 461.7L59.5 461.7M256.2 657L256.2 660.5M56 452.45L59.5 452.45M265.45 657L265.45 660.5M56 445.89L59.5 445.89M272.01 657L272.01 660.5M54.5 440.8L59.5 440.8M277.1 657L277.1 662M56 436.65L59.5 436.65M281.25 657L281.25 660.5M56 433.13L59.5 433.13M284.77 657L284.77 660.5M56 430.09L59.5 430.09M287.81 657L287.81 660.5M56 427.4L59.5 427.4M290.5 657L290.5 660.5M53.5 627L59.5 627M90.9 657L90.9 663M56 621.1L59.5 621.1M96.8 657L96.8 660.5M56 615.5L59.5 615.5M102.4 657L102.4 660.5M56 611.1L59.5 611.1M106.8 657L106.8 660.5M56 605.2L59.5 605.2M112.7 657L112.7 660.5M56 599.9L59.5 599.9M118 657L118 660.5M56 595.9L59.5 595.9M122 657L122 660.5M56 592.9L59.5 592.9M125 657L125 660.5M56 590.8L59.5 590.8M127.1 657L127.1 660.5M56 589.2L59.5 589.2M128.7 657L128.7 660.5M56 645.4L59.5 645.4M72.5 657L72.5 660.5M56 648.4L59.5 648.4M69.5 657L69.5 660.5M56 651.7L59.5 651.7M66.2 657L66.2 660.5M56 657L59.5 657M60.9 657L60.9 660.5M52.5 587.4L59.5 587.4M130.5 657L130.5 664M52.5 530.4L59.5 530.4M187.5 657L187.5 664M52.5 477.5L59.5 477.5M240.4 657L240.4 664M52.5 425L59.5 425M292.9 657L292.9 664" stroke="#1a1a1a" stroke-width="1.0" fill="none"/><path d="M55.7 633H59.5V640.2H55.7ZM52.6 633H59.5V634.6H52.6ZM52.6 638.6H59.5V640.2H52.6ZM54.3 636H59.5V637.3H54.3ZM78.5 657V660H84.8V657ZM77.3 657V663.5H78.8V657ZM83 657V663.5H84.8V657ZM80 657V661.5H81.5V657Z" fill="#111"/><rect x="59.5" y="422.5" width="235.5" height="234.5" fill="none" stroke="#1a1a1a" stroke-width="1.3"/><text x="42.3" y="443.6" font-size="11" font-family="Liberation Sans, Arial, sans-serif" text-anchor="end" fill="#222">10</text><text x="42.6" y="435.1" font-size="11" font-family="Liberation Sans, Arial, sans-serif" fill="#222">6</text><text x="42.3" y="484.9" font-size="11" font-family="Liberation Sans, Arial, sans-serif" text-anchor="end" fill="#222">10</text><text x="42.6" y="476.4" font-size="11" font-family="Liberation Sans, Arial, sans-serif" fill="#222">5</text><text x="42.3" y="537.6" font-size="11" font-family="Liberation Sans, Arial, sans-serif" text-anchor="end" fill="#222">10</text><text x="42.6" y="529.1" font-size="11" font-family="Liberation Sans, Arial, sans-serif" fill="#222">4</text><text x="42.3" y="594.3" font-size="11" font-family="Liberation Sans, Arial, sans-serif" text-anchor="end" fill="#222">10</text><text x="42.6" y="585.8" font-size="11" font-family="Liberation Sans, Arial, sans-serif" fill="#222">3</text><text x="42.3" y="640.3" font-size="11" font-family="Liberation Sans, Arial, sans-serif" text-anchor="end" fill="#222">0</text><text x="118.3" y="686.9" font-size="11" font-family="Liberation Sans, Arial, sans-serif" fill="#222">10</text><text x="131.1" y="678.9" font-size="11" font-family="Liberation Sans, Arial, sans-serif" fill="#222">3</text><text x="172.4" y="686.9" font-size="11" font-family="Liberation Sans, Arial, sans-serif" fill="#222">10</text><text x="185.2" y="678.9" font-size="11" font-family="Liberation Sans, Arial, sans-serif" fill="#222">4</text><text x="221" y="686.9" font-size="11" font-family="Liberation Sans, Arial, sans-serif" fill="#222">10</text><text x="233.8" y="678.9" font-size="11" font-family="Liberation Sans, Arial, sans-serif" fill="#222">5</text><text x="270.9" y="686.9" font-size="11" font-family="Liberation Sans, Arial, sans-serif" fill="#222">10</text><text x="283.7" y="678.9" font-size="11" font-family="Liberation Sans, Arial, sans-serif" fill="#222">6</text><text x="78.8" y="686.9" font-size="11" font-family="Liberation Sans, Arial, sans-serif" fill="#222">0</text><path d="M412.1 276.61L415.6 276.61M415.43 276.6L415.43 280.1M412.1 272.4L415.6 272.4M419.63 276.6L419.63 280.1M410.6 269.14L415.6 269.14M422.89 276.6L422.89 281.6M412.1 266.47L415.6 266.47M425.55 276.6L425.55 280.1M412.1 264.22L415.6 264.22M427.8 276.6L427.8 280.1M412.1 262.26L415.6 262.26M429.74 276.6L429.74 280.1M412.1 260.54L415.6 260.54M431.46 276.6L431.46 280.1M408.6 259L415.6 259M433 276.6L433 283.6M412.1 248.86L415.6 248.86M443.11 276.6L443.11 280.1M412.1 242.94L415.6 242.94M449.03 276.6L449.03 280.1M412.1 238.73L415.6 238.73M453.23 276.6L453.23 280.1M410.6 235.47L415.6 235.47M456.49 276.6L456.49 281.6M412.1 232.8L415.6 232.8M459.15 276.6L459.15 280.1M412.1 230.55L415.6 230.55M461.4 276.6L461.4 280.1M412.1 228.59L415.6 228.59M463.34 276.6L463.34 280.1M412.1 226.87L415.6 226.87M465.06 276.6L465.06 280.1M408.6 225.33L415.6 225.33M466.6 276.6L466.6 283.6M412.1 215.19L415.6 215.19M476.71 276.6L476.71 280.1M412.1 209.27L415.6 209.27M482.63 276.6L482.63 280.1M412.1 205.06L415.6 205.06M486.83 276.6L486.83 280.1M410.6 201.8L415.6 201.8M490.09 276.6L490.09 281.6M412.1 199.13L415.6 199.13M492.75 276.6L492.75 280.1M412.1 196.88L415.6 196.88M495 276.6L495 280.1M412.1 194.92L415.6 194.92M496.94 276.6L496.94 280.1M412.1 193.2L415.6 193.2M498.66 276.6L498.66 280.1M408.6 191.66L415.6 191.66M500.2 276.6L500.2 283.6M412.1 181.52L415.6 181.52M510.31 276.6L510.31 280.1M412.1 175.6L415.6 175.6M516.23 276.6L516.23 280.1M412.1 171.39L415.6 171.39M520.43 276.6L520.43 280.1M410.6 168.13L415.6 168.13M523.69 276.6L523.69 281.6M412.1 165.46L415.6 165.46M526.35 276.6L526.35 280.1M412.1 163.21L415.6 163.21M528.6 276.6L528.6 280.1M412.1 161.25L415.6 161.25M530.54 276.6L530.54 280.1M412.1 159.53L415.6 159.53M532.26 276.6L532.26 280.1M408.6 157.99L415.6 157.99M533.8 276.6L533.8 283.6M412.1 147.85L415.6 147.85M543.91 276.6L543.91 280.1M412.1 141.93L415.6 141.93M549.83 276.6L549.83 280.1M412.1 137.72L415.6 137.72M554.03 276.6L554.03 280.1M410.6 134.46L415.6 134.46M557.29 276.6L557.29 281.6M412.1 131.79L415.6 131.79M559.95 276.6L559.95 280.1M412.1 129.54L415.6 129.54M562.2 276.6L562.2 280.1M412.1 127.58L415.6 127.58M564.14 276.6L564.14 280.1M412.1 125.86L415.6 125.86M565.86 276.6L565.86 280.1M408.6 124.32L415.6 124.32M567.4 276.6L567.4 283.6M412.1 114.18L415.6 114.18M577.51 276.6L577.51 280.1M412.1 108.26L415.6 108.26M583.43 276.6L583.43 280.1M412.1 104.05L415.6 104.05M587.63 276.6L587.63 280.1M410.6 100.79L415.6 100.79M590.89 276.6L590.89 281.6M412.1 98.12L415.6 98.12M593.55 276.6L593.55 280.1M412.1 95.87L415.6 95.87M595.8 276.6L595.8 280.1M412.1 93.91L415.6 93.91M597.74 276.6L597.74 280.1M412.1 92.19L415.6 92.19M599.46 276.6L599.46 280.1M408.6 90.65L415.6 90.65M601 276.6L601 283.6M412.1 80.51L415.6 80.51M611.11 276.6L611.11 280.1M412.1 74.59L415.6 74.59M617.03 276.6L617.03 280.1M412.1 70.38L415.6 70.38M621.23 276.6L621.23 280.1M410.6 67.12L415.6 67.12M624.49 276.6L624.49 281.6M412.1 64.45L415.6 64.45M627.15 276.6L627.15 280.1M412.1 62.2L415.6 62.2M629.4 276.6L629.4 280.1M412.1 60.24L415.6 60.24M631.34 276.6L631.34 280.1M412.1 58.52L415.6 58.52M633.06 276.6L633.06 280.1M408.6 56.98L415.6 56.98M634.6 276.6L634.6 283.6M412.1 46.84L415.6 46.84M644.71 276.6L644.71 280.1M412.1 40.92L415.6 40.92M650.63 276.6L650.63 280.1" stroke="#1a1a1a" stroke-width="1.0" fill="none"/><rect x="415.6" y="41" width="235.4" height="235.6" fill="none" stroke="#1a1a1a" stroke-width="1.3"/><text x="397.6" y="263.5" font-size="10.5" font-family="Liberation Sans, Arial, sans-serif" text-anchor="end" fill="#222">10</text><text x="398.2" y="254.9" font-size="10.5" font-family="Liberation Sans, Arial, sans-serif" fill="#222">1</text><text x="397.6" y="229.83" font-size="10.5" font-family="Liberation Sans, Arial, sans-serif" text-anchor="end" fill="#222">10</text><text x="398.2" y="221.23" font-size="10.5" font-family="Liberation Sans, Arial, sans-serif" fill="#222">2</text><text x="397.6" y="196.16" font-size="10.5" font-family="Liberation Sans, Arial, sans-serif" text-anchor="end" fill="#222">10</text><text x="398.2" y="187.56" font-size="10.5" font-family="Liberation Sans, Arial, sans-serif" fill="#222">3</text><text x="397.6" y="162.49" font-size="10.5" font-family="Liberation Sans, Arial, sans-serif" text-anchor="end" fill="#222">10</text><text x="398.2" y="153.89" font-size="10.5" font-family="Liberation Sans, Arial, sans-serif" fill="#222">4</text><text x="397.6" y="128.82" font-size="10.5" font-family="Liberation Sans, Arial, sans-serif" text-anchor="end" fill="#222">10</text><text x="398.2" y="120.22" font-size="10.5" font-family="Liberation Sans, Arial, sans-serif" fill="#222">5</text><text x="397.6" y="95.15" font-size="10.5" font-family="Liberation Sans, Arial, sans-serif" text-anchor="end" fill="#222">10</text><text x="398.2" y="86.55" font-size="10.5" font-family="Liberation Sans, Arial, sans-serif" fill="#222">6</text><text x="397.6" y="61.48" font-size="10.5" font-family="Liberation Sans, Arial, sans-serif" text-anchor="end" fill="#222">10</text><text x="398.2" y="52.88" font-size="10.5" font-family="Liberation Sans, Arial, sans-serif" fill="#222">7</text><text x="427.5" y="299.9" font-size="10.5" font-family="Liberation Sans, Arial, sans-serif" fill="#222">10</text><text x="440.5" y="291.3" font-size="10.5" font-family="Liberation Sans, Arial, sans-serif" fill="#222">1</text><text x="457.9" y="299.9" font-size="10.5" font-family="Liberation Sans, Arial, sans-serif" fill="#222">10</text><text x="470.9" y="291.3" font-size="10.5" font-family="Liberation Sans, Arial, sans-serif" fill="#222">2</text><text x="488.3" y="299.9" font-size="10.5" font-family="Liberation Sans, Arial, sans-serif" fill="#222">10</text><text x="501.3" y="291.3" font-size="10.5" font-family="Liberation Sans, Arial, sans-serif" fill="#222">3</text><text x="518.7" y="299.9" font-size="10.5" font-family="Liberation Sans, Arial, sans-serif" fill="#222">10</text><text x="531.7" y="291.3" font-size="10.5" font-family="Liberation Sans, Arial, sans-serif" fill="#222">4</text><text x="549.1" y="299.9" font-size="10.5" font-family="Liberation Sans, Arial, sans-serif" fill="#222">10</text><text x="562.1" y="291.3" font-size="10.5" font-family="Liberation Sans, Arial, sans-serif" fill="#222">5</text><text x="579.5" y="299.9" font-size="10.5" font-family="Liberation Sans, Arial, sans-serif" fill="#222">10</text><text x="592.5" y="291.3" font-size="10.5" font-family="Liberation Sans, Arial, sans-serif" fill="#222">6</text><text x="609.9" y="299.9" font-size="10.5" font-family="Liberation Sans, Arial, sans-serif" fill="#222">10</text><text x="622.9" y="291.3" font-size="10.5" font-family="Liberation Sans, Arial, sans-serif" fill="#222">7</text><path d="M179.4 40.5V275M59.5 173.9H295" stroke="#222" stroke-width="1.2" fill="none"/><path d="M179.4 422.5V657M59.5 555.9H295" stroke="#222" stroke-width="1.2" fill="none"/><path d="M529 41V276.6M415.6 175.1H651" stroke="#222" stroke-width="1.2" fill="none"/><rect x="60.6" y="42.6" width="52.6" height="28.5" fill="#fff" fill-opacity="0.72"/><text x="64.1" y="53.1" font-size="11" font-family="Liberation Sans, Arial, sans-serif" textLength="45.6" lengthAdjust="spacingAndGlyphs" fill="#333">Necrosis</text><text x="64.1" y="67.6" font-size="11" font-family="Liberation Sans, Arial, sans-serif" textLength="31.2" lengthAdjust="spacingAndGlyphs" fill="#333">6.51%</text><rect x="211.7" y="42.6" width="81.5" height="28.5" fill="#fff" fill-opacity="0.72"/><text x="215.2" y="53.1" font-size="11" font-family="Liberation Sans, Arial, sans-serif" textLength="74.5" lengthAdjust="spacingAndGlyphs" fill="#333">Late apoptosis</text><text x="215.2" y="67.6" font-size="11" font-family="Liberation Sans, Arial, sans-serif" textLength="30.3" lengthAdjust="spacingAndGlyphs" fill="#333">1.97%</text><rect x="60.6" y="246.5" width="38" height="28.4" fill="#fff" fill-opacity="0.72"/><text x="64.1" y="257" font-size="11" font-family="Liberation Sans, Arial, sans-serif" textLength="19.5" lengthAdjust="spacingAndGlyphs" fill="#333">Live</text><text x="64.1" y="271.4" font-size="11" font-family="Liberation Sans, Arial, sans-serif" textLength="31" lengthAdjust="spacingAndGlyphs" fill="#333">91.3%</text><rect x="209.1" y="246.3" width="84" height="28.6" fill="#fff" fill-opacity="0.72"/><text x="212.6" y="256.8" font-size="11" font-family="Liberation Sans, Arial, sans-serif" textLength="77" lengthAdjust="spacingAndGlyphs" fill="#333">Early apoptosis</text><text x="212.6" y="271.4" font-size="11" font-family="Liberation Sans, Arial, sans-serif" textLength="37.5" lengthAdjust="spacingAndGlyphs" fill="#333">0.257%</text><rect x="60.6" y="424.6" width="52.6" height="28.5" fill="#fff" fill-opacity="0.72"/><text x="64.1" y="435.1" font-size="11" font-family="Liberation Sans, Arial, sans-serif" textLength="45.6" lengthAdjust="spacingAndGlyphs" fill="#333">Necrosis</text><text x="64.1" y="449.6" font-size="11" font-family="Liberation Sans, Arial, sans-serif" textLength="31.2" lengthAdjust="spacingAndGlyphs" fill="#333">13.9%</text><rect x="211.7" y="424.6" width="81.5" height="28.5" fill="#fff" fill-opacity="0.72"/><text x="215.2" y="435.1" font-size="11" font-family="Liberation Sans, Arial, sans-serif" textLength="74.5" lengthAdjust="spacingAndGlyphs" fill="#333">Late apoptosis</text><text x="215.2" y="449.6" font-size="11" font-family="Liberation Sans, Arial, sans-serif" textLength="30.3" lengthAdjust="spacingAndGlyphs" fill="#333">5.42%</text><rect x="60.6" y="628.5" width="38" height="28.4" fill="#fff" fill-opacity="0.72"/><text x="64.1" y="639" font-size="11" font-family="Liberation Sans, Arial, sans-serif" textLength="19.5" lengthAdjust="spacingAndGlyphs" fill="#333">Live</text><text x="64.1" y="653.4" font-size="11" font-family="Liberation Sans, Arial, sans-serif" textLength="31" lengthAdjust="spacingAndGlyphs" fill="#333">80.1%</text><rect x="209.1" y="628.3" width="84" height="28.6" fill="#fff" fill-opacity="0.72"/><text x="212.6" y="638.8" font-size="11" font-family="Liberation Sans, Arial, sans-serif" textLength="77" lengthAdjust="spacingAndGlyphs" fill="#333">Early apoptosis</text><text x="212.6" y="653.4" font-size="11" font-family="Liberation Sans, Arial, sans-serif" textLength="37.5" lengthAdjust="spacingAndGlyphs" fill="#333">0.612%</text><rect x="416.8" y="42.3" width="52.2" height="28.8" fill="#fff" fill-opacity="0.72"/><text x="420.3" y="52.8" font-size="11" font-family="Liberation Sans, Arial, sans-serif" textLength="45.2" lengthAdjust="spacingAndGlyphs" fill="#333">Necrosis</text><text x="420.3" y="67.6" font-size="11" font-family="Liberation Sans, Arial, sans-serif" textLength="31.2" lengthAdjust="spacingAndGlyphs" fill="#333">1.33%</text><rect x="568.1" y="42.3" width="81.5" height="28.8" fill="#fff" fill-opacity="0.72"/><text x="571.6" y="52.8" font-size="11" font-family="Liberation Sans, Arial, sans-serif" textLength="74.5" lengthAdjust="spacingAndGlyphs" fill="#333">Late apoptosis</text><text x="571.6" y="67.6" font-size="11" font-family="Liberation Sans, Arial, sans-serif" textLength="30.3" lengthAdjust="spacingAndGlyphs" fill="#333">22.8%</text><rect x="416.8" y="246.7" width="38" height="28.7" fill="#fff" fill-opacity="0.72"/><text x="420.3" y="257.2" font-size="11" font-family="Liberation Sans, Arial, sans-serif" textLength="19.5" lengthAdjust="spacingAndGlyphs" fill="#333">Live</text><text x="420.3" y="271.9" font-size="11" font-family="Liberation Sans, Arial, sans-serif" textLength="31" lengthAdjust="spacingAndGlyphs" fill="#333">56.9%</text><rect x="565.5" y="246.7" width="84" height="28.7" fill="#fff" fill-opacity="0.72"/><text x="569" y="257.2" font-size="11" font-family="Liberation Sans, Arial, sans-serif" textLength="77" lengthAdjust="spacingAndGlyphs" fill="#333">Early apoptosis</text><text x="569" y="271.9" font-size="11" font-family="Liberation Sans, Arial, sans-serif" textLength="30.3" lengthAdjust="spacingAndGlyphs" fill="#333">18.9%</text><text x="140.8" y="329.6" font-size="11" font-family="Liberation Sans, Arial, sans-serif" textLength="71" lengthAdjust="spacingAndGlyphs" fill="#222">FL1-A:: FITC-A</text><text x="140.8" y="711.7" font-size="11" font-family="Liberation Sans, Arial, sans-serif" textLength="71" lengthAdjust="spacingAndGlyphs" fill="#222">FL1-A:: FITC-A</text><text x="496.8" y="329.6" font-size="11" font-family="Liberation Sans, Arial, sans-serif" textLength="71" lengthAdjust="spacingAndGlyphs" fill="#222">FL1-A:: FITC-A</text><text transform="translate(12.1 188.8) rotate(-90)" font-size="11" font-family="Liberation Sans, Arial, sans-serif" fill="#222" textLength="62.5" lengthAdjust="spacingAndGlyphs">FL2-A:: PE-A</text><text transform="translate(12.1 570.8) rotate(-90)" font-size="11" font-family="Liberation Sans, Arial, sans-serif" fill="#222" textLength="62.5" lengthAdjust="spacingAndGlyphs">FL2-A:: PE-A</text><text transform="translate(367.6 188.8) rotate(-90)" font-size="11" font-family="Liberation Sans, Arial, sans-serif" fill="#222" textLength="62.5" lengthAdjust="spacingAndGlyphs">FL2-A:: PE-A</text><rect x="427.5" y="465.11" width="21.9" height="190.89" fill="#000"/><path d="M438.45 465.11V462.17M433 462.17H443.9" stroke="#000" stroke-width="1.5"/><path d="M471.25 652.22V651.49M465.8 651.49H476.7" stroke="#000" stroke-width="1.5"/><rect x="462.05" y="653.97" width="18.4" height="2.03" fill="#a3a3a8" stroke="#000" stroke-width="3.5"/><rect x="515.4" y="533.99" width="21.9" height="122.01" fill="#000"/><path d="M526.35 533.99V526.22M520.9 526.22H531.8" stroke="#000" stroke-width="1.5"/><path d="M559.15 569.9V565.7M553.7 565.7H564.6" stroke="#000" stroke-width="1.5"/><rect x="549.95" y="571.65" width="18.4" height="84.35" fill="#a3a3a8" stroke="#000" stroke-width="3.5"/><rect x="603.6" y="487.58" width="21.9" height="168.42" fill="#000"/><path d="M614.55 487.58V484.85M609.1 484.85H620" stroke="#000" stroke-width="1.5"/><path d="M647.35 644.24V641.51M641.9 641.51H652.8" stroke="#000" stroke-width="1.5"/><rect x="638.15" y="645.99" width="18.4" height="10.01" fill="#a3a3a8" stroke="#000" stroke-width="3.5"/><path d="M416.4 403.6V656.4M405.5 656.4H670.4" stroke="#000" stroke-width="2.4" fill="none"/><path d="M405.5 614H416.5M405.5 572H416.5M405.5 530H416.5M405.5 488H416.5M405.5 446H416.5M405.5 404H416.5M454.3 656V667M542.2 656V667M630.4 656V667" stroke="#000" stroke-width="2" fill="none"/><text x="401.3" y="661.7" font-size="16" font-family="Liberation Sans, Arial, sans-serif" text-anchor="end" font-weight="bold" textLength="10.06" lengthAdjust="spacingAndGlyphs">0</text><text x="401.3" y="619.7" font-size="16" font-family="Liberation Sans, Arial, sans-serif" text-anchor="end" font-weight="bold" textLength="20.11" lengthAdjust="spacingAndGlyphs">20</text><text x="401.3" y="577.7" font-size="16" font-family="Liberation Sans, Arial, sans-serif" text-anchor="end" font-weight="bold" textLength="20.11" lengthAdjust="spacingAndGlyphs">40</text><text x="401.3" y="535.7" font-size="16" font-family="Liberation Sans, Arial, sans-serif" text-anchor="end" font-weight="bold" textLength="20.11" lengthAdjust="spacingAndGlyphs">60</text><text x="401.3" y="493.7" font-size="16" font-family="Liberation Sans, Arial, sans-serif" text-anchor="end" font-weight="bold" textLength="20.11" lengthAdjust="spacingAndGlyphs">80</text><text x="401.3" y="451.7" font-size="16" font-family="Liberation Sans, Arial, sans-serif" text-anchor="end" font-weight="bold" textLength="30.17" lengthAdjust="spacingAndGlyphs">100</text><text x="401.3" y="409.7" font-size="16" font-family="Liberation Sans, Arial, sans-serif" text-anchor="end" font-weight="bold" textLength="30.17" lengthAdjust="spacingAndGlyphs">120</text><rect x="440" y="405" width="26.6" height="13.4" fill="#000"/><rect x="540.4" y="406.6" width="23.4" height="10.2" fill="#a3a3a8" stroke="#000" stroke-width="3.3"/><text x="482" y="419.3" font-size="21" font-family="Liberation Sans, Arial, sans-serif">Live</text><text x="580.8" y="419.3" font-size="21" font-family="Liberation Sans, Arial, sans-serif">Apoptosis</text><text transform="translate(358.4 626.3) rotate(-90)" x="0" y="0" font-size="21.5" font-weight="bold" textLength="192.8" lengthAdjust="spacingAndGlyphs" font-family="Liberation Sans, Arial, sans-serif">Percentage of cells</text><text x="454.75" y="688" font-size="19" font-family="Liberation Sans, Arial, sans-serif" text-anchor="middle" font-weight="bold" textLength="69.4" lengthAdjust="spacingAndGlyphs">Control</text><text x="542.5" y="688" font-size="19" font-family="Liberation Sans, Arial, sans-serif" text-anchor="middle" font-weight="bold">Dox</text><text x="578.4" y="688" font-size="19" font-family="Liberation Sans, Arial, sans-serif" font-weight="bold">Dox + CeO<tspan font-size="14.5" font-weight="normal" dy="4">2</tspan></text><text x="525.65" y="522.5" font-size="22" font-family="Liberation Sans, Arial, sans-serif" text-anchor="middle" font-weight="bold" textLength="28.5" lengthAdjust="spacingAndGlyphs">***</text><text x="559.6" y="562.2" font-size="22" font-family="Liberation Sans, Arial, sans-serif" text-anchor="middle" font-weight="bold" textLength="28" lengthAdjust="spacingAndGlyphs">***</text><text x="614.7" y="457" font-size="22" font-family="Liberation Sans, Arial, sans-serif" text-anchor="middle" font-weight="bold" textLength="18.5" lengthAdjust="spacingAndGlyphs">**</text><text x="615.25" y="475.4" font-size="15.6" font-family="Liberation Sans, Arial, sans-serif" text-anchor="middle" font-weight="bold" textLength="27" lengthAdjust="spacingAndGlyphs" stroke="#000" stroke-width="0.45">###</text><text x="645.25" y="617.6" font-size="22" font-family="Liberation Sans, Arial, sans-serif" text-anchor="middle" font-weight="bold" textLength="9" lengthAdjust="spacingAndGlyphs">*</text><text x="647.9" y="633.9" font-size="15.6" font-family="Liberation Sans, Arial, sans-serif" text-anchor="middle" font-weight="bold" textLength="27.5" lengthAdjust="spacingAndGlyphs" stroke="#000" stroke-width="0.45">###</text><text x="54" y="16.3" font-size="19" font-family="Liberation Serif, Times New Roman, serif">Control (Untreated cells)</text><text x="457" y="16.3" font-size="19" font-family="Liberation Serif, Times New Roman, serif">Dox (8.25 μM)</text><text x="7" y="391.9" font-size="19" font-family="Liberation Serif, Times New Roman, serif">CeO<tspan font-size="13" dy="3.5">2</tspan><tspan dy="-3.5"> NP (200 μM) + Dox (8.25 μM)</tspan></text></svg></body></html>
